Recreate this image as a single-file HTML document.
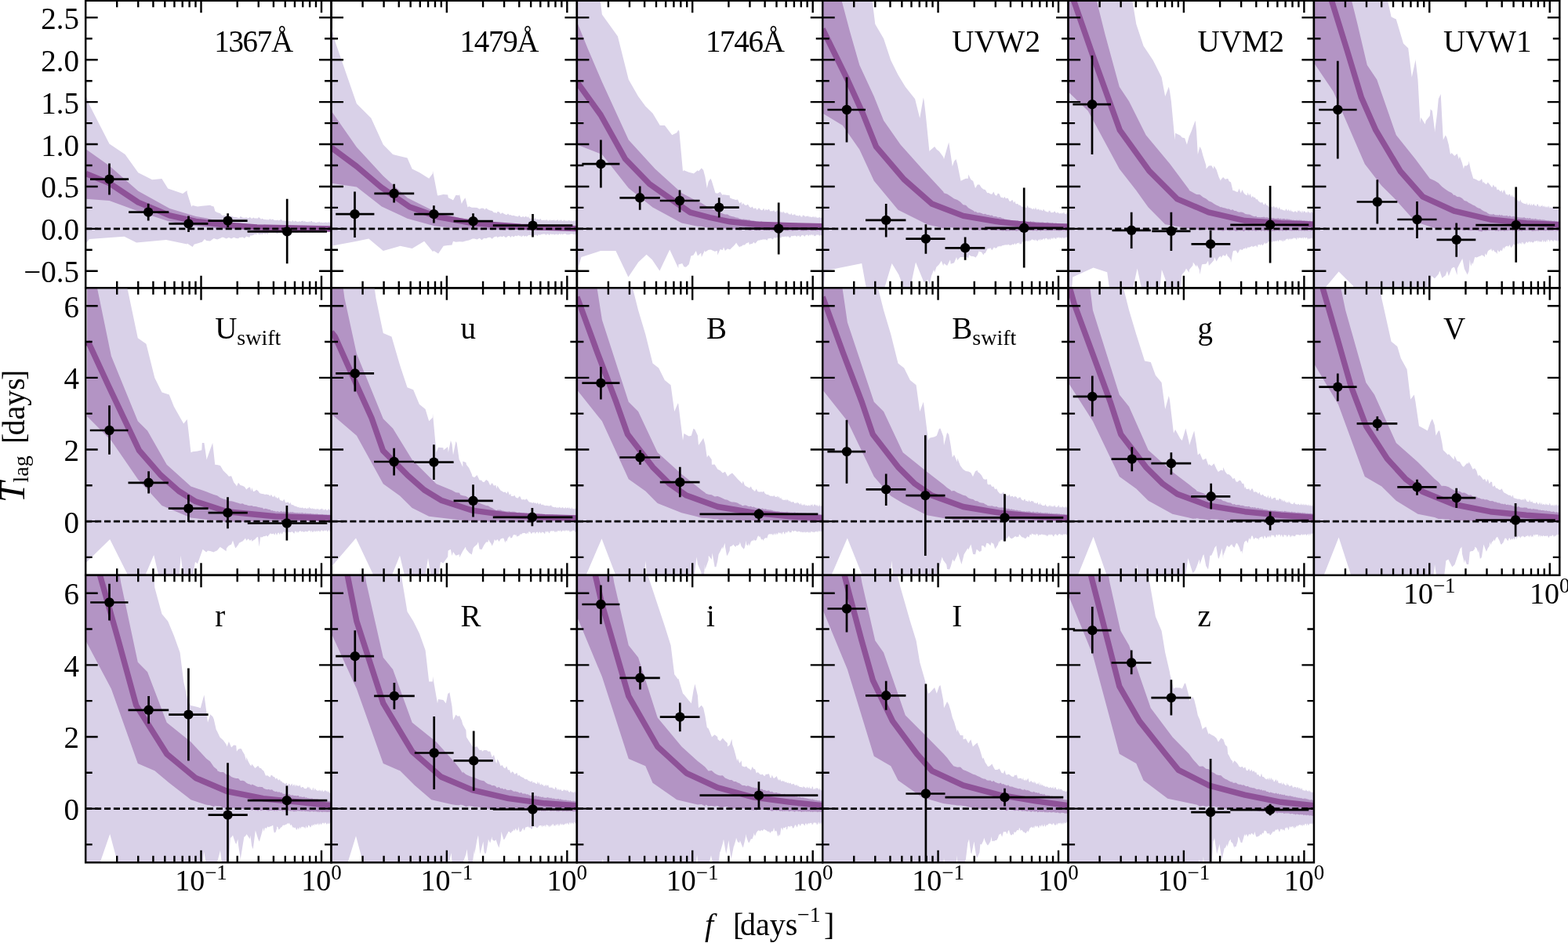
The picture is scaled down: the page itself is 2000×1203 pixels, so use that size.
<!DOCTYPE html><html><head><meta charset="utf-8"><style>html,body{margin:0;padding:0;background:#fff;width:2000px;height:1203px;overflow:hidden}svg{display:block}text{font-family:"Liberation Serif","DejaVu Serif",serif;fill:#000}</style></head><body>
<svg width="2000" height="1203" viewBox="0 0 2000 1203">
<rect width="2000" height="1203" fill="#fff"/>
<defs><clipPath id="c0"><rect x="109.20" y="0.80" width="313.35" height="366.50"/></clipPath><clipPath id="c1"><rect x="422.55" y="0.80" width="313.35" height="366.50"/></clipPath><clipPath id="c2"><rect x="735.90" y="0.80" width="313.35" height="366.50"/></clipPath><clipPath id="c3"><rect x="1049.25" y="0.80" width="313.35" height="366.50"/></clipPath><clipPath id="c4"><rect x="1362.60" y="0.80" width="313.35" height="366.50"/></clipPath><clipPath id="c5"><rect x="1675.95" y="0.80" width="313.35" height="366.50"/></clipPath><clipPath id="c6"><rect x="109.20" y="367.30" width="313.35" height="366.50"/></clipPath><clipPath id="c7"><rect x="422.55" y="367.30" width="313.35" height="366.50"/></clipPath><clipPath id="c8"><rect x="735.90" y="367.30" width="313.35" height="366.50"/></clipPath><clipPath id="c9"><rect x="1049.25" y="367.30" width="313.35" height="366.50"/></clipPath><clipPath id="c10"><rect x="1362.60" y="367.30" width="313.35" height="366.50"/></clipPath><clipPath id="c11"><rect x="1675.95" y="367.30" width="313.35" height="366.50"/></clipPath><clipPath id="c12"><rect x="109.20" y="733.80" width="313.35" height="366.50"/></clipPath><clipPath id="c13"><rect x="422.55" y="733.80" width="313.35" height="366.50"/></clipPath><clipPath id="c14"><rect x="735.90" y="733.80" width="313.35" height="366.50"/></clipPath><clipPath id="c15"><rect x="1049.25" y="733.80" width="313.35" height="366.50"/></clipPath><clipPath id="c16"><rect x="1362.60" y="733.80" width="313.35" height="366.50"/></clipPath></defs>
<g clip-path="url(#c0)">
<path d="M109.5 122.3 L113.9 133.4 L139.5 183.6 L159.6 196.9 L176.3 220.3 L194.1 229.2 L206.4 228.1 L214.2 240.4 L233.1 247.1 L238.6 242.9 L238.7 246.0 L244.3 263.8 L245.7 261.9 L252.0 263.4 L257.8 262.7 L263.2 262.2 L268.1 261.7 L269.9 262.7 L272.7 263.6 L274.4 269.4 L277.0 271.0 L281.0 272.2 L283.3 274.9 L284.9 274.8 L288.5 275.0 L291.9 276.1 L295.1 275.5 L298.2 277.0 L301.2 277.0 L304.0 278.0 L305.6 278.3 L306.7 275.8 L309.4 277.8 L311.9 278.0 L314.3 277.4 L316.6 278.4 L318.9 277.0 L321.1 279.0 L323.2 277.5 L325.3 278.7 L327.2 277.9 L327.8 279.4 L329.2 277.5 L331.1 277.5 L332.9 279.7 L334.7 278.8 L336.4 280.0 L338.1 280.1 L339.7 280.3 L341.3 280.2 L342.9 280.5 L344.4 279.0 L345.9 280.6 L347.4 279.5 L348.8 280.3 L350.2 281.0 L351.6 281.0 L353.0 281.1 L354.3 280.5 L355.6 281.4 L356.8 280.8 L358.1 280.0 L359.3 280.2 L360.5 281.7 L361.7 281.5 L362.9 281.5 L364.0 281.9 L365.1 282.0 L366.2 280.3 L367.3 282.3 L368.4 282.4 L369.4 281.6 L370.4 282.6 L371.5 282.5 L372.4 282.7 L372.5 281.5 L373.5 281.1 L374.4 282.5 L375.4 282.8 L376.3 281.4 L377.3 282.1 L378.2 282.5 L379.1 282.8 L380.0 282.8 L380.9 282.9 L381.7 282.0 L382.6 282.7 L383.5 283.1 L384.3 281.7 L385.1 282.2 L385.9 281.8 L386.7 281.6 L387.5 283.3 L388.3 281.9 L389.1 282.3 L389.9 283.1 L390.6 283.3 L391.4 282.9 L392.1 282.9 L392.9 283.5 L393.6 283.2 L394.3 281.9 L395.0 283.3 L395.7 283.4 L396.4 282.1 L397.1 281.9 L397.8 282.1 L398.5 283.8 L399.2 282.5 L399.8 283.8 L400.5 283.7 L401.1 282.5 L401.8 284.0 L402.4 284.0 L403.1 283.9 L403.7 284.0 L404.3 283.9 L404.9 283.1 L405.5 283.4 L406.1 284.1 L406.7 283.1 L407.3 282.6 L407.9 283.6 L408.5 284.2 L409.1 283.8 L409.6 283.3 L410.2 284.2 L410.8 283.7 L411.3 283.7 L411.9 284.3 L412.4 284.4 L413.0 283.3 L413.5 284.0 L414.0 284.1 L414.6 284.1 L415.1 283.4 L415.6 283.3 L416.1 284.3 L416.7 283.5 L417.2 284.6 L417.7 283.2 L418.2 284.7 L418.7 282.9 L419.2 282.9 L419.7 284.1 L420.2 283.3 L420.6 283.9 L421.1 284.8 L421.6 283.9 L422.1 283.0 L422.5 283.9 L423.0 284.8 L423.5 284.6 L423.9 283.6 L424.4 283.8 L424.8 284.9 L425.0 285.0 L425.3 283.7 L425.7 284.8 L426.2 285.0 L426.6 283.4 L427.1 284.3 L427.5 284.0 L428.0 284.9 L428.4 284.4 L428.8 283.4 L428.8 295.1 L428.4 295.0 L428.0 296.6 L427.5 295.2 L427.1 296.0 L426.6 295.9 L426.2 295.1 L425.7 295.0 L425.3 295.9 L425.0 295.0 L424.8 295.9 L424.4 295.7 L423.9 295.0 L423.5 295.6 L423.0 295.1 L422.5 295.5 L422.1 295.2 L421.6 295.1 L421.1 296.1 L420.6 295.8 L420.2 295.1 L419.7 296.1 L419.2 295.2 L418.7 295.1 L418.2 296.4 L417.7 295.2 L417.2 295.5 L416.7 295.6 L416.1 295.3 L415.6 296.2 L415.1 295.2 L414.6 295.2 L414.0 295.6 L413.5 296.0 L413.0 296.9 L412.4 296.2 L411.9 296.0 L411.3 295.3 L410.8 295.3 L410.2 295.7 L409.6 295.3 L409.1 295.5 L408.5 296.0 L407.9 297.0 L407.3 295.4 L406.7 295.5 L406.1 295.4 L405.5 296.9 L404.9 295.7 L404.3 295.7 L403.7 296.4 L403.1 295.7 L402.4 296.3 L401.8 296.6 L401.1 296.1 L400.5 295.6 L399.8 295.5 L399.2 297.0 L398.5 296.7 L397.8 295.6 L397.1 295.9 L396.4 296.3 L395.7 295.8 L395.0 297.1 L394.3 296.3 L393.6 296.2 L392.9 296.1 L392.1 295.7 L391.4 295.8 L390.6 295.8 L389.9 295.8 L389.1 297.0 L388.3 296.8 L387.5 296.1 L386.7 296.4 L385.9 296.0 L385.1 295.9 L384.3 297.3 L383.5 296.1 L382.6 296.1 L381.7 295.9 L380.9 296.0 L380.0 297.2 L379.1 296.8 L378.2 297.4 L377.3 296.6 L376.3 297.3 L375.4 296.1 L374.4 297.3 L373.5 296.2 L372.5 297.7 L372.4 296.1 L371.5 296.2 L370.4 296.2 L369.4 296.2 L368.4 298.0 L367.3 296.2 L366.2 296.3 L365.1 296.4 L364.0 296.9 L362.9 296.4 L361.7 296.4 L360.5 296.4 L359.3 297.1 L358.1 296.6 L356.8 297.4 L355.6 296.7 L354.3 298.0 L353.0 298.3 L351.6 297.1 L350.2 296.7 L348.8 297.3 L347.4 296.7 L345.9 297.2 L344.4 296.8 L342.9 296.9 L341.3 299.0 L339.7 297.7 L338.1 298.7 L336.4 297.5 L334.7 298.9 L332.9 298.3 L331.1 299.2 L329.2 298.3 L327.8 297.2 L327.2 299.5 L325.3 298.6 L323.2 299.8 L321.1 300.6 L318.9 300.6 L318.9 302.4 L316.6 302.5 L314.3 301.4 L311.9 304.1 L309.4 302.6 L306.7 302.9 L305.6 302.8 L304.0 304.2 L301.2 304.0 L298.2 302.8 L295.1 304.6 L291.9 302.9 L288.5 304.4 L284.9 302.8 L283.3 302.8 L281.0 304.0 L277.0 305.4 L272.7 304.1 L268.1 307.5 L263.2 307.1 L261.0 305.0 L257.8 308.8 L252.0 310.4 L247.6 311.7 L245.7 315.1 L238.7 310.6 L238.6 311.6 L212.0 306.1 L174.1 309.5 L158.5 301.7 L113.9 305.0 L109.5 310.6 Z" fill="#d9d1e8"/>
<path d="M109.5 190.3 L139.5 211.4 L176.3 243.7 L216.4 266.0 L249.8 276.0 L263.2 278.3 L268.1 279.6 L272.7 280.5 L277.0 281.1 L281.0 282.3 L283.3 282.7 L284.9 282.5 L288.5 283.1 L291.9 283.5 L295.1 283.6 L298.2 284.2 L301.2 284.5 L304.0 284.2 L306.7 284.6 L309.4 285.3 L311.9 285.2 L314.3 285.7 L316.6 286.0 L318.9 285.8 L321.1 286.2 L323.2 285.9 L325.3 286.9 L327.2 286.3 L327.8 287.2 L329.2 287.1 L331.1 287.2 L332.9 286.8 L334.7 287.2 L336.4 286.8 L338.1 286.6 L339.7 287.4 L341.3 287.4 L342.9 286.9 L344.4 287.3 L345.9 287.5 L347.4 287.2 L348.8 286.9 L350.2 287.6 L351.6 287.0 L353.0 287.4 L354.3 287.5 L355.6 287.5 L356.8 287.4 L358.1 287.0 L359.3 287.2 L360.5 287.4 L361.7 287.0 L362.9 287.0 L364.0 287.8 L365.1 287.8 L366.2 287.8 L367.3 287.9 L368.4 287.3 L369.4 287.7 L370.4 287.6 L371.5 288.0 L372.5 288.0 L373.5 287.5 L374.4 287.8 L375.4 287.8 L376.3 287.8 L377.3 287.9 L378.2 287.7 L379.1 287.8 L380.0 288.1 L380.9 288.1 L381.7 287.8 L382.6 288.2 L383.5 288.2 L384.3 287.9 L385.1 287.8 L385.9 288.1 L386.7 287.7 L387.5 288.3 L388.3 287.5 L389.1 288.3 L389.9 288.3 L390.6 287.8 L391.4 287.7 L392.1 288.4 L392.9 288.3 L393.6 287.8 L394.3 288.0 L395.0 288.4 L395.7 288.2 L396.4 288.3 L397.1 288.1 L397.8 288.3 L398.5 288.0 L399.2 288.2 L399.8 288.5 L400.5 288.2 L401.1 288.1 L401.8 288.4 L402.4 288.6 L403.1 288.1 L403.7 288.1 L404.3 288.6 L404.9 288.3 L405.5 288.6 L406.1 287.9 L406.7 287.9 L407.3 288.1 L407.9 288.7 L408.5 288.6 L409.1 288.6 L409.6 288.5 L410.2 288.6 L410.8 288.7 L411.3 288.2 L411.9 287.9 L412.4 288.6 L413.0 288.4 L413.5 288.6 L414.0 288.7 L414.6 288.4 L415.1 288.5 L415.6 288.8 L416.1 288.7 L416.7 288.8 L417.2 288.4 L417.7 288.5 L418.2 288.8 L418.7 288.1 L419.2 288.7 L419.7 288.7 L420.2 288.5 L420.6 288.2 L421.1 288.9 L421.6 288.7 L422.1 288.9 L422.5 288.2 L423.0 288.8 L423.5 288.9 L423.9 288.7 L424.4 288.3 L424.8 288.9 L425.0 289.0 L425.3 288.8 L425.7 289.0 L426.2 288.9 L426.6 288.6 L427.1 288.9 L427.5 288.6 L428.0 288.9 L428.4 288.4 L428.8 288.6 L428.8 295.7 L428.4 295.0 L428.0 295.3 L427.5 295.0 L427.1 295.7 L426.6 295.4 L426.2 295.6 L425.7 295.0 L425.3 295.1 L425.0 295.0 L424.8 295.6 L424.4 295.0 L423.9 295.4 L423.5 295.0 L423.0 295.7 L422.5 295.3 L422.1 295.4 L421.6 295.0 L421.1 295.0 L420.6 295.1 L420.2 295.0 L419.7 295.2 L419.2 295.0 L418.7 295.1 L418.2 295.4 L417.7 295.2 L417.2 295.4 L416.7 294.9 L416.1 294.9 L415.6 295.0 L415.1 295.6 L414.6 295.3 L414.0 294.9 L413.5 294.8 L413.0 295.6 L412.4 294.8 L411.9 295.3 L411.3 295.5 L410.8 294.9 L410.2 295.1 L409.6 294.8 L409.1 295.4 L408.5 295.5 L407.9 294.7 L407.3 294.7 L406.7 294.7 L406.1 295.2 L405.5 295.1 L404.9 294.7 L404.3 295.0 L403.7 295.2 L403.1 294.9 L402.4 295.2 L401.8 294.7 L401.1 294.6 L400.5 295.3 L399.8 295.1 L399.2 294.8 L398.5 294.9 L397.8 294.6 L397.1 294.9 L396.4 294.6 L395.7 294.6 L395.0 294.6 L394.3 294.6 L393.6 294.8 L392.9 294.5 L392.1 294.7 L391.4 295.0 L390.6 294.5 L389.9 294.4 L389.1 294.7 L388.3 294.4 L387.5 294.7 L386.7 294.8 L385.9 294.4 L385.1 294.8 L384.3 294.3 L383.5 294.5 L382.6 294.9 L381.7 294.3 L380.9 294.5 L380.0 294.4 L379.1 294.7 L378.2 295.0 L377.3 294.4 L376.3 294.9 L375.4 294.8 L374.4 294.9 L373.5 294.4 L372.5 294.1 L371.5 294.2 L370.4 294.6 L369.4 294.1 L368.4 294.1 L367.3 294.3 L366.2 294.1 L365.1 294.5 L364.0 294.1 L362.9 294.1 L361.7 294.1 L360.5 294.1 L359.3 294.0 L358.1 294.2 L356.8 294.3 L355.6 294.5 L354.3 293.9 L353.0 293.9 L351.6 294.0 L350.2 293.9 L348.8 294.1 L347.4 293.9 L345.9 293.8 L344.4 294.3 L342.9 294.4 L341.3 293.7 L339.7 293.7 L338.1 293.6 L336.4 293.9 L334.7 293.8 L332.9 293.6 L331.1 293.5 L329.2 293.5 L327.8 293.4 L327.2 293.8 L325.3 293.4 L323.2 293.4 L321.1 293.9 L318.9 293.2 L316.6 293.0 L314.3 293.6 L311.9 292.9 L309.4 293.1 L306.7 292.9 L304.0 292.5 L301.2 292.5 L298.2 292.3 L295.1 292.2 L291.9 292.4 L288.5 291.9 L284.9 292.1 L283.3 291.6 L281.0 291.7 L277.0 291.9 L272.7 290.8 L268.1 290.3 L263.2 289.8 L249.8 288.3 L216.4 282.7 L176.3 269.4 L139.5 256.0 L109.5 253.8 Z" fill="#b394c4"/>
<path d="M109.5 221.4 L139.5 233.7 L176.3 258.2 L216.4 274.9 L249.8 282.3 L283.3 286.7 L327.8 289.9 L425.0 292.1" fill="none" stroke="#8e5298" stroke-width="7.4" stroke-linejoin="round"/>
<line x1="109.20" y1="291.84" x2="422.55" y2="291.84" stroke="#000" stroke-width="2.6" stroke-dasharray="8.1 3.8"/>
<line x1="115.0" y1="228.6" x2="164.1" y2="228.6" stroke="#000" stroke-width="2.7"/>
<line x1="139.5" y1="208.5" x2="139.5" y2="248.6" stroke="#000" stroke-width="2.7"/>
<circle cx="139.5" cy="228.6" r="6.2"/>
<line x1="164.1" y1="270.7" x2="215.3" y2="270.7" stroke="#000" stroke-width="2.7"/>
<line x1="189.2" y1="259.8" x2="189.2" y2="281.6" stroke="#000" stroke-width="2.7"/>
<circle cx="189.2" cy="270.7" r="6.2"/>
<line x1="215.3" y1="285.4" x2="265.4" y2="285.4" stroke="#000" stroke-width="2.7"/>
<line x1="240.5" y1="275.4" x2="240.5" y2="296.1" stroke="#000" stroke-width="2.7"/>
<circle cx="240.5" cy="285.4" r="6.2"/>
<line x1="265.4" y1="281.6" x2="315.6" y2="281.6" stroke="#000" stroke-width="2.7"/>
<line x1="290.6" y1="272.3" x2="290.6" y2="290.1" stroke="#000" stroke-width="2.7"/>
<circle cx="290.6" cy="281.6" r="6.2"/>
<line x1="315.6" y1="295.4" x2="417.0" y2="295.4" stroke="#000" stroke-width="2.7"/>
<line x1="366.2" y1="253.8" x2="366.2" y2="336.2" stroke="#000" stroke-width="2.7"/>
<circle cx="366.2" cy="295.4" r="6.2"/>
</g>
<path d="M149.21 0.80 V9.30 M149.21 367.30 V358.80 M176.24 0.80 V9.30 M176.24 367.30 V358.80 M195.42 0.80 V9.30 M195.42 367.30 V358.80 M210.29 0.80 V9.30 M210.29 367.30 V358.80 M222.45 0.80 V9.30 M222.45 367.30 V358.80 M232.72 0.80 V9.30 M232.72 367.30 V358.80 M241.62 0.80 V9.30 M241.62 367.30 V358.80 M249.48 0.80 V9.30 M249.48 367.30 V358.80 M256.50 0.80 V16.30 M256.50 367.30 V351.80 M302.71 0.80 V9.30 M302.71 367.30 V358.80 M329.74 0.80 V9.30 M329.74 367.30 V358.80 M348.92 0.80 V9.30 M348.92 367.30 V358.80 M363.79 0.80 V9.30 M363.79 367.30 V358.80 M375.95 0.80 V9.30 M375.95 367.30 V358.80 M386.22 0.80 V9.30 M386.22 367.30 V358.80 M395.12 0.80 V9.30 M395.12 367.30 V358.80 M402.98 0.80 V9.30 M402.98 367.30 V358.80 M410.00 0.80 V16.30 M410.00 367.30 V351.80 M109.20 345.74 H124.70 M422.55 345.74 H407.05 M109.20 291.84 H124.70 M422.55 291.84 H407.05 M109.20 237.95 H124.70 M422.55 237.95 H407.05 M109.20 184.05 H124.70 M422.55 184.05 H407.05 M109.20 130.15 H124.70 M422.55 130.15 H407.05 M109.20 76.26 H124.70 M422.55 76.26 H407.05 M109.20 22.36 H124.70 M422.55 22.36 H407.05 M109.20 318.79 H117.70 M422.55 318.79 H414.05 M109.20 264.90 H117.70 M422.55 264.90 H414.05 M109.20 211.00 H117.70 M422.55 211.00 H414.05 M109.20 157.10 H117.70 M422.55 157.10 H414.05 M109.20 103.20 H117.70 M422.55 103.20 H414.05 M109.20 49.31 H117.70 M422.55 49.31 H414.05 M109.20 -4.59 H117.70 M422.55 -4.59 H414.05" stroke="#000" stroke-width="2.40" fill="none"/>
<rect x="109.20" y="0.80" width="313.35" height="366.50" fill="none" stroke="#000" stroke-width="2.50"/>
<text x="101" y="346.74" font-size="39" text-anchor="end" dominant-baseline="central">−0.5</text>
<text x="101" y="292.84" font-size="39" text-anchor="end" dominant-baseline="central">0.0</text>
<text x="101" y="238.95" font-size="39" text-anchor="end" dominant-baseline="central">0.5</text>
<text x="101" y="185.05" font-size="39" text-anchor="end" dominant-baseline="central">1.0</text>
<text x="101" y="131.15" font-size="39" text-anchor="end" dominant-baseline="central">1.5</text>
<text x="101" y="77.26" font-size="39" text-anchor="end" dominant-baseline="central">2.0</text>
<text x="101" y="23.36" font-size="39" text-anchor="end" dominant-baseline="central">2.5</text>
<text x="273.20" y="65.80" font-size="39" letter-spacing="-1.3">1367Å</text>
<g clip-path="url(#c1)">
<path d="M422.6 33.8 L427.2 52.3 L454.9 132.3 L473.4 150.8 L488.8 184.6 L501.1 196.9 L519.5 201.5 L525.7 215.4 L534.9 220.0 L547.2 227.7 L551.8 221.5 L552.0 217.8 L558.0 249.2 L559.0 249.4 L565.4 248.0 L571.2 248.6 L571.8 252.3 L576.5 254.6 L578.0 255.4 L581.4 249.0 L585.7 249.2 L586.0 247.6 L588.8 260.0 L590.3 256.7 L593.4 252.3 L594.4 255.7 L596.5 264.6 L598.2 263.3 L601.8 264.8 L605.2 264.7 L608.5 265.1 L611.6 266.8 L614.5 265.4 L617.4 265.9 L618.0 267.7 L620.1 265.5 L622.7 267.5 L625.2 268.5 L627.7 268.9 L630.0 271.2 L632.3 271.2 L633.4 272.3 L634.4 270.1 L636.6 270.3 L638.6 273.1 L640.6 271.2 L642.5 272.5 L644.4 273.5 L646.2 274.2 L648.0 272.4 L649.7 274.6 L651.4 274.1 L653.1 275.2 L654.7 274.7 L656.3 275.3 L657.8 275.7 L659.3 276.1 L660.7 276.4 L662.2 274.6 L663.6 275.9 L664.2 276.9 L665.0 277.0 L666.3 276.4 L667.6 276.0 L668.9 277.5 L670.2 275.7 L671.4 276.2 L672.7 277.5 L673.9 276.0 L675.0 278.4 L676.2 278.7 L677.3 278.6 L678.5 279.0 L679.6 277.1 L680.6 279.4 L681.7 279.3 L682.8 278.0 L683.8 279.9 L684.8 280.0 L685.8 279.5 L686.8 280.0 L687.8 280.5 L688.7 279.6 L689.7 279.1 L690.6 280.9 L691.5 281.0 L692.4 281.1 L693.3 280.8 L694.2 280.5 L694.9 281.5 L695.1 281.4 L696.0 280.0 L696.8 281.6 L697.6 279.8 L698.5 281.5 L699.3 281.6 L700.1 281.6 L700.9 281.0 L701.7 279.9 L702.5 281.7 L703.2 280.9 L704.0 281.1 L704.7 281.3 L705.5 280.4 L706.2 281.6 L707.0 280.0 L707.7 281.6 L708.4 281.5 L709.1 281.3 L709.8 281.2 L710.5 280.8 L711.2 280.4 L711.8 280.1 L712.5 281.9 L713.2 281.9 L713.8 280.7 L714.5 280.6 L715.1 281.8 L715.8 280.3 L716.4 280.4 L717.0 282.0 L717.6 282.0 L718.3 282.0 L718.9 280.4 L719.5 280.4 L720.1 281.9 L720.7 280.4 L721.3 282.0 L721.8 281.6 L722.4 281.5 L723.0 281.4 L723.5 282.1 L724.1 282.2 L724.7 280.5 L725.2 280.9 L725.8 281.7 L726.3 281.3 L726.9 280.9 L727.4 282.2 L727.9 282.1 L728.4 281.2 L729.0 281.4 L729.5 281.9 L730.0 282.2 L730.5 282.3 L731.0 282.1 L731.5 281.5 L732.0 281.9 L732.5 281.5 L733.0 280.5 L733.5 281.9 L734.0 282.2 L734.5 280.7 L734.9 280.4 L735.4 281.9 L735.9 280.7 L736.4 282.0 L736.8 282.4 L737.3 281.9 L737.7 280.7 L738.0 282.5 L738.2 281.5 L738.7 282.4 L739.1 282.4 L739.5 280.5 L740.0 281.6 L740.4 281.7 L740.9 281.4 L741.3 280.8 L741.7 281.2 L742.2 282.0 L742.2 298.1 L741.7 297.9 L741.3 297.8 L740.9 298.6 L740.4 299.1 L740.0 297.9 L739.5 299.0 L739.1 298.4 L738.7 298.0 L738.2 298.0 L738.0 297.8 L737.7 298.4 L737.3 297.9 L736.8 298.5 L736.4 298.3 L735.9 297.9 L735.4 297.9 L734.9 298.2 L734.5 298.2 L734.0 297.9 L733.5 299.8 L733.0 299.5 L732.5 299.6 L732.0 298.1 L731.5 299.1 L731.0 299.5 L730.5 298.0 L730.0 298.7 L729.5 298.0 L729.0 298.6 L728.4 298.0 L727.9 299.1 L727.4 298.0 L726.9 299.2 L726.3 298.5 L725.8 300.0 L725.2 298.9 L724.7 298.3 L724.1 299.7 L723.5 299.8 L723.0 298.3 L722.4 299.6 L721.8 298.1 L721.3 298.8 L720.7 298.1 L720.1 298.1 L719.5 298.6 L718.9 298.5 L718.3 298.6 L717.6 299.8 L717.0 298.3 L716.4 298.2 L715.8 298.2 L715.1 300.0 L714.5 298.3 L713.8 298.2 L713.2 298.2 L712.5 299.1 L711.8 299.5 L711.2 299.8 L710.5 298.3 L709.8 298.6 L709.1 299.7 L708.4 298.3 L707.7 299.3 L707.0 299.9 L706.2 298.3 L705.5 299.1 L704.7 298.6 L704.0 299.5 L703.2 298.4 L702.5 298.4 L701.7 298.6 L700.9 300.1 L700.1 299.8 L699.3 298.4 L698.5 298.5 L697.6 298.5 L696.8 300.4 L696.0 298.5 L695.1 299.5 L694.9 298.5 L694.2 298.6 L693.3 298.6 L692.4 298.7 L691.5 298.7 L690.6 299.0 L689.7 299.0 L688.7 300.3 L687.8 299.1 L686.8 299.3 L685.8 301.0 L684.8 300.8 L683.8 299.0 L682.8 300.4 L681.7 299.4 L680.6 300.7 L679.6 300.5 L678.5 299.5 L677.3 300.7 L676.2 300.0 L675.0 299.8 L673.9 300.2 L672.7 301.2 L671.4 301.7 L670.2 300.7 L668.9 302.0 L667.6 300.2 L666.3 301.2 L665.0 302.5 L664.2 300.0 L663.6 301.8 L662.2 300.4 L660.7 300.2 L659.3 301.5 L657.8 300.6 L656.3 301.6 L654.7 302.2 L653.1 300.8 L651.4 303.0 L649.7 300.9 L648.0 300.9 L646.2 302.8 L644.4 302.8 L642.5 301.1 L640.6 302.3 L638.6 301.5 L636.6 302.0 L634.4 303.0 L633.4 301.5 L632.3 301.8 L630.0 302.6 L627.7 304.8 L625.2 302.8 L622.7 303.0 L620.1 304.3 L617.4 303.8 L614.5 306.3 L611.6 303.7 L608.5 305.5 L605.2 304.4 L602.6 304.6 L601.8 304.9 L598.2 306.6 L594.4 307.3 L590.3 308.4 L586.0 308.2 L581.4 308.8 L578.0 307.7 L576.5 312.4 L571.2 313.1 L565.7 313.8 L565.4 314.3 L559.5 323.1 L559.0 323.6 L553.4 320.0 L552.0 321.0 L541.1 307.7 L525.7 316.9 L510.3 313.8 L488.8 320.0 L470.3 304.6 L454.9 307.7 L422.6 313.8 Z" fill="#d9d1e8"/>
<path d="M422.6 141.5 L454.9 187.7 L488.8 224.6 L519.5 252.3 L556.5 270.8 L576.5 275.7 L581.4 276.8 L586.0 278.0 L587.2 278.5 L590.3 278.8 L594.4 279.3 L598.2 279.4 L601.8 279.5 L605.2 280.6 L608.5 280.4 L611.6 280.9 L614.5 281.7 L617.4 282.3 L620.1 282.1 L622.7 282.3 L625.2 283.1 L627.7 283.9 L630.0 283.7 L632.3 284.5 L633.4 284.6 L634.4 284.5 L636.6 283.9 L638.6 284.1 L640.6 285.1 L642.5 285.1 L644.4 284.5 L646.2 285.3 L648.0 285.6 L649.7 285.0 L651.4 285.6 L653.1 285.8 L654.7 285.3 L656.3 285.6 L657.8 285.6 L659.3 286.3 L660.7 286.2 L662.2 286.5 L663.6 286.6 L665.0 286.6 L666.3 286.3 L667.6 286.0 L668.9 286.4 L670.2 286.5 L671.4 287.0 L672.7 286.4 L673.9 287.2 L675.0 287.0 L676.2 286.9 L677.3 286.9 L678.5 287.5 L679.6 287.3 L680.6 287.7 L681.7 287.4 L682.8 287.7 L683.8 287.6 L684.8 287.7 L685.8 288.0 L686.8 288.1 L687.8 288.2 L688.7 288.1 L689.7 288.0 L690.6 288.3 L691.5 288.3 L692.4 288.4 L693.3 287.7 L694.2 288.1 L694.9 288.6 L695.1 288.5 L696.0 288.5 L696.8 288.7 L697.6 287.9 L698.5 288.6 L699.3 288.7 L700.1 288.3 L700.9 288.0 L701.7 288.7 L702.5 288.8 L703.2 288.5 L704.0 288.6 L704.7 288.6 L705.5 288.4 L706.2 288.8 L707.0 288.8 L707.7 288.9 L708.4 288.5 L709.1 288.8 L709.8 289.0 L710.5 288.3 L711.2 289.1 L711.8 288.8 L712.5 288.6 L713.2 289.1 L713.8 288.8 L714.5 289.2 L715.1 288.7 L715.8 289.1 L716.4 288.8 L717.0 289.2 L717.6 288.9 L718.3 288.7 L718.9 289.1 L719.5 289.3 L720.1 288.7 L720.7 289.3 L721.3 289.3 L721.8 289.0 L722.4 289.2 L723.0 289.4 L723.5 289.4 L724.1 289.0 L724.7 289.5 L725.2 289.4 L725.8 288.9 L726.3 288.7 L726.9 288.9 L727.4 289.5 L727.9 289.5 L728.4 289.4 L729.0 289.2 L729.5 289.0 L730.0 289.2 L730.5 289.6 L731.0 289.0 L731.5 289.4 L732.0 289.2 L732.5 289.3 L733.0 289.6 L733.5 289.7 L734.0 289.4 L734.5 289.0 L734.9 289.6 L735.4 289.1 L735.9 289.7 L736.4 289.5 L736.8 289.4 L737.3 289.8 L737.7 289.6 L738.0 289.8 L738.2 289.5 L738.7 289.3 L739.1 289.5 L739.5 289.2 L740.0 289.8 L740.4 289.6 L740.9 289.8 L741.3 289.8 L741.7 289.2 L742.2 289.8 L742.2 294.2 L741.7 294.1 L741.3 294.1 L740.9 293.9 L740.4 294.1 L740.0 294.1 L739.5 294.6 L739.1 293.9 L738.7 293.8 L738.2 293.9 L738.0 293.8 L737.7 293.8 L737.3 294.0 L736.8 294.1 L736.4 294.0 L735.9 294.1 L735.4 294.5 L734.9 294.2 L734.5 293.8 L734.0 293.8 L733.5 294.4 L733.0 293.8 L732.5 294.4 L732.0 294.0 L731.5 293.9 L731.0 293.9 L730.5 294.4 L730.0 294.0 L729.5 293.7 L729.0 293.9 L728.4 293.9 L727.9 294.4 L727.4 293.8 L726.9 293.7 L726.3 294.2 L725.8 293.8 L725.2 293.8 L724.7 294.0 L724.1 293.8 L723.5 293.8 L723.0 294.1 L722.4 293.9 L721.8 293.7 L721.3 293.9 L720.7 294.1 L720.1 293.7 L719.5 293.6 L718.9 293.6 L718.3 294.0 L717.6 293.6 L717.0 294.2 L716.4 294.1 L715.8 293.6 L715.1 293.9 L714.5 293.7 L713.8 293.6 L713.2 293.7 L712.5 293.5 L711.8 293.8 L711.2 293.6 L710.5 293.6 L709.8 293.5 L709.1 293.7 L708.4 293.5 L707.7 293.5 L707.0 293.5 L706.2 293.4 L705.5 293.8 L704.7 293.8 L704.0 293.7 L703.2 294.1 L702.5 293.9 L701.7 293.5 L700.9 293.9 L700.1 293.9 L699.3 293.5 L698.5 294.0 L697.6 293.3 L696.8 293.8 L696.0 293.3 L695.1 293.4 L694.9 293.2 L694.2 293.6 L693.3 293.4 L692.4 293.3 L691.5 293.3 L690.6 293.3 L689.7 293.2 L688.7 293.2 L687.8 293.2 L686.8 293.6 L685.8 293.6 L684.8 293.2 L683.8 293.2 L682.8 293.4 L681.7 293.2 L680.6 293.3 L679.6 293.7 L678.5 293.5 L677.3 293.7 L676.2 293.7 L675.0 293.6 L673.9 293.7 L672.7 293.5 L671.4 293.3 L670.2 293.1 L668.9 293.1 L667.6 293.5 L666.3 293.1 L665.0 293.6 L663.6 293.4 L662.2 293.8 L660.7 293.1 L659.3 293.1 L657.8 293.0 L656.3 293.0 L654.7 293.1 L653.1 293.0 L651.4 293.6 L649.7 293.0 L648.0 293.0 L646.2 293.0 L644.4 293.7 L642.5 293.8 L640.6 293.3 L638.6 293.3 L636.6 292.9 L634.4 293.2 L633.4 292.9 L632.3 292.9 L630.0 292.8 L627.7 293.6 L625.2 292.8 L622.7 292.8 L620.1 292.8 L617.4 293.1 L614.5 293.4 L611.6 293.0 L608.5 292.7 L605.2 292.4 L601.8 292.8 L598.2 292.6 L594.4 292.4 L590.3 292.4 L587.2 291.7 L586.0 291.6 L581.4 291.1 L576.5 290.8 L554.0 288.3 L519.5 278.8 L486.9 263.4 L454.9 238.5 L422.6 233.8 Z" fill="#b394c4"/>
<path d="M422.6 188.3 L454.9 212.3 L485.7 238.5 L522.6 264.0 L559.5 276.9 L602.6 284.6 L664.2 289.2 L738.0 291.7" fill="none" stroke="#8e5298" stroke-width="7.4" stroke-linejoin="round"/>
<line x1="422.55" y1="291.84" x2="735.90" y2="291.84" stroke="#000" stroke-width="2.6" stroke-dasharray="8.1 3.8"/>
<line x1="428.2" y1="273.2" x2="477.4" y2="273.2" stroke="#000" stroke-width="2.7"/>
<line x1="452.5" y1="244.6" x2="452.5" y2="303.1" stroke="#000" stroke-width="2.7"/>
<circle cx="452.5" cy="273.2" r="6.2"/>
<line x1="477.4" y1="246.8" x2="528.2" y2="246.8" stroke="#000" stroke-width="2.7"/>
<line x1="502.6" y1="234.8" x2="502.6" y2="258.5" stroke="#000" stroke-width="2.7"/>
<circle cx="502.6" cy="246.8" r="6.2"/>
<line x1="528.2" y1="273.2" x2="578.6" y2="273.2" stroke="#000" stroke-width="2.7"/>
<line x1="553.4" y1="262.2" x2="553.4" y2="284.6" stroke="#000" stroke-width="2.7"/>
<circle cx="553.4" cy="273.2" r="6.2"/>
<line x1="578.6" y1="282.2" x2="628.8" y2="282.2" stroke="#000" stroke-width="2.7"/>
<line x1="603.5" y1="272.3" x2="603.5" y2="291.7" stroke="#000" stroke-width="2.7"/>
<circle cx="603.5" cy="282.2" r="6.2"/>
<line x1="628.8" y1="287.7" x2="730.3" y2="287.7" stroke="#000" stroke-width="2.7"/>
<line x1="679.5" y1="272.9" x2="679.5" y2="302.5" stroke="#000" stroke-width="2.7"/>
<circle cx="679.5" cy="287.7" r="6.2"/>
</g>
<path d="M462.56 0.80 V9.30 M462.56 367.30 V358.80 M489.59 0.80 V9.30 M489.59 367.30 V358.80 M508.77 0.80 V9.30 M508.77 367.30 V358.80 M523.64 0.80 V9.30 M523.64 367.30 V358.80 M535.80 0.80 V9.30 M535.80 367.30 V358.80 M546.07 0.80 V9.30 M546.07 367.30 V358.80 M554.97 0.80 V9.30 M554.97 367.30 V358.80 M562.83 0.80 V9.30 M562.83 367.30 V358.80 M569.85 0.80 V16.30 M569.85 367.30 V351.80 M616.06 0.80 V9.30 M616.06 367.30 V358.80 M643.09 0.80 V9.30 M643.09 367.30 V358.80 M662.27 0.80 V9.30 M662.27 367.30 V358.80 M677.14 0.80 V9.30 M677.14 367.30 V358.80 M689.30 0.80 V9.30 M689.30 367.30 V358.80 M699.57 0.80 V9.30 M699.57 367.30 V358.80 M708.47 0.80 V9.30 M708.47 367.30 V358.80 M716.33 0.80 V9.30 M716.33 367.30 V358.80 M723.35 0.80 V16.30 M723.35 367.30 V351.80 M422.55 345.74 H438.05 M735.90 345.74 H720.40 M422.55 291.84 H438.05 M735.90 291.84 H720.40 M422.55 237.95 H438.05 M735.90 237.95 H720.40 M422.55 184.05 H438.05 M735.90 184.05 H720.40 M422.55 130.15 H438.05 M735.90 130.15 H720.40 M422.55 76.26 H438.05 M735.90 76.26 H720.40 M422.55 22.36 H438.05 M735.90 22.36 H720.40 M422.55 318.79 H431.05 M735.90 318.79 H727.40 M422.55 264.90 H431.05 M735.90 264.90 H727.40 M422.55 211.00 H431.05 M735.90 211.00 H727.40 M422.55 157.10 H431.05 M735.90 157.10 H727.40 M422.55 103.20 H431.05 M735.90 103.20 H727.40 M422.55 49.31 H431.05 M735.90 49.31 H727.40 M422.55 -4.59 H431.05 M735.90 -4.59 H727.40" stroke="#000" stroke-width="2.40" fill="none"/>
<rect x="422.55" y="0.80" width="313.35" height="366.50" fill="none" stroke="#000" stroke-width="2.50"/>
<text x="586.55" y="65.80" font-size="39" letter-spacing="-1.3">1479Å</text>
<g clip-path="url(#c2)">
<path d="M735.9 -6.2 L764.8 -6.2 L767.9 18.5 L787.9 46.2 L801.8 101.5 L814.1 123.1 L823.3 135.4 L832.5 144.6 L841.8 160.0 L847.9 160.0 L857.2 172.3 L863.3 169.2 L865.3 165.8 L866.4 167.7 L871.0 218.5 L872.4 217.3 L878.7 219.8 L884.5 221.3 L884.8 221.5 L889.9 217.3 L891.0 218.5 L894.8 214.6 L897.2 216.9 L899.4 225.6 L901.8 240.0 L903.7 231.7 L906.4 227.7 L907.7 230.5 L911.6 243.2 L912.5 246.2 L915.2 246.7 L918.6 244.8 L921.8 249.2 L921.8 248.3 L924.9 248.6 L927.9 248.9 L930.7 249.3 L931.0 252.3 L933.4 253.6 L936.1 254.3 L938.6 255.0 L941.0 254.5 L943.3 259.4 L945.6 257.5 L946.4 261.5 L947.8 259.0 L949.9 261.6 L952.0 262.1 L953.9 260.6 L955.9 264.0 L957.8 265.0 L959.6 263.6 L961.4 266.5 L963.1 265.2 L964.8 266.2 L964.8 267.7 L966.4 267.3 L968.0 265.0 L969.6 266.9 L971.1 268.3 L972.6 268.0 L974.1 265.6 L975.5 268.9 L976.9 266.8 L978.3 268.2 L979.7 267.2 L981.0 266.7 L982.3 269.6 L983.5 269.2 L984.8 269.2 L986.0 269.3 L987.2 267.9 L988.4 270.3 L989.6 270.3 L990.7 268.8 L991.8 268.6 L992.5 270.8 L992.9 268.1 L994.0 271.0 L995.1 269.2 L996.1 271.5 L997.1 269.8 L998.2 271.7 L999.2 269.6 L1000.2 271.1 L1001.1 271.8 L1002.1 272.6 L1003.0 270.6 L1004.0 272.6 L1004.9 270.7 L1005.8 273.4 L1006.7 273.1 L1007.6 273.8 L1008.4 273.7 L1009.3 271.6 L1010.2 274.0 L1011.0 274.5 L1011.8 274.2 L1012.6 273.4 L1013.4 273.5 L1014.2 273.3 L1015.0 275.2 L1015.8 274.7 L1016.6 275.1 L1017.3 275.3 L1018.1 274.9 L1018.8 276.0 L1019.6 274.2 L1020.3 274.5 L1021.0 275.6 L1021.7 276.4 L1022.4 276.7 L1023.1 276.0 L1023.3 276.9 L1023.8 274.6 L1024.5 274.6 L1025.2 275.2 L1025.9 274.7 L1026.5 275.8 L1027.2 276.9 L1027.8 275.7 L1028.5 275.8 L1029.1 276.1 L1029.8 275.7 L1030.4 275.5 L1031.0 275.2 L1031.6 277.0 L1032.2 275.4 L1032.8 277.4 L1033.4 276.2 L1034.0 276.5 L1034.6 277.3 L1035.2 276.9 L1035.8 277.3 L1036.3 276.2 L1036.9 276.7 L1037.5 276.6 L1038.0 276.1 L1038.6 277.6 L1039.1 277.8 L1039.7 275.9 L1040.2 276.1 L1040.7 277.8 L1041.3 277.9 L1041.8 276.3 L1042.3 277.9 L1042.8 277.6 L1043.4 277.9 L1043.9 278.0 L1044.4 277.2 L1044.9 276.7 L1045.4 277.7 L1045.9 277.1 L1046.4 278.0 L1046.9 278.1 L1047.3 277.6 L1047.8 278.3 L1048.3 276.1 L1048.8 278.2 L1049.2 276.6 L1049.7 278.0 L1050.2 277.6 L1050.6 278.3 L1051.0 278.5 L1051.1 278.3 L1051.5 278.0 L1052.0 277.9 L1052.4 278.5 L1052.9 277.3 L1053.3 278.2 L1053.8 277.4 L1054.2 277.0 L1054.7 276.3 L1055.1 277.9 L1055.5 278.2 L1055.5 299.8 L1055.1 301.1 L1054.7 301.6 L1054.2 300.7 L1053.8 301.3 L1053.3 299.3 L1052.9 301.2 L1052.4 299.2 L1052.0 299.9 L1051.5 301.6 L1051.1 299.4 L1051.0 299.2 L1050.6 300.6 L1050.2 299.5 L1049.7 299.4 L1049.2 301.6 L1048.8 299.3 L1048.3 300.9 L1047.8 300.6 L1047.3 300.1 L1046.9 300.0 L1046.4 300.2 L1045.9 300.2 L1045.4 301.3 L1044.9 299.3 L1044.4 301.0 L1043.9 299.5 L1043.4 299.2 L1042.8 300.5 L1042.3 299.2 L1041.8 299.6 L1041.3 299.5 L1040.7 300.5 L1040.2 301.6 L1039.7 300.5 L1039.1 301.1 L1038.6 301.5 L1038.0 300.4 L1037.5 299.2 L1036.9 299.5 L1036.3 300.7 L1035.8 299.3 L1035.2 299.2 L1035.0 299.2 L1034.6 299.4 L1034.0 300.9 L1033.4 299.3 L1032.8 299.6 L1032.2 300.1 L1031.6 300.8 L1031.0 301.4 L1030.4 299.8 L1029.8 299.5 L1029.1 299.6 L1028.5 300.0 L1027.8 299.8 L1027.2 300.8 L1026.5 302.2 L1025.9 300.6 L1025.2 301.4 L1024.5 299.8 L1023.8 299.9 L1023.1 300.0 L1022.4 300.2 L1021.7 301.2 L1021.0 302.0 L1020.3 302.5 L1019.6 301.1 L1019.0 300.0 L1018.8 301.8 L1018.1 300.6 L1017.3 300.4 L1016.6 301.9 L1015.8 301.6 L1015.0 301.1 L1014.2 300.6 L1013.4 300.8 L1012.6 300.8 L1011.8 301.0 L1011.0 301.4 L1010.2 300.8 L1009.3 301.1 L1008.4 302.7 L1007.6 302.9 L1006.7 303.0 L1005.8 302.1 L1004.9 300.7 L1004.0 302.2 L1003.0 302.4 L1003.0 300.8 L1002.1 301.8 L1001.1 302.2 L1000.2 301.2 L999.2 302.5 L998.2 301.8 L997.1 302.0 L996.1 303.8 L995.1 302.8 L994.0 302.2 L992.9 302.5 L991.8 302.7 L990.7 303.0 L989.6 303.8 L988.4 303.2 L987.2 303.2 L987.0 303.2 L986.0 305.5 L984.8 304.9 L983.5 303.7 L982.3 304.0 L981.0 304.2 L979.7 304.3 L978.3 306.7 L976.9 305.5 L975.5 305.4 L974.1 305.4 L972.6 305.4 L971.1 306.2 L971.0 305.6 L969.6 306.4 L968.0 306.4 L966.4 306.9 L964.8 309.0 L963.1 310.8 L961.4 308.8 L959.6 311.0 L957.8 311.0 L955.9 312.3 L955.0 308.8 L953.9 309.8 L952.0 310.3 L949.9 312.5 L947.8 312.4 L945.6 314.2 L943.8 314.4 L943.3 315.4 L941.0 312.8 L939.0 309.6 L938.6 310.6 L936.1 313.6 L933.4 315.9 L931.0 318.4 L930.7 318.3 L927.9 317.2 L924.9 319.9 L923.0 315.2 L921.8 319.0 L918.6 317.9 L915.2 325.4 L915.0 320.0 L911.6 320.8 L907.7 319.0 L907.0 318.4 L903.7 318.7 L899.4 321.5 L899.0 319.2 L894.8 327.9 L894.2 322.4 L889.9 326.4 L887.8 320.0 L884.5 325.6 L881.4 326.4 L878.7 337.2 L875.0 340.8 L872.4 340.3 L870.2 336.0 L865.4 337.6 L865.3 342.3 L854.2 318.4 L841.4 345.6 L831.8 331.2 L824.6 324.8 L814.2 334.4 L801.4 353.6 L785.4 320.0 L766.2 320.0 L741.4 328.0 L735.8 347.2 L734.2 347.2 Z" fill="#d9d1e8"/>
<path d="M735.9 27.7 L749.5 61.5 L767.9 104.6 L801.8 178.5 L835.6 215.4 L869.5 246.2 L889.9 257.0 L894.8 259.0 L899.4 261.9 L903.7 264.4 L907.7 266.3 L911.6 268.1 L915.2 269.8 L915.6 270.8 L918.6 270.9 L921.8 272.6 L924.9 273.6 L927.9 273.6 L930.7 275.2 L933.4 276.1 L936.1 276.6 L938.6 277.4 L941.0 277.7 L943.3 279.1 L945.6 279.5 L946.4 280.0 L947.8 279.5 L949.9 279.8 L952.0 280.0 L953.9 280.6 L955.9 280.3 L957.8 281.4 L959.6 281.5 L961.4 281.6 L963.1 282.0 L964.8 282.2 L966.4 282.0 L968.0 282.6 L969.6 282.8 L971.1 282.3 L972.6 283.1 L974.1 283.3 L975.5 283.3 L976.9 283.1 L978.3 283.2 L979.7 283.9 L981.0 284.1 L982.3 283.7 L983.5 283.7 L984.8 283.9 L986.0 284.8 L987.2 284.6 L988.4 284.4 L989.6 285.2 L990.7 285.3 L991.8 285.4 L992.5 285.5 L992.9 284.9 L994.0 285.4 L995.1 285.5 L996.1 285.7 L997.1 285.7 L998.2 285.4 L999.2 285.2 L1000.2 285.7 L1001.1 285.4 L1002.1 285.8 L1003.0 285.6 L1004.0 286.0 L1004.9 285.7 L1005.8 285.9 L1006.7 285.4 L1007.6 285.6 L1008.4 286.1 L1009.3 285.5 L1010.2 286.1 L1011.0 286.1 L1011.8 285.8 L1012.6 286.1 L1013.4 286.1 L1014.2 286.3 L1015.0 286.0 L1015.8 286.1 L1016.6 286.2 L1017.3 286.3 L1018.1 286.5 L1018.8 286.4 L1019.6 286.5 L1020.3 286.5 L1021.0 286.6 L1021.7 286.6 L1022.4 286.4 L1023.1 286.4 L1023.8 286.6 L1024.5 286.5 L1025.2 286.2 L1025.9 286.7 L1026.5 286.8 L1027.2 286.6 L1027.8 286.7 L1028.5 286.1 L1029.1 286.9 L1029.8 286.6 L1030.4 286.9 L1031.0 286.8 L1031.6 286.4 L1032.2 286.6 L1032.8 286.4 L1033.4 286.3 L1034.0 286.6 L1034.6 287.0 L1035.2 287.0 L1035.8 287.1 L1036.3 287.0 L1036.9 286.4 L1037.5 286.5 L1038.0 287.2 L1038.6 287.1 L1039.1 287.1 L1039.7 287.1 L1040.2 286.9 L1040.7 286.9 L1041.3 287.2 L1041.8 287.3 L1042.3 287.2 L1042.8 287.1 L1043.4 287.3 L1043.9 287.3 L1044.4 286.6 L1044.9 287.3 L1045.4 287.4 L1045.9 287.4 L1046.4 286.8 L1046.9 287.4 L1047.3 287.2 L1047.8 287.5 L1048.3 287.6 L1048.8 287.4 L1049.2 287.3 L1049.7 287.6 L1050.2 287.3 L1050.6 287.5 L1051.0 287.7 L1051.1 287.0 L1051.5 287.5 L1052.0 287.7 L1052.4 287.0 L1052.9 286.9 L1053.3 287.0 L1053.8 287.7 L1054.2 287.7 L1054.7 287.2 L1055.1 287.0 L1055.5 287.4 L1055.5 294.5 L1055.1 293.9 L1054.7 294.5 L1054.2 294.5 L1053.8 293.9 L1053.3 293.9 L1052.9 294.3 L1052.4 294.6 L1052.0 293.9 L1051.5 294.4 L1051.1 293.9 L1051.0 293.8 L1050.6 293.9 L1050.2 293.9 L1049.7 294.5 L1049.2 294.3 L1048.8 294.1 L1048.3 293.8 L1047.8 293.9 L1047.3 294.6 L1046.9 294.0 L1046.4 294.5 L1045.9 293.9 L1045.4 293.9 L1044.9 294.0 L1044.4 294.0 L1043.9 294.2 L1043.4 293.9 L1042.8 294.4 L1042.3 294.5 L1041.8 294.5 L1041.3 293.9 L1040.7 293.9 L1040.2 294.5 L1039.7 294.1 L1039.1 294.2 L1038.6 293.8 L1038.0 294.0 L1037.5 294.3 L1036.9 294.2 L1036.3 294.0 L1035.8 294.7 L1035.2 293.9 L1034.6 293.9 L1034.0 294.1 L1033.4 294.1 L1032.8 293.9 L1032.2 294.1 L1031.6 293.9 L1031.0 294.7 L1030.4 294.4 L1029.8 293.9 L1029.1 294.1 L1028.5 294.5 L1027.8 294.4 L1027.2 294.1 L1026.5 293.9 L1025.9 294.5 L1025.2 294.4 L1024.5 294.3 L1023.8 294.7 L1023.1 293.9 L1022.4 294.5 L1021.7 294.2 L1021.0 294.4 L1020.3 294.0 L1019.6 293.8 L1018.8 293.9 L1018.1 293.9 L1017.3 293.9 L1016.6 293.9 L1015.8 294.0 L1015.0 293.9 L1014.2 294.3 L1013.4 293.9 L1012.6 293.9 L1011.8 294.5 L1011.0 294.6 L1010.2 294.6 L1009.3 294.0 L1008.4 294.3 L1007.6 293.9 L1006.7 294.7 L1005.8 293.9 L1004.9 294.4 L1004.0 294.6 L1003.0 294.1 L1002.1 294.7 L1001.1 293.8 L1000.2 294.0 L999.2 294.5 L998.2 293.9 L997.1 294.2 L996.1 294.4 L995.1 293.9 L994.0 293.8 L992.9 294.2 L992.5 293.8 L991.8 294.4 L990.7 293.9 L989.6 294.6 L988.4 294.5 L987.2 293.9 L986.0 294.4 L984.8 294.6 L983.5 294.2 L982.3 294.1 L981.0 293.9 L979.7 293.6 L978.3 293.7 L976.9 293.8 L975.5 293.6 L974.1 294.1 L972.6 293.5 L971.1 293.6 L969.6 293.9 L968.0 294.1 L966.4 293.4 L964.8 294.2 L963.1 293.4 L961.4 293.2 L959.6 293.6 L957.8 294.0 L955.9 293.9 L953.9 293.1 L952.0 293.0 L949.9 293.0 L947.8 293.0 L946.4 292.9 L945.6 293.2 L943.3 293.4 L941.0 292.8 L938.6 292.4 L936.1 292.3 L933.4 292.1 L930.7 293.1 L927.9 291.6 L924.9 291.7 L921.8 291.3 L918.6 291.0 L915.6 290.8 L915.2 291.5 L911.6 291.1 L907.7 289.7 L903.7 290.2 L899.4 289.9 L894.8 288.8 L889.9 288.8 L869.5 284.6 L832.5 264.6 L801.8 240.0 L767.9 196.9 L735.9 184.6 Z" fill="#b394c4"/>
<path d="M735.9 104.6 L739.3 109.2 L766.1 146.5 L797.5 202.8 L828.5 234.8 L859.6 256.6 L879.9 270.8 L905.5 277.5 L931.0 282.8 L964.8 286.2 L1007.9 287.7 L1051.0 288.6" fill="none" stroke="#8e5298" stroke-width="7.4" stroke-linejoin="round"/>
<line x1="735.90" y1="291.84" x2="1049.25" y2="291.84" stroke="#000" stroke-width="2.6" stroke-dasharray="8.1 3.8"/>
<line x1="742.4" y1="209.2" x2="790.4" y2="209.2" stroke="#000" stroke-width="2.7"/>
<line x1="766.4" y1="178.5" x2="766.4" y2="239.4" stroke="#000" stroke-width="2.7"/>
<circle cx="766.4" cy="209.2" r="6.2"/>
<line x1="790.4" y1="252.3" x2="841.8" y2="252.3" stroke="#000" stroke-width="2.7"/>
<line x1="816.2" y1="237.5" x2="816.2" y2="267.7" stroke="#000" stroke-width="2.7"/>
<circle cx="816.2" cy="252.3" r="6.2"/>
<line x1="841.8" y1="256.0" x2="892.5" y2="256.0" stroke="#000" stroke-width="2.7"/>
<line x1="867.0" y1="242.5" x2="867.0" y2="270.8" stroke="#000" stroke-width="2.7"/>
<circle cx="867.0" cy="256.0" r="6.2"/>
<line x1="892.5" y1="264.6" x2="942.7" y2="264.6" stroke="#000" stroke-width="2.7"/>
<line x1="917.2" y1="252.3" x2="917.2" y2="277.5" stroke="#000" stroke-width="2.7"/>
<circle cx="917.2" cy="264.6" r="6.2"/>
<line x1="942.7" y1="291.7" x2="1043.3" y2="291.7" stroke="#000" stroke-width="2.7"/>
<line x1="993.2" y1="258.5" x2="993.2" y2="324.6" stroke="#000" stroke-width="2.7"/>
<circle cx="993.2" cy="291.7" r="6.2"/>
</g>
<path d="M775.91 0.80 V9.30 M775.91 367.30 V358.80 M802.94 0.80 V9.30 M802.94 367.30 V358.80 M822.12 0.80 V9.30 M822.12 367.30 V358.80 M836.99 0.80 V9.30 M836.99 367.30 V358.80 M849.15 0.80 V9.30 M849.15 367.30 V358.80 M859.42 0.80 V9.30 M859.42 367.30 V358.80 M868.32 0.80 V9.30 M868.32 367.30 V358.80 M876.18 0.80 V9.30 M876.18 367.30 V358.80 M883.20 0.80 V16.30 M883.20 367.30 V351.80 M929.41 0.80 V9.30 M929.41 367.30 V358.80 M956.44 0.80 V9.30 M956.44 367.30 V358.80 M975.62 0.80 V9.30 M975.62 367.30 V358.80 M990.49 0.80 V9.30 M990.49 367.30 V358.80 M1002.65 0.80 V9.30 M1002.65 367.30 V358.80 M1012.92 0.80 V9.30 M1012.92 367.30 V358.80 M1021.82 0.80 V9.30 M1021.82 367.30 V358.80 M1029.68 0.80 V9.30 M1029.68 367.30 V358.80 M1036.70 0.80 V16.30 M1036.70 367.30 V351.80 M735.90 345.74 H751.40 M1049.25 345.74 H1033.75 M735.90 291.84 H751.40 M1049.25 291.84 H1033.75 M735.90 237.95 H751.40 M1049.25 237.95 H1033.75 M735.90 184.05 H751.40 M1049.25 184.05 H1033.75 M735.90 130.15 H751.40 M1049.25 130.15 H1033.75 M735.90 76.26 H751.40 M1049.25 76.26 H1033.75 M735.90 22.36 H751.40 M1049.25 22.36 H1033.75 M735.90 318.79 H744.40 M1049.25 318.79 H1040.75 M735.90 264.90 H744.40 M1049.25 264.90 H1040.75 M735.90 211.00 H744.40 M1049.25 211.00 H1040.75 M735.90 157.10 H744.40 M1049.25 157.10 H1040.75 M735.90 103.20 H744.40 M1049.25 103.20 H1040.75 M735.90 49.31 H744.40 M1049.25 49.31 H1040.75 M735.90 -4.59 H744.40 M1049.25 -4.59 H1040.75" stroke="#000" stroke-width="2.40" fill="none"/>
<rect x="735.90" y="0.80" width="313.35" height="366.50" fill="none" stroke="#000" stroke-width="2.50"/>
<text x="899.90" y="65.80" font-size="39" letter-spacing="-1.3">1746Å</text>
<g clip-path="url(#c3)">
<path d="M1049.2 -6.2 L1111.7 -6.2 L1116.3 30.8 L1127.1 49.2 L1136.3 76.9 L1145.5 95.4 L1154.8 110.8 L1167.1 126.2 L1173.2 150.8 L1177.8 124.6 L1178.7 128.7 L1180.9 147.7 L1185.5 193.8 L1185.7 192.6 L1192.1 187.0 L1194.8 190.8 L1197.9 193.1 L1203.2 200.2 L1204.0 203.1 L1208.1 188.6 L1210.2 181.5 L1212.7 197.8 L1214.8 212.3 L1217.0 205.8 L1219.4 203.1 L1221.1 209.1 L1224.9 227.8 L1225.5 230.8 L1228.5 229.2 L1231.9 227.8 L1234.8 227.7 L1235.2 222.5 L1238.3 228.9 L1241.2 231.0 L1244.0 240.0 L1244.1 239.9 L1246.8 235.5 L1247.1 235.4 L1249.4 235.6 L1251.9 239.6 L1254.4 241.4 L1256.7 242.0 L1259.0 245.8 L1259.4 246.2 L1261.1 245.9 L1263.3 247.4 L1265.3 247.8 L1267.3 244.6 L1269.2 248.7 L1271.1 249.7 L1272.9 246.5 L1274.7 247.6 L1276.4 251.5 L1277.8 252.3 L1278.1 251.6 L1279.8 253.0 L1281.4 251.1 L1283.0 253.6 L1284.5 252.5 L1286.0 253.3 L1287.4 256.5 L1288.9 257.1 L1290.3 255.4 L1291.7 255.2 L1293.0 258.9 L1294.3 256.5 L1295.6 260.0 L1296.9 260.3 L1298.1 259.7 L1299.4 261.8 L1300.6 261.4 L1301.7 262.2 L1302.9 263.4 L1304.0 263.9 L1305.2 263.7 L1305.5 264.6 L1306.3 263.8 L1307.3 264.0 L1308.4 265.2 L1309.5 264.7 L1310.5 262.1 L1311.5 264.0 L1312.5 265.6 L1313.5 264.5 L1314.5 265.8 L1315.4 265.4 L1316.4 266.7 L1317.3 267.0 L1318.2 265.4 L1319.1 266.6 L1320.0 267.5 L1320.9 264.2 L1321.8 266.5 L1322.7 267.8 L1323.5 267.3 L1324.3 266.2 L1325.2 267.8 L1326.0 267.0 L1326.8 268.9 L1327.6 266.9 L1328.4 268.1 L1329.2 268.9 L1329.9 268.9 L1330.7 267.1 L1331.4 266.9 L1332.2 269.6 L1332.9 267.9 L1333.7 269.9 L1334.4 269.5 L1335.1 270.5 L1335.8 270.2 L1336.3 270.8 L1336.5 270.0 L1337.2 270.9 L1337.9 268.3 L1338.5 269.2 L1339.2 268.5 L1339.9 270.4 L1340.5 271.1 L1341.2 270.9 L1341.8 271.4 L1342.5 270.7 L1343.1 270.8 L1343.7 271.4 L1344.3 269.8 L1345.0 270.3 L1345.6 268.9 L1346.2 271.4 L1346.8 270.8 L1347.4 271.9 L1348.0 271.6 L1348.5 270.6 L1349.1 271.9 L1349.7 270.4 L1350.2 271.5 L1350.8 272.3 L1351.4 272.4 L1351.9 272.5 L1352.5 271.5 L1353.0 272.4 L1353.6 272.4 L1354.1 270.4 L1354.6 272.8 L1355.1 272.2 L1355.7 271.6 L1356.2 272.8 L1356.7 270.3 L1357.2 270.8 L1357.7 271.9 L1358.2 273.1 L1358.7 273.0 L1359.2 273.1 L1359.7 273.2 L1360.2 273.4 L1360.7 271.3 L1361.2 271.8 L1361.6 273.6 L1362.1 271.0 L1362.6 272.9 L1363.1 271.4 L1363.5 273.5 L1364.0 271.9 L1364.0 273.8 L1364.4 273.8 L1364.9 273.8 L1365.4 273.0 L1365.8 272.4 L1366.2 273.4 L1366.7 271.9 L1367.1 273.5 L1367.6 271.3 L1368.0 273.3 L1368.4 271.8 L1368.9 272.3 L1368.9 302.4 L1368.4 302.6 L1368.0 302.5 L1367.6 304.9 L1367.1 302.9 L1366.7 303.9 L1366.2 303.0 L1365.8 303.6 L1365.4 303.8 L1364.9 304.9 L1364.4 304.0 L1364.0 302.4 L1364.0 302.7 L1363.5 302.8 L1363.1 302.4 L1362.6 304.7 L1362.1 302.4 L1361.6 302.8 L1361.2 302.8 L1360.7 302.7 L1360.2 302.6 L1359.7 302.5 L1359.2 303.2 L1358.7 302.7 L1358.2 305.0 L1357.7 303.5 L1357.2 303.0 L1356.7 304.6 L1356.2 303.6 L1355.7 302.7 L1355.1 302.7 L1354.6 303.9 L1354.1 304.5 L1353.6 302.5 L1353.0 303.7 L1352.5 302.7 L1351.9 304.7 L1351.4 303.2 L1350.8 302.4 L1350.2 302.4 L1349.7 304.2 L1349.1 303.1 L1348.5 303.2 L1348.0 302.4 L1348.0 302.4 L1347.4 304.8 L1346.8 304.6 L1346.2 305.1 L1345.6 302.9 L1345.0 304.9 L1344.3 302.8 L1343.7 303.1 L1343.1 305.6 L1342.5 303.4 L1341.8 305.5 L1341.2 303.3 L1340.5 303.8 L1339.9 305.4 L1339.2 306.0 L1338.5 304.3 L1337.9 304.4 L1337.2 306.0 L1336.5 305.5 L1335.8 305.1 L1335.1 303.7 L1334.4 303.8 L1333.7 304.0 L1332.9 304.8 L1332.2 307.0 L1332.0 304.0 L1331.4 304.5 L1330.7 304.7 L1329.9 305.1 L1329.2 306.2 L1328.4 306.1 L1327.6 304.4 L1326.8 307.7 L1326.0 304.7 L1325.2 306.1 L1324.3 306.2 L1323.5 308.1 L1322.7 306.4 L1321.8 306.9 L1320.9 305.1 L1320.0 307.5 L1319.1 305.8 L1318.2 306.6 L1317.3 305.6 L1316.4 305.6 L1316.0 305.6 L1315.4 306.0 L1314.5 307.5 L1313.5 306.1 L1312.5 308.6 L1311.5 306.5 L1310.5 308.2 L1309.5 306.9 L1308.4 307.7 L1307.3 307.8 L1306.3 310.4 L1305.2 308.6 L1304.0 308.0 L1302.9 311.4 L1301.7 311.0 L1300.6 311.8 L1300.0 308.8 L1299.4 310.5 L1298.1 309.9 L1296.9 310.4 L1295.6 312.2 L1294.3 309.9 L1293.0 312.6 L1291.7 311.3 L1290.3 312.6 L1288.9 312.8 L1287.4 312.7 L1286.0 311.6 L1284.5 313.0 L1284.0 312.0 L1283.0 312.6 L1281.4 312.6 L1279.8 313.0 L1278.1 313.2 L1276.4 314.7 L1276.0 313.6 L1274.7 314.4 L1272.9 314.2 L1271.1 316.6 L1269.2 316.5 L1268.0 315.2 L1267.3 316.3 L1265.3 319.3 L1263.3 316.2 L1261.1 317.5 L1260.0 316.8 L1259.0 318.6 L1256.7 323.1 L1255.2 323.2 L1254.4 325.4 L1251.9 321.6 L1249.4 321.1 L1248.8 320.0 L1246.8 325.5 L1244.1 328.9 L1244.0 328.0 L1241.2 327.1 L1238.3 326.7 L1236.0 324.8 L1235.2 329.4 L1231.9 327.0 L1228.5 328.0 L1228.0 328.0 L1224.9 328.1 L1221.1 332.1 L1220.0 328.0 L1217.0 335.3 L1212.7 336.7 L1212.0 331.2 L1208.1 339.1 L1204.0 336.0 L1203.2 339.2 L1200.8 332.8 L1197.9 337.2 L1194.4 340.8 L1192.1 347.5 L1191.2 344.0 L1188.0 352.0 L1185.7 362.7 L1183.2 356.8 L1178.7 359.9 L1178.4 360.0 L1168.0 334.4 L1159.2 376.0 L1156.0 376.0 L1146.4 350.4 L1137.6 336.0 L1125.6 376.0 L1106.4 376.0 L1099.2 336.0 L1052.0 345.6 L1050.4 376.0 L1047.2 376.0 Z" fill="#d9d1e8"/>
<path d="M1049.2 -6.2 L1071.7 -6.2 L1084.0 40.0 L1096.3 83.1 L1114.8 123.1 L1127.1 153.8 L1148.6 184.6 L1176.3 215.4 L1203.2 244.5 L1204.0 246.2 L1208.1 247.5 L1212.7 250.6 L1217.0 253.5 L1221.1 255.1 L1224.9 257.4 L1228.5 261.2 L1231.9 261.8 L1235.2 265.3 L1238.3 267.1 L1241.2 268.6 L1244.0 270.8 L1244.1 269.6 L1246.8 271.4 L1249.4 271.2 L1251.9 271.9 L1254.4 273.2 L1256.7 272.7 L1259.0 274.1 L1261.1 274.1 L1263.3 275.0 L1265.3 274.6 L1267.3 276.2 L1269.2 276.0 L1271.1 276.2 L1272.9 277.5 L1274.7 277.1 L1276.4 277.3 L1278.1 278.4 L1279.8 278.5 L1281.4 279.5 L1283.0 279.8 L1284.5 279.9 L1286.0 280.6 L1287.4 280.5 L1288.9 280.9 L1290.2 281.5 L1290.3 281.4 L1291.7 281.3 L1293.0 281.7 L1294.3 281.3 L1295.6 281.4 L1296.9 281.5 L1298.1 281.2 L1299.4 281.9 L1300.6 282.2 L1301.7 282.2 L1302.9 282.2 L1304.0 281.6 L1305.2 282.5 L1306.3 281.9 L1307.3 282.6 L1308.4 282.3 L1309.5 282.5 L1310.5 282.8 L1311.5 282.4 L1312.5 282.8 L1313.5 282.8 L1314.5 282.1 L1315.4 282.6 L1316.4 283.2 L1317.3 282.3 L1318.2 282.8 L1319.1 282.7 L1320.0 283.1 L1320.9 283.1 L1321.8 283.5 L1322.7 282.8 L1323.5 283.4 L1324.3 283.2 L1325.2 283.3 L1326.0 283.4 L1326.8 283.7 L1327.6 283.4 L1328.4 283.5 L1329.2 283.7 L1329.9 283.3 L1330.7 283.6 L1331.4 284.1 L1332.2 283.9 L1332.9 284.1 L1333.7 284.2 L1334.4 284.2 L1335.1 283.7 L1335.8 283.5 L1336.5 283.8 L1337.2 283.8 L1337.9 284.4 L1338.5 284.6 L1339.2 284.4 L1339.9 284.6 L1340.5 284.5 L1341.2 284.5 L1341.8 284.7 L1342.5 284.0 L1343.1 284.3 L1343.7 284.9 L1344.3 284.9 L1345.0 284.9 L1345.6 284.8 L1346.2 284.3 L1346.8 284.9 L1347.4 284.4 L1348.0 285.0 L1348.5 284.7 L1349.1 285.2 L1349.7 285.1 L1350.2 285.2 L1350.8 284.8 L1351.4 285.4 L1351.9 285.2 L1352.5 285.4 L1353.0 285.4 L1353.6 285.5 L1354.1 285.3 L1354.6 285.6 L1355.1 285.2 L1355.7 285.0 L1356.2 285.6 L1356.7 285.0 L1357.2 285.6 L1357.7 285.5 L1358.2 285.7 L1358.7 285.1 L1359.2 285.8 L1359.7 285.1 L1360.2 285.6 L1360.7 285.6 L1361.2 285.1 L1361.6 285.8 L1362.1 286.0 L1362.6 286.0 L1363.1 286.0 L1363.5 286.1 L1364.0 285.3 L1364.0 286.2 L1364.4 285.9 L1364.9 285.3 L1365.4 285.5 L1365.8 286.1 L1366.2 285.7 L1366.7 286.1 L1367.1 285.8 L1367.6 285.9 L1368.0 285.3 L1368.4 286.1 L1368.9 285.8 L1368.9 294.5 L1368.4 294.3 L1368.0 294.6 L1367.6 293.9 L1367.1 293.9 L1366.7 293.9 L1366.2 293.9 L1365.8 294.4 L1365.4 293.9 L1364.9 294.1 L1364.4 294.4 L1364.0 293.8 L1364.0 294.3 L1363.5 294.7 L1363.1 293.8 L1362.6 293.9 L1362.1 294.4 L1361.6 293.9 L1361.2 293.9 L1360.7 294.2 L1360.2 294.1 L1359.7 293.9 L1359.2 294.6 L1358.7 294.2 L1358.2 294.1 L1357.7 293.8 L1357.2 294.7 L1356.7 294.7 L1356.2 294.0 L1355.7 294.2 L1355.1 293.9 L1354.6 293.9 L1354.1 293.9 L1353.6 294.2 L1353.0 294.0 L1352.5 294.4 L1351.9 294.2 L1351.4 294.5 L1350.8 294.5 L1350.2 294.5 L1349.7 294.2 L1349.1 294.2 L1348.5 294.2 L1348.0 293.9 L1347.4 294.5 L1346.8 293.9 L1346.2 293.8 L1345.6 294.4 L1345.0 293.9 L1344.3 293.9 L1343.7 294.1 L1343.1 293.8 L1342.5 294.2 L1341.8 294.3 L1341.2 294.6 L1340.5 294.0 L1339.9 294.3 L1339.2 294.2 L1338.5 294.1 L1337.9 293.9 L1337.2 294.7 L1336.5 293.8 L1335.8 293.9 L1335.1 294.7 L1334.4 294.0 L1333.7 294.3 L1332.9 294.3 L1332.2 294.0 L1331.4 294.1 L1330.7 293.9 L1329.9 293.9 L1329.2 293.9 L1328.4 293.9 L1327.6 294.7 L1326.8 294.4 L1326.0 293.9 L1325.2 293.9 L1324.3 293.8 L1323.5 294.3 L1322.7 294.5 L1321.8 294.6 L1320.9 294.1 L1320.0 294.0 L1319.1 294.2 L1318.2 294.2 L1317.3 294.4 L1316.4 293.9 L1315.4 293.9 L1314.5 294.0 L1313.5 294.1 L1312.5 293.9 L1311.5 294.7 L1310.5 294.6 L1309.5 294.0 L1308.4 294.2 L1307.3 294.3 L1306.3 293.9 L1305.2 294.6 L1304.0 294.2 L1302.9 294.0 L1301.7 293.9 L1300.6 294.7 L1299.4 293.8 L1298.1 294.3 L1296.9 294.7 L1295.6 294.6 L1294.3 294.1 L1293.0 294.3 L1291.7 294.2 L1290.3 294.3 L1290.2 293.8 L1288.9 294.2 L1287.4 294.4 L1286.0 294.2 L1284.5 294.6 L1283.0 294.8 L1281.4 293.7 L1279.8 294.6 L1278.1 294.2 L1276.4 294.0 L1274.7 293.7 L1272.9 293.8 L1271.1 294.1 L1269.2 293.4 L1267.3 293.3 L1265.3 293.4 L1263.3 293.3 L1261.1 293.2 L1259.0 293.5 L1256.7 293.9 L1254.4 293.0 L1251.9 293.0 L1249.4 294.0 L1246.8 292.9 L1244.1 293.7 L1241.2 293.5 L1238.3 292.6 L1235.2 292.6 L1231.9 293.0 L1228.6 292.3 L1228.5 293.2 L1224.9 292.6 L1221.1 291.3 L1217.0 290.8 L1212.7 290.3 L1208.1 289.7 L1203.2 291.2 L1182.5 286.2 L1145.5 267.7 L1114.8 230.8 L1096.3 190.8 L1074.8 160.0 L1049.2 144.6 Z" fill="#b394c4"/>
<path d="M1049.2 36.9 L1080.9 101.5 L1100.9 145.5 L1117.5 187.1 L1152.9 228.6 L1188.6 260.0 L1228.6 275.4 L1274.8 283.1 L1320.9 287.7 L1364.0 289.2" fill="none" stroke="#8e5298" stroke-width="7.4" stroke-linejoin="round"/>
<line x1="1049.25" y1="291.84" x2="1362.60" y2="291.84" stroke="#000" stroke-width="2.6" stroke-dasharray="8.1 3.8"/>
<line x1="1055.4" y1="140.0" x2="1104.0" y2="140.0" stroke="#000" stroke-width="2.7"/>
<line x1="1080.0" y1="98.5" x2="1080.0" y2="181.5" stroke="#000" stroke-width="2.7"/>
<circle cx="1080.0" cy="140.0" r="6.2"/>
<line x1="1104.0" y1="280.9" x2="1155.4" y2="280.9" stroke="#000" stroke-width="2.7"/>
<line x1="1130.2" y1="260.0" x2="1130.2" y2="302.5" stroke="#000" stroke-width="2.7"/>
<circle cx="1130.2" cy="280.9" r="6.2"/>
<line x1="1155.4" y1="304.6" x2="1205.5" y2="304.6" stroke="#000" stroke-width="2.7"/>
<line x1="1180.9" y1="286.2" x2="1180.9" y2="323.7" stroke="#000" stroke-width="2.7"/>
<circle cx="1180.9" cy="304.6" r="6.2"/>
<line x1="1205.5" y1="316.3" x2="1256.3" y2="316.3" stroke="#000" stroke-width="2.7"/>
<line x1="1231.1" y1="302.5" x2="1231.1" y2="331.7" stroke="#000" stroke-width="2.7"/>
<circle cx="1231.1" cy="316.3" r="6.2"/>
<line x1="1256.3" y1="290.8" x2="1356.3" y2="290.8" stroke="#000" stroke-width="2.7"/>
<line x1="1306.2" y1="239.4" x2="1306.2" y2="341.5" stroke="#000" stroke-width="2.7"/>
<circle cx="1306.2" cy="290.8" r="6.2"/>
</g>
<path d="M1089.26 0.80 V9.30 M1089.26 367.30 V358.80 M1116.29 0.80 V9.30 M1116.29 367.30 V358.80 M1135.47 0.80 V9.30 M1135.47 367.30 V358.80 M1150.34 0.80 V9.30 M1150.34 367.30 V358.80 M1162.50 0.80 V9.30 M1162.50 367.30 V358.80 M1172.77 0.80 V9.30 M1172.77 367.30 V358.80 M1181.67 0.80 V9.30 M1181.67 367.30 V358.80 M1189.53 0.80 V9.30 M1189.53 367.30 V358.80 M1196.55 0.80 V16.30 M1196.55 367.30 V351.80 M1242.76 0.80 V9.30 M1242.76 367.30 V358.80 M1269.79 0.80 V9.30 M1269.79 367.30 V358.80 M1288.97 0.80 V9.30 M1288.97 367.30 V358.80 M1303.84 0.80 V9.30 M1303.84 367.30 V358.80 M1316.00 0.80 V9.30 M1316.00 367.30 V358.80 M1326.27 0.80 V9.30 M1326.27 367.30 V358.80 M1335.17 0.80 V9.30 M1335.17 367.30 V358.80 M1343.03 0.80 V9.30 M1343.03 367.30 V358.80 M1350.05 0.80 V16.30 M1350.05 367.30 V351.80 M1049.25 345.74 H1064.75 M1362.60 345.74 H1347.10 M1049.25 291.84 H1064.75 M1362.60 291.84 H1347.10 M1049.25 237.95 H1064.75 M1362.60 237.95 H1347.10 M1049.25 184.05 H1064.75 M1362.60 184.05 H1347.10 M1049.25 130.15 H1064.75 M1362.60 130.15 H1347.10 M1049.25 76.26 H1064.75 M1362.60 76.26 H1347.10 M1049.25 22.36 H1064.75 M1362.60 22.36 H1347.10 M1049.25 318.79 H1057.75 M1362.60 318.79 H1354.10 M1049.25 264.90 H1057.75 M1362.60 264.90 H1354.10 M1049.25 211.00 H1057.75 M1362.60 211.00 H1354.10 M1049.25 157.10 H1057.75 M1362.60 157.10 H1354.10 M1049.25 103.20 H1057.75 M1362.60 103.20 H1354.10 M1049.25 49.31 H1057.75 M1362.60 49.31 H1354.10 M1049.25 -4.59 H1057.75 M1362.60 -4.59 H1354.10" stroke="#000" stroke-width="2.40" fill="none"/>
<rect x="1049.25" y="0.80" width="313.35" height="366.50" fill="none" stroke="#000" stroke-width="2.50"/>
<text x="1214.25" y="65.80" font-size="39">UVW2</text>
<g clip-path="url(#c4)">
<path d="M1362.5 -6.2 L1443.2 -6.2 L1449.3 30.8 L1458.5 58.5 L1470.8 76.9 L1481.6 98.5 L1486.2 123.1 L1490.8 110.8 L1492.0 116.3 L1493.9 129.2 L1498.5 178.5 L1499.1 169.7 L1505.4 172.8 L1507.8 175.4 L1511.2 176.2 L1513.9 184.6 L1516.6 174.4 L1520.1 166.2 L1521.5 162.1 L1524.7 153.8 L1526.1 167.3 L1527.8 196.9 L1530.4 187.0 L1532.4 190.8 L1534.4 198.6 L1538.3 210.7 L1538.5 215.4 L1541.9 211.4 L1545.3 211.2 L1547.8 215.4 L1548.5 211.5 L1551.6 216.4 L1554.6 225.8 L1557.0 230.8 L1557.4 228.9 L1560.1 226.1 L1562.8 228.7 L1565.3 228.0 L1566.2 227.7 L1567.7 231.2 L1570.0 232.5 L1572.3 242.2 L1572.4 243.1 L1574.5 243.3 L1576.6 244.4 L1578.7 245.1 L1580.6 240.6 L1582.6 246.5 L1584.5 241.9 L1586.3 246.1 L1588.1 248.0 L1589.8 248.9 L1590.8 249.2 L1591.5 245.6 L1593.1 249.7 L1594.7 246.9 L1596.3 252.2 L1597.8 250.1 L1599.3 251.9 L1600.8 251.7 L1602.2 254.5 L1603.6 254.0 L1605.0 256.2 L1606.4 257.6 L1607.7 258.5 L1609.0 258.4 L1610.2 257.7 L1611.5 260.7 L1612.7 261.3 L1613.9 258.7 L1615.1 261.6 L1616.3 262.1 L1617.4 262.6 L1618.5 264.5 L1618.5 264.6 L1619.6 264.1 L1620.7 264.5 L1621.8 263.3 L1622.8 264.6 L1623.8 264.1 L1624.9 262.8 L1625.9 265.2 L1626.9 264.0 L1627.8 265.3 L1628.8 263.4 L1629.7 266.0 L1630.7 266.8 L1631.6 264.0 L1632.5 265.5 L1633.4 267.5 L1634.3 267.3 L1635.1 267.1 L1636.0 268.1 L1636.9 268.1 L1637.7 268.4 L1638.5 268.6 L1639.3 268.8 L1640.1 266.5 L1640.9 266.8 L1641.7 268.4 L1642.5 269.0 L1643.3 267.0 L1644.0 267.8 L1644.8 269.2 L1645.5 269.6 L1646.3 266.9 L1647.0 270.3 L1647.7 269.0 L1648.4 269.5 L1649.1 270.5 L1649.3 270.8 L1649.8 269.9 L1650.5 270.7 L1651.2 269.4 L1651.9 269.5 L1652.6 269.5 L1653.2 269.8 L1653.9 271.0 L1654.5 271.1 L1655.2 269.3 L1655.8 268.0 L1656.5 269.8 L1657.1 268.3 L1657.7 268.8 L1658.3 270.7 L1658.9 270.3 L1659.5 268.6 L1660.1 271.4 L1660.7 271.3 L1661.3 269.4 L1661.9 268.6 L1662.5 271.5 L1663.0 270.6 L1663.6 268.8 L1664.2 270.0 L1664.7 269.4 L1665.3 271.5 L1665.8 271.2 L1666.4 270.0 L1666.9 271.6 L1667.4 271.4 L1668.0 269.3 L1668.5 269.3 L1669.0 271.0 L1669.5 270.7 L1670.1 269.5 L1670.6 271.9 L1671.1 271.9 L1671.6 271.7 L1672.1 269.9 L1672.6 269.6 L1673.1 271.2 L1673.6 270.1 L1674.0 272.1 L1674.5 271.3 L1675.0 271.6 L1675.5 270.8 L1675.9 272.2 L1676.4 272.1 L1676.9 272.1 L1677.0 272.3 L1677.3 271.1 L1677.8 272.1 L1678.2 271.8 L1678.7 271.3 L1679.1 271.1 L1679.6 269.3 L1680.0 272.0 L1680.5 272.3 L1680.9 269.7 L1681.4 271.1 L1681.8 270.1 L1682.2 271.7 L1682.2 306.7 L1681.8 304.5 L1681.4 304.4 L1680.9 304.0 L1680.5 305.1 L1680.0 306.0 L1679.6 304.7 L1679.1 304.4 L1678.7 304.0 L1678.2 305.1 L1677.8 304.7 L1677.3 305.6 L1677.0 304.0 L1676.9 306.7 L1676.4 304.5 L1675.9 303.9 L1675.5 305.4 L1675.0 305.5 L1674.5 306.3 L1674.0 304.0 L1673.6 303.7 L1673.1 303.7 L1672.6 303.7 L1672.1 303.7 L1671.6 303.8 L1671.1 304.8 L1670.6 304.9 L1670.1 303.7 L1669.5 305.0 L1669.0 303.8 L1668.5 304.7 L1668.0 305.9 L1667.4 303.8 L1666.9 303.0 L1666.4 303.1 L1665.8 303.0 L1665.3 305.0 L1664.7 302.9 L1664.2 303.4 L1663.6 303.0 L1663.0 302.6 L1662.5 305.6 L1661.9 302.5 L1661.3 303.9 L1661.0 302.4 L1660.7 304.5 L1660.1 303.2 L1659.5 304.0 L1658.9 303.1 L1658.3 303.7 L1657.7 303.5 L1657.1 303.1 L1656.5 303.4 L1655.8 305.3 L1655.2 303.1 L1654.5 303.1 L1653.9 305.7 L1653.2 305.4 L1652.6 303.3 L1651.9 304.4 L1651.2 303.5 L1650.5 303.5 L1649.8 303.5 L1649.1 305.0 L1648.4 303.9 L1647.7 305.7 L1647.0 304.3 L1646.3 304.4 L1645.5 306.1 L1645.0 304.0 L1644.8 304.7 L1644.0 304.5 L1643.3 306.8 L1642.5 304.5 L1641.7 304.5 L1640.9 305.5 L1640.1 304.9 L1639.3 306.8 L1638.5 307.7 L1637.7 305.6 L1636.9 307.9 L1636.0 307.9 L1635.1 305.5 L1634.3 307.7 L1633.4 306.4 L1632.5 305.9 L1631.6 306.5 L1630.7 308.5 L1629.7 306.4 L1629.0 306.4 L1628.8 308.0 L1627.8 307.2 L1626.9 307.4 L1625.9 308.1 L1624.9 307.8 L1623.8 307.5 L1622.8 309.2 L1621.8 308.3 L1621.0 307.2 L1620.7 310.6 L1619.6 308.3 L1618.5 308.1 L1617.4 308.2 L1616.3 310.6 L1615.1 310.0 L1613.9 311.6 L1613.0 308.8 L1612.7 310.0 L1611.5 312.0 L1610.2 313.3 L1609.0 311.3 L1607.7 313.1 L1606.4 311.7 L1605.0 312.4 L1605.0 311.2 L1603.6 315.7 L1602.2 313.2 L1600.8 313.8 L1599.3 314.6 L1597.8 315.0 L1597.0 313.6 L1596.3 314.3 L1594.7 315.0 L1593.1 315.8 L1591.5 315.2 L1589.8 317.9 L1589.0 315.2 L1588.1 317.2 L1586.3 316.9 L1584.5 319.0 L1582.6 318.2 L1581.0 318.4 L1580.6 319.9 L1578.7 323.3 L1576.6 319.4 L1574.5 319.7 L1573.0 320.0 L1572.3 322.5 L1570.0 335.3 L1569.8 331.2 L1567.7 328.5 L1565.3 326.0 L1565.0 323.2 L1562.8 326.8 L1560.1 325.2 L1557.4 328.9 L1557.0 326.4 L1554.6 328.2 L1551.6 333.4 L1549.0 328.0 L1548.5 331.8 L1545.3 335.4 L1541.9 338.9 L1541.0 332.8 L1538.3 336.7 L1534.4 337.0 L1533.0 337.6 L1530.4 350.2 L1529.8 344.0 L1526.6 337.6 L1526.1 340.5 L1521.8 334.4 L1521.5 338.4 L1517.0 344.0 L1516.6 347.8 L1513.0 342.4 L1511.2 346.2 L1507.4 350.4 L1505.8 376.0 L1505.4 376.4 L1499.1 381.6 L1492.0 378.5 L1489.8 376.0 L1486.6 356.8 L1481.8 344.0 L1478.6 376.0 L1457.8 376.0 L1450.6 342.4 L1443.4 376.0 L1416.2 376.0 L1412.2 347.2 L1394.6 341.6 L1368.2 353.6 L1366.6 376.0 L1360.2 376.0 Z" fill="#d9d1e8"/>
<path d="M1362.5 -6.2 L1397.0 -6.2 L1409.3 43.1 L1427.8 110.8 L1440.1 129.2 L1461.6 172.3 L1492.4 209.2 L1516.6 241.8 L1517.0 243.1 L1521.5 245.4 L1526.1 248.0 L1530.4 248.3 L1534.4 251.5 L1538.3 253.4 L1541.9 256.4 L1545.3 257.7 L1548.5 260.0 L1551.6 261.7 L1554.6 263.0 L1557.0 264.6 L1557.4 263.9 L1560.1 264.9 L1562.8 265.4 L1565.3 266.6 L1567.7 266.4 L1570.0 268.1 L1572.3 267.3 L1574.5 269.1 L1576.6 269.0 L1578.7 270.3 L1580.6 270.7 L1582.6 270.6 L1584.5 270.8 L1586.3 271.4 L1588.1 272.8 L1589.8 273.3 L1591.5 273.6 L1593.1 273.6 L1594.7 274.1 L1596.3 274.8 L1597.8 275.5 L1599.3 275.9 L1600.8 276.2 L1602.2 275.6 L1603.2 276.9 L1603.6 277.0 L1605.0 277.1 L1606.4 277.0 L1607.7 277.3 L1609.0 276.9 L1610.2 276.9 L1611.5 276.7 L1612.7 276.8 L1613.9 277.6 L1615.1 277.4 L1616.3 277.0 L1617.4 278.1 L1618.5 278.2 L1619.6 277.7 L1620.7 278.1 L1621.8 277.7 L1622.8 278.6 L1623.8 278.3 L1624.9 278.0 L1625.9 278.7 L1626.9 278.9 L1627.8 278.6 L1628.8 279.1 L1629.7 278.3 L1630.7 278.3 L1631.6 279.2 L1632.5 279.3 L1633.4 278.5 L1634.3 279.4 L1635.1 279.4 L1636.0 279.3 L1636.9 279.0 L1637.7 279.0 L1638.5 278.9 L1639.3 279.8 L1640.1 279.8 L1640.9 279.4 L1641.7 279.1 L1642.5 279.7 L1643.3 279.6 L1644.0 280.0 L1644.8 279.6 L1645.5 280.3 L1646.3 280.3 L1647.0 280.3 L1647.7 280.4 L1648.4 280.7 L1649.1 280.8 L1649.8 280.5 L1650.5 280.8 L1651.2 280.9 L1651.9 280.9 L1652.6 281.0 L1653.2 280.5 L1653.9 281.1 L1654.5 280.4 L1655.2 281.3 L1655.8 280.8 L1656.5 281.0 L1657.1 280.6 L1657.7 280.5 L1658.3 281.4 L1658.9 280.7 L1659.5 280.5 L1660.1 280.9 L1660.7 281.5 L1661.3 281.6 L1661.9 281.1 L1662.5 281.8 L1663.0 281.0 L1663.6 281.1 L1664.2 281.9 L1664.7 281.2 L1665.3 281.8 L1665.8 281.2 L1666.4 282.1 L1666.9 281.3 L1667.4 281.5 L1668.0 282.2 L1668.5 281.9 L1669.0 282.4 L1669.5 281.8 L1670.1 282.1 L1670.6 281.5 L1671.1 282.1 L1671.6 282.3 L1672.1 282.7 L1672.6 282.6 L1673.1 282.4 L1673.6 282.7 L1674.0 282.7 L1674.5 281.8 L1675.0 282.8 L1675.5 282.1 L1675.9 283.0 L1676.4 282.8 L1676.9 282.9 L1677.0 283.1 L1677.3 282.2 L1677.8 282.2 L1678.2 282.6 L1678.7 283.1 L1679.1 283.0 L1679.6 282.9 L1680.0 283.0 L1680.5 282.6 L1680.9 283.0 L1681.4 282.3 L1681.8 282.8 L1682.2 282.7 L1682.2 294.8 L1681.8 293.9 L1681.4 293.9 L1680.9 294.6 L1680.5 294.9 L1680.0 293.9 L1679.6 294.3 L1679.1 293.8 L1678.7 293.8 L1678.2 294.8 L1677.8 294.9 L1677.3 294.0 L1677.0 293.8 L1676.9 293.9 L1676.4 293.9 L1675.9 294.0 L1675.5 294.1 L1675.0 293.9 L1674.5 294.0 L1674.0 294.0 L1673.6 294.0 L1673.1 293.9 L1672.6 294.6 L1672.1 294.8 L1671.6 294.5 L1671.1 293.9 L1670.6 293.9 L1670.1 294.7 L1669.5 293.9 L1669.0 294.3 L1668.5 293.9 L1668.0 294.9 L1667.4 294.2 L1666.9 294.1 L1666.4 294.4 L1665.8 293.9 L1665.3 294.4 L1664.7 294.5 L1664.2 294.3 L1663.6 294.9 L1663.0 293.9 L1662.5 294.1 L1661.9 294.4 L1661.3 293.9 L1660.7 293.9 L1660.1 294.8 L1659.5 294.5 L1658.9 293.9 L1658.3 294.1 L1657.7 293.8 L1657.1 294.4 L1656.5 294.6 L1655.8 293.9 L1655.2 293.8 L1654.5 293.9 L1653.9 294.7 L1653.2 294.0 L1652.6 293.8 L1651.9 294.6 L1651.2 294.3 L1650.5 294.2 L1649.8 293.9 L1649.1 294.6 L1648.4 294.0 L1647.7 294.9 L1647.0 293.9 L1646.3 293.9 L1645.5 294.7 L1644.8 293.8 L1644.0 293.9 L1643.3 294.1 L1642.5 293.8 L1641.7 293.9 L1640.9 294.7 L1640.1 294.6 L1639.3 294.2 L1638.5 294.1 L1637.7 294.1 L1636.9 294.0 L1636.0 294.9 L1635.1 294.0 L1634.3 294.0 L1633.4 294.2 L1632.5 294.0 L1631.6 294.9 L1630.7 293.9 L1629.7 294.0 L1628.8 294.2 L1627.8 294.2 L1626.9 294.0 L1625.9 295.0 L1624.9 294.2 L1623.8 294.3 L1622.8 295.0 L1621.8 294.5 L1620.7 294.5 L1619.6 294.7 L1618.5 294.4 L1617.4 295.0 L1616.3 294.5 L1615.1 294.0 L1613.9 294.4 L1612.7 294.7 L1611.5 293.9 L1610.2 293.9 L1609.0 294.9 L1607.7 293.9 L1606.4 293.9 L1605.0 294.2 L1603.6 293.9 L1602.2 295.0 L1600.8 294.5 L1599.3 293.8 L1597.8 294.4 L1596.3 293.9 L1594.7 294.0 L1593.1 294.6 L1591.5 294.2 L1589.8 293.8 L1588.1 293.9 L1586.3 295.3 L1584.5 293.9 L1582.6 294.3 L1580.6 294.0 L1578.7 294.3 L1576.6 295.0 L1574.5 293.9 L1572.4 293.8 L1572.3 293.9 L1570.0 294.3 L1567.7 294.4 L1565.3 293.6 L1562.8 293.5 L1560.1 294.7 L1557.4 294.0 L1554.6 294.1 L1551.6 293.3 L1548.5 294.1 L1545.3 293.8 L1541.9 292.8 L1538.3 293.1 L1534.4 292.9 L1530.4 293.9 L1526.2 292.3 L1526.1 292.9 L1521.5 291.9 L1516.6 291.4 L1486.2 286.2 L1464.7 264.6 L1449.3 243.1 L1427.8 215.4 L1387.8 141.5 L1362.5 116.9 Z" fill="#b394c4"/>
<path d="M1362.5 -12.3 L1369.3 0.0 L1393.9 70.8 L1428.4 166.2 L1465.9 218.2 L1501.6 253.8 L1541.6 270.8 L1587.8 281.5 L1633.9 284.6 L1677.0 286.2" fill="none" stroke="#8e5298" stroke-width="7.4" stroke-linejoin="round"/>
<line x1="1362.60" y1="291.84" x2="1675.95" y2="291.84" stroke="#000" stroke-width="2.6" stroke-dasharray="8.1 3.8"/>
<line x1="1368.4" y1="133.2" x2="1417.0" y2="133.2" stroke="#000" stroke-width="2.7"/>
<line x1="1393.0" y1="70.8" x2="1393.0" y2="196.9" stroke="#000" stroke-width="2.7"/>
<circle cx="1393.0" cy="133.2" r="6.2"/>
<line x1="1418.5" y1="293.8" x2="1467.8" y2="293.8" stroke="#000" stroke-width="2.7"/>
<line x1="1443.2" y1="270.8" x2="1443.2" y2="316.9" stroke="#000" stroke-width="2.7"/>
<circle cx="1443.2" cy="293.8" r="6.2"/>
<line x1="1469.3" y1="294.8" x2="1518.5" y2="294.8" stroke="#000" stroke-width="2.7"/>
<line x1="1493.9" y1="270.8" x2="1493.9" y2="320.0" stroke="#000" stroke-width="2.7"/>
<circle cx="1493.9" cy="294.8" r="6.2"/>
<line x1="1519.5" y1="311.4" x2="1569.3" y2="311.4" stroke="#000" stroke-width="2.7"/>
<line x1="1544.1" y1="293.8" x2="1544.1" y2="328.6" stroke="#000" stroke-width="2.7"/>
<circle cx="1544.1" cy="311.4" r="6.2"/>
<line x1="1569.3" y1="286.8" x2="1669.3" y2="286.8" stroke="#000" stroke-width="2.7"/>
<line x1="1620.1" y1="236.9" x2="1620.1" y2="335.4" stroke="#000" stroke-width="2.7"/>
<circle cx="1620.1" cy="286.8" r="6.2"/>
</g>
<path d="M1402.61 0.80 V9.30 M1402.61 367.30 V358.80 M1429.64 0.80 V9.30 M1429.64 367.30 V358.80 M1448.82 0.80 V9.30 M1448.82 367.30 V358.80 M1463.69 0.80 V9.30 M1463.69 367.30 V358.80 M1475.85 0.80 V9.30 M1475.85 367.30 V358.80 M1486.12 0.80 V9.30 M1486.12 367.30 V358.80 M1495.02 0.80 V9.30 M1495.02 367.30 V358.80 M1502.88 0.80 V9.30 M1502.88 367.30 V358.80 M1509.90 0.80 V16.30 M1509.90 367.30 V351.80 M1556.11 0.80 V9.30 M1556.11 367.30 V358.80 M1583.14 0.80 V9.30 M1583.14 367.30 V358.80 M1602.32 0.80 V9.30 M1602.32 367.30 V358.80 M1617.19 0.80 V9.30 M1617.19 367.30 V358.80 M1629.35 0.80 V9.30 M1629.35 367.30 V358.80 M1639.62 0.80 V9.30 M1639.62 367.30 V358.80 M1648.52 0.80 V9.30 M1648.52 367.30 V358.80 M1656.38 0.80 V9.30 M1656.38 367.30 V358.80 M1663.40 0.80 V16.30 M1663.40 367.30 V351.80 M1362.60 345.74 H1378.10 M1675.95 345.74 H1660.45 M1362.60 291.84 H1378.10 M1675.95 291.84 H1660.45 M1362.60 237.95 H1378.10 M1675.95 237.95 H1660.45 M1362.60 184.05 H1378.10 M1675.95 184.05 H1660.45 M1362.60 130.15 H1378.10 M1675.95 130.15 H1660.45 M1362.60 76.26 H1378.10 M1675.95 76.26 H1660.45 M1362.60 22.36 H1378.10 M1675.95 22.36 H1660.45 M1362.60 318.79 H1371.10 M1675.95 318.79 H1667.45 M1362.60 264.90 H1371.10 M1675.95 264.90 H1667.45 M1362.60 211.00 H1371.10 M1675.95 211.00 H1667.45 M1362.60 157.10 H1371.10 M1675.95 157.10 H1667.45 M1362.60 103.20 H1371.10 M1675.95 103.20 H1667.45 M1362.60 49.31 H1371.10 M1675.95 49.31 H1667.45 M1362.60 -4.59 H1371.10 M1675.95 -4.59 H1667.45" stroke="#000" stroke-width="2.40" fill="none"/>
<rect x="1362.60" y="0.80" width="313.35" height="366.50" fill="none" stroke="#000" stroke-width="2.50"/>
<text x="1527.60" y="65.80" font-size="39">UVM2</text>
<g clip-path="url(#c5)">
<path d="M1675.8 -6.2 L1768.5 -6.2 L1774.6 21.5 L1780.8 24.6 L1790.0 55.4 L1796.2 61.5 L1800.8 98.5 L1805.4 76.9 L1805.4 74.9 L1808.5 101.5 L1811.5 156.9 L1812.4 149.8 L1817.7 158.5 L1818.8 154.0 L1823.8 147.7 L1824.6 139.3 L1826.9 141.5 L1829.9 165.4 L1830.0 169.2 L1833.1 144.6 L1834.8 126.3 L1837.7 120.0 L1839.4 152.2 L1840.8 178.5 L1843.7 172.5 L1845.4 175.4 L1847.8 184.5 L1850.0 196.9 L1851.6 194.9 L1855.2 199.0 L1858.6 196.0 L1860.8 203.1 L1861.9 199.4 L1865.0 207.9 L1866.9 215.4 L1867.9 211.4 L1870.8 211.5 L1873.1 209.2 L1873.5 205.2 L1876.1 217.4 L1878.6 225.8 L1879.2 227.7 L1881.1 228.2 L1883.4 229.2 L1885.7 230.8 L1887.8 230.5 L1890.0 227.9 L1891.5 233.8 L1892.0 231.7 L1894.0 234.1 L1895.9 235.2 L1897.8 232.6 L1899.6 234.8 L1901.4 237.0 L1903.1 239.2 L1904.8 235.5 L1906.5 238.8 L1908.1 238.0 L1909.7 242.5 L1911.2 241.6 L1912.7 243.3 L1914.1 244.5 L1915.6 242.3 L1916.2 246.2 L1917.0 244.7 L1918.4 242.0 L1919.7 244.4 L1921.0 248.6 L1922.3 247.4 L1923.6 249.5 L1924.8 247.4 L1926.1 247.9 L1927.3 251.5 L1928.4 248.2 L1929.6 251.5 L1930.7 250.2 L1931.9 252.2 L1933.0 254.5 L1934.0 253.8 L1935.1 254.7 L1936.2 256.2 L1937.2 256.6 L1938.2 257.2 L1939.2 254.2 L1940.2 257.2 L1941.2 258.5 L1942.1 258.7 L1943.1 259.4 L1944.0 259.7 L1944.9 260.0 L1945.8 260.1 L1946.7 260.5 L1946.9 261.5 L1947.6 258.0 L1948.5 261.8 L1949.4 261.1 L1950.2 261.8 L1951.0 258.7 L1951.9 261.7 L1952.7 262.2 L1953.5 259.5 L1954.3 262.4 L1955.1 261.3 L1955.9 261.0 L1956.6 259.5 L1957.4 262.5 L1958.1 261.6 L1958.9 262.7 L1959.6 263.3 L1960.4 260.7 L1961.1 260.5 L1961.8 260.5 L1962.5 263.7 L1963.2 261.6 L1963.9 264.0 L1964.6 264.1 L1965.2 262.2 L1965.9 262.7 L1966.6 263.0 L1967.2 260.9 L1967.9 264.0 L1968.5 263.2 L1969.2 262.2 L1969.8 264.0 L1970.4 264.2 L1971.0 262.2 L1971.7 264.7 L1972.3 263.4 L1972.9 265.1 L1973.5 263.5 L1974.1 263.0 L1974.7 265.2 L1975.2 263.7 L1975.8 262.2 L1976.4 264.7 L1976.9 265.8 L1977.5 264.9 L1978.1 263.2 L1978.6 264.8 L1979.2 266.1 L1979.7 264.7 L1980.3 265.9 L1980.8 263.3 L1981.3 266.4 L1981.8 264.2 L1982.4 266.4 L1982.9 265.2 L1983.4 265.1 L1983.9 266.8 L1984.4 266.7 L1984.9 265.3 L1985.4 265.7 L1985.9 266.5 L1986.4 266.6 L1986.9 266.2 L1987.4 264.8 L1987.9 267.4 L1988.3 266.0 L1988.8 267.0 L1989.3 266.1 L1989.8 267.7 L1990.0 267.7 L1990.2 266.7 L1990.7 267.2 L1991.1 267.7 L1991.6 267.7 L1992.1 267.3 L1992.5 266.9 L1992.9 267.0 L1993.4 266.3 L1993.8 266.3 L1994.3 266.1 L1994.7 264.9 L1995.1 265.0 L1995.6 267.7 L1995.6 308.7 L1995.1 309.1 L1994.7 306.4 L1994.3 306.7 L1993.8 307.6 L1993.4 306.5 L1992.9 307.2 L1992.5 307.4 L1992.1 306.8 L1991.6 309.7 L1991.1 308.0 L1990.7 308.5 L1990.2 308.6 L1990.0 306.4 L1989.8 306.6 L1989.3 306.4 L1988.8 309.8 L1988.3 308.6 L1987.9 306.6 L1987.4 307.4 L1986.9 308.0 L1986.4 308.8 L1985.9 307.0 L1985.4 307.5 L1984.9 306.3 L1984.4 307.2 L1983.9 307.2 L1983.4 306.4 L1982.9 306.2 L1982.4 306.1 L1981.8 307.3 L1981.3 308.8 L1980.8 306.6 L1980.3 308.0 L1979.7 306.9 L1979.2 306.3 L1978.6 305.8 L1978.1 306.5 L1977.5 306.6 L1976.9 309.2 L1976.4 307.3 L1975.8 305.7 L1975.2 306.9 L1974.7 305.7 L1974.1 305.6 L1974.0 305.6 L1973.5 308.6 L1972.9 307.9 L1972.3 305.8 L1971.7 308.9 L1971.0 308.7 L1970.4 307.9 L1969.8 306.2 L1969.2 308.4 L1968.5 309.0 L1967.9 306.4 L1967.2 306.3 L1966.6 308.6 L1965.9 308.4 L1965.2 308.5 L1964.6 307.8 L1963.9 309.2 L1963.2 307.5 L1962.5 307.0 L1961.8 309.6 L1961.1 307.1 L1960.4 307.1 L1959.6 307.5 L1958.9 308.0 L1958.1 307.5 L1958.0 307.2 L1957.4 307.4 L1956.6 308.5 L1955.9 309.7 L1955.1 309.1 L1954.3 309.4 L1953.5 308.5 L1952.7 307.9 L1951.9 310.1 L1951.0 307.9 L1950.2 308.0 L1949.4 309.1 L1948.5 309.9 L1947.6 308.4 L1946.7 308.5 L1945.8 310.0 L1944.9 311.2 L1944.0 311.8 L1943.1 308.7 L1942.1 311.9 L1942.0 308.8 L1941.2 309.0 L1940.2 312.1 L1939.2 310.3 L1938.2 309.6 L1937.2 312.5 L1936.2 310.0 L1935.1 311.7 L1934.0 310.9 L1934.0 310.4 L1933.0 312.6 L1931.9 312.5 L1930.7 311.2 L1929.6 313.2 L1928.4 314.9 L1927.3 315.9 L1926.1 313.4 L1926.0 312.0 L1924.8 313.5 L1923.6 314.7 L1922.3 313.5 L1921.0 314.2 L1919.7 315.1 L1918.4 318.0 L1918.0 315.2 L1917.0 316.8 L1915.6 320.4 L1914.1 318.8 L1912.7 321.4 L1911.2 320.5 L1910.0 318.4 L1909.7 324.0 L1908.1 321.8 L1906.5 321.3 L1904.8 318.5 L1903.1 320.8 L1902.0 316.8 L1901.4 318.6 L1899.6 318.7 L1897.8 320.6 L1895.9 325.7 L1894.0 323.2 L1894.0 327.9 L1892.0 326.2 L1890.0 325.2 L1887.8 327.0 L1887.6 326.4 L1885.7 327.6 L1883.4 328.6 L1881.2 328.0 L1881.1 328.3 L1878.6 337.5 L1878.0 334.4 L1876.1 339.7 L1874.8 331.2 L1873.5 346.0 L1871.6 350.4 L1870.8 348.8 L1868.4 344.0 L1867.9 343.3 L1865.2 329.6 L1865.0 330.6 L1862.0 336.0 L1861.9 336.2 L1858.8 342.4 L1858.6 351.0 L1855.2 341.3 L1854.0 340.8 L1851.6 342.4 L1847.8 352.2 L1846.0 345.6 L1843.7 351.5 L1842.8 352.0 L1839.4 354.8 L1836.4 345.6 L1834.8 349.7 L1830.0 355.2 L1829.9 355.2 L1826.0 352.0 L1824.6 370.1 L1823.6 376.0 L1818.8 376.4 L1812.4 376.1 L1805.4 377.8 L1729.2 376.0 L1726.0 364.8 L1707.6 346.4 L1682.8 376.0 L1673.2 376.0 Z" fill="#d9d1e8"/>
<path d="M1675.8 -6.2 L1722.3 -6.2 L1731.5 30.8 L1743.8 83.1 L1756.2 101.5 L1780.8 172.3 L1805.4 203.1 L1823.8 227.7 L1829.9 230.4 L1834.8 233.6 L1839.4 238.3 L1843.7 241.5 L1847.8 244.3 L1851.6 245.9 L1854.6 249.2 L1855.2 248.4 L1858.6 251.1 L1861.9 251.2 L1865.0 253.1 L1867.9 255.9 L1870.8 256.7 L1873.5 258.8 L1876.1 260.1 L1878.6 261.5 L1881.1 262.4 L1883.4 264.2 L1885.7 265.4 L1887.8 265.9 L1890.0 267.8 L1892.0 269.0 L1894.0 270.1 L1895.9 270.4 L1897.8 272.2 L1899.6 273.1 L1900.8 273.8 L1901.4 273.3 L1903.1 273.8 L1904.8 273.0 L1906.5 274.1 L1908.1 274.6 L1909.7 274.2 L1911.2 274.8 L1912.7 273.8 L1914.1 275.1 L1915.6 274.1 L1917.0 275.2 L1918.4 275.2 L1919.7 275.2 L1921.0 275.3 L1922.3 274.8 L1923.6 276.2 L1924.8 275.6 L1926.1 275.2 L1927.3 276.3 L1928.4 276.5 L1929.6 276.1 L1930.7 275.7 L1931.9 276.4 L1933.0 277.2 L1934.0 276.4 L1935.1 276.4 L1936.2 277.5 L1937.2 277.1 L1938.2 277.7 L1939.2 277.3 L1940.2 277.9 L1941.2 277.2 L1942.1 277.9 L1943.1 277.6 L1944.0 277.1 L1944.9 277.8 L1945.8 278.2 L1946.7 278.4 L1947.6 278.5 L1948.5 277.9 L1949.4 278.8 L1950.2 278.4 L1951.0 278.3 L1951.9 278.1 L1952.7 279.2 L1953.5 279.2 L1954.3 279.3 L1955.1 278.8 L1955.9 279.5 L1956.6 279.4 L1957.4 279.5 L1958.1 278.7 L1958.9 278.9 L1959.6 279.7 L1960.4 279.4 L1961.1 280.1 L1961.8 280.0 L1962.5 280.2 L1963.2 279.4 L1963.9 280.3 L1964.6 279.6 L1965.2 280.4 L1965.9 280.1 L1966.6 280.6 L1967.2 280.7 L1967.9 279.8 L1968.5 280.6 L1969.2 280.5 L1969.8 280.5 L1970.4 280.6 L1971.0 281.0 L1971.7 281.0 L1972.3 280.9 L1972.9 281.3 L1973.5 281.4 L1974.1 281.0 L1974.7 281.5 L1975.2 281.5 L1975.8 281.2 L1976.4 281.4 L1976.9 281.7 L1977.5 281.7 L1978.1 280.9 L1978.6 281.5 L1979.2 282.0 L1979.7 282.0 L1980.3 281.8 L1980.8 282.1 L1981.3 282.1 L1981.8 282.2 L1982.4 281.6 L1982.9 281.6 L1983.4 282.2 L1983.9 282.4 L1984.4 282.3 L1984.9 282.5 L1985.4 282.3 L1985.9 282.6 L1986.4 282.7 L1986.9 282.7 L1987.4 282.2 L1987.9 282.8 L1988.3 282.2 L1988.8 282.7 L1989.3 283.0 L1989.8 282.9 L1990.0 283.1 L1990.2 282.3 L1990.7 283.1 L1991.1 283.0 L1991.6 283.0 L1992.1 283.0 L1992.5 282.8 L1992.9 282.7 L1993.4 283.0 L1993.8 283.0 L1994.3 283.0 L1994.7 282.6 L1995.1 283.0 L1995.6 282.1 L1995.6 293.9 L1995.1 293.9 L1994.7 294.0 L1994.3 293.9 L1993.8 294.0 L1993.4 293.9 L1992.9 294.3 L1992.5 293.9 L1992.1 294.2 L1991.6 293.9 L1991.1 294.4 L1990.7 294.0 L1990.2 294.3 L1990.0 293.8 L1989.8 294.5 L1989.3 293.9 L1988.8 294.3 L1988.3 294.7 L1987.9 293.8 L1987.4 294.5 L1986.9 294.9 L1986.4 294.4 L1985.9 294.3 L1985.4 293.9 L1984.9 294.8 L1984.4 293.9 L1983.9 294.2 L1983.4 294.5 L1982.9 293.9 L1982.4 294.1 L1981.8 293.9 L1981.3 294.6 L1980.8 293.9 L1980.3 294.2 L1979.7 294.3 L1979.2 294.2 L1978.6 293.8 L1978.1 294.6 L1977.5 294.1 L1976.9 294.6 L1976.4 293.9 L1975.8 294.1 L1975.2 294.9 L1974.7 294.1 L1974.1 294.0 L1973.5 293.8 L1972.9 294.1 L1972.3 293.9 L1971.7 294.7 L1971.0 294.3 L1970.4 293.9 L1969.8 293.9 L1969.2 294.4 L1968.5 294.0 L1967.9 294.0 L1967.2 293.9 L1966.6 294.0 L1965.9 293.9 L1965.2 294.3 L1964.6 293.9 L1963.9 293.8 L1963.2 294.1 L1962.5 294.8 L1961.8 294.2 L1961.1 294.3 L1960.4 294.3 L1959.6 293.9 L1958.9 295.0 L1958.1 293.9 L1957.4 294.6 L1956.6 294.5 L1955.9 294.2 L1955.1 295.0 L1954.3 294.8 L1953.5 294.2 L1952.7 293.9 L1951.9 293.9 L1951.0 293.9 L1950.2 294.3 L1949.4 293.8 L1948.5 293.8 L1947.6 293.8 L1946.7 293.9 L1945.8 294.3 L1944.9 293.9 L1944.0 294.1 L1943.1 294.0 L1942.1 293.9 L1941.2 294.9 L1940.2 294.6 L1939.2 293.8 L1938.2 294.7 L1937.2 293.9 L1936.2 295.0 L1935.1 293.9 L1934.0 293.9 L1933.0 293.9 L1931.9 294.5 L1930.7 293.8 L1929.6 294.7 L1928.4 293.8 L1927.3 293.9 L1926.1 294.1 L1924.8 293.8 L1923.6 294.3 L1922.3 294.2 L1921.0 294.3 L1919.7 294.4 L1918.4 294.7 L1917.0 294.0 L1915.6 294.3 L1914.1 294.4 L1912.7 294.0 L1911.2 295.0 L1909.7 293.9 L1908.1 294.7 L1906.5 293.9 L1904.8 293.8 L1903.1 294.2 L1901.4 293.8 L1899.6 294.3 L1897.8 293.9 L1895.9 294.6 L1894.0 294.5 L1892.0 294.0 L1890.0 295.5 L1887.8 294.9 L1885.7 294.8 L1885.4 293.8 L1883.4 294.0 L1881.1 293.6 L1878.6 293.9 L1876.1 294.3 L1873.5 294.0 L1870.8 293.0 L1867.9 294.0 L1865.0 293.6 L1861.9 292.3 L1858.6 292.8 L1855.2 292.0 L1851.6 293.2 L1847.8 291.4 L1843.7 292.0 L1839.4 292.1 L1839.2 290.8 L1834.8 291.3 L1829.9 291.1 L1805.4 283.1 L1780.8 255.4 L1762.3 236.9 L1740.8 209.2 L1700.8 116.9 L1675.8 80.0 Z" fill="#b394c4"/>
<path d="M1696.2 -6.2 L1699.8 4.9 L1717.7 62.5 L1736.5 124.6 L1754.9 166.2 L1786.0 218.2 L1814.6 250.8 L1854.6 269.2 L1900.8 280.0 L1946.9 284.6 L1990.0 286.8" fill="none" stroke="#8e5298" stroke-width="7.4" stroke-linejoin="round"/>
<line x1="1675.95" y1="291.84" x2="1989.30" y2="291.84" stroke="#000" stroke-width="2.6" stroke-dasharray="8.1 3.8"/>
<line x1="1682.3" y1="140.0" x2="1730.6" y2="140.0" stroke="#000" stroke-width="2.7"/>
<line x1="1706.3" y1="77.8" x2="1706.3" y2="202.5" stroke="#000" stroke-width="2.7"/>
<circle cx="1706.3" cy="140.0" r="6.2"/>
<line x1="1730.6" y1="257.5" x2="1782.3" y2="257.5" stroke="#000" stroke-width="2.7"/>
<line x1="1756.8" y1="229.2" x2="1756.8" y2="285.5" stroke="#000" stroke-width="2.7"/>
<circle cx="1756.8" cy="257.5" r="6.2"/>
<line x1="1782.3" y1="280.0" x2="1832.5" y2="280.0" stroke="#000" stroke-width="2.7"/>
<line x1="1807.5" y1="256.9" x2="1807.5" y2="304.0" stroke="#000" stroke-width="2.7"/>
<circle cx="1807.5" cy="280.0" r="6.2"/>
<line x1="1832.5" y1="305.8" x2="1882.3" y2="305.8" stroke="#000" stroke-width="2.7"/>
<line x1="1857.7" y1="284.6" x2="1857.7" y2="327.7" stroke="#000" stroke-width="2.7"/>
<circle cx="1857.7" cy="305.8" r="6.2"/>
<line x1="1882.3" y1="287.1" x2="1983.2" y2="287.1" stroke="#000" stroke-width="2.7"/>
<line x1="1933.7" y1="238.5" x2="1933.7" y2="334.8" stroke="#000" stroke-width="2.7"/>
<circle cx="1933.7" cy="287.1" r="6.2"/>
</g>
<path d="M1715.96 0.80 V9.30 M1715.96 367.30 V358.80 M1742.99 0.80 V9.30 M1742.99 367.30 V358.80 M1762.17 0.80 V9.30 M1762.17 367.30 V358.80 M1777.04 0.80 V9.30 M1777.04 367.30 V358.80 M1789.20 0.80 V9.30 M1789.20 367.30 V358.80 M1799.47 0.80 V9.30 M1799.47 367.30 V358.80 M1808.37 0.80 V9.30 M1808.37 367.30 V358.80 M1816.23 0.80 V9.30 M1816.23 367.30 V358.80 M1823.25 0.80 V16.30 M1823.25 367.30 V351.80 M1869.46 0.80 V9.30 M1869.46 367.30 V358.80 M1896.49 0.80 V9.30 M1896.49 367.30 V358.80 M1915.67 0.80 V9.30 M1915.67 367.30 V358.80 M1930.54 0.80 V9.30 M1930.54 367.30 V358.80 M1942.70 0.80 V9.30 M1942.70 367.30 V358.80 M1952.97 0.80 V9.30 M1952.97 367.30 V358.80 M1961.87 0.80 V9.30 M1961.87 367.30 V358.80 M1969.73 0.80 V9.30 M1969.73 367.30 V358.80 M1976.75 0.80 V16.30 M1976.75 367.30 V351.80 M1675.95 345.74 H1691.45 M1989.30 345.74 H1973.80 M1675.95 291.84 H1691.45 M1989.30 291.84 H1973.80 M1675.95 237.95 H1691.45 M1989.30 237.95 H1973.80 M1675.95 184.05 H1691.45 M1989.30 184.05 H1973.80 M1675.95 130.15 H1691.45 M1989.30 130.15 H1973.80 M1675.95 76.26 H1691.45 M1989.30 76.26 H1973.80 M1675.95 22.36 H1691.45 M1989.30 22.36 H1973.80 M1675.95 318.79 H1684.45 M1989.30 318.79 H1980.80 M1675.95 264.90 H1684.45 M1989.30 264.90 H1980.80 M1675.95 211.00 H1684.45 M1989.30 211.00 H1980.80 M1675.95 157.10 H1684.45 M1989.30 157.10 H1980.80 M1675.95 103.20 H1684.45 M1989.30 103.20 H1980.80 M1675.95 49.31 H1684.45 M1989.30 49.31 H1980.80 M1675.95 -4.59 H1684.45 M1989.30 -4.59 H1980.80" stroke="#000" stroke-width="2.40" fill="none"/>
<rect x="1675.95" y="0.80" width="313.35" height="366.50" fill="none" stroke="#000" stroke-width="2.50"/>
<text x="1840.95" y="65.80" font-size="39">UVW1</text>
<g clip-path="url(#c6)">
<path d="M111.2 349.6 L161.9 349.6 L161.9 365.0 L175.8 431.2 L186.5 438.8 L197.3 481.9 L206.5 500.4 L215.8 503.5 L221.9 518.8 L234.2 540.4 L238.6 534.9 L238.8 535.8 L243.5 577.3 L245.7 576.3 L252.0 575.4 L257.3 574.2 L257.8 564.9 L260.4 565.0 L263.2 583.5 L263.5 586.5 L268.1 573.6 L271.2 565.0 L272.7 578.5 L274.2 592.7 L277.0 592.9 L281.0 594.0 L284.9 600.5 L288.5 603.9 L289.6 605.0 L291.9 607.8 L295.1 607.3 L298.2 615.2 L301.2 619.0 L301.9 620.4 L304.0 615.7 L306.7 619.1 L309.4 619.8 L311.9 621.0 L314.3 624.5 L316.6 622.3 L318.9 621.3 L320.4 626.5 L321.1 622.0 L323.2 627.3 L325.3 626.2 L327.2 624.8 L329.2 626.2 L331.1 629.0 L332.9 629.7 L334.7 630.1 L336.4 630.2 L338.1 631.1 L339.7 630.6 L341.3 631.1 L342.9 631.2 L344.4 632.9 L345.9 630.7 L347.4 633.5 L348.8 634.0 L350.2 631.7 L351.2 635.8 L351.6 633.3 L353.0 635.2 L354.3 636.0 L355.6 633.9 L356.8 637.5 L358.1 638.4 L359.3 638.6 L360.5 639.5 L361.7 637.5 L362.9 637.2 L364.0 640.9 L365.1 641.3 L366.2 641.0 L367.3 640.3 L368.4 641.6 L369.4 643.0 L370.4 640.8 L371.5 643.4 L372.5 644.3 L373.5 644.0 L374.4 644.5 L375.4 645.4 L376.3 645.4 L377.3 646.0 L378.2 646.3 L379.1 646.4 L380.0 647.2 L380.9 647.2 L381.7 646.3 L381.9 648.1 L382.6 648.0 L383.5 647.3 L384.3 648.3 L385.1 647.7 L385.9 647.2 L386.7 648.2 L387.5 648.6 L388.3 648.5 L389.1 648.0 L389.9 647.7 L390.6 648.9 L391.4 648.8 L392.1 649.1 L392.9 647.6 L393.6 649.2 L394.3 646.8 L395.0 647.3 L395.7 649.2 L396.4 647.8 L397.1 649.6 L397.8 648.9 L398.5 648.1 L399.2 649.0 L399.8 649.8 L400.5 648.5 L401.1 648.9 L401.8 649.9 L402.4 650.1 L403.1 648.2 L403.7 650.2 L404.3 648.8 L404.9 650.3 L405.5 648.7 L406.1 648.9 L406.7 650.4 L407.3 650.3 L407.9 650.6 L408.5 649.6 L409.1 649.0 L409.6 650.3 L410.2 648.4 L410.8 649.1 L411.3 649.1 L411.9 651.0 L412.4 648.8 L412.7 651.2 L413.0 650.6 L413.5 651.1 L414.0 649.5 L414.6 650.5 L415.1 649.7 L415.6 649.1 L416.1 650.5 L416.7 651.1 L417.2 650.9 L417.7 651.1 L418.2 648.8 L418.7 651.1 L419.2 649.4 L419.7 649.3 L420.2 650.1 L420.6 650.7 L421.1 651.1 L421.6 650.8 L422.1 651.0 L422.5 651.1 L423.0 650.1 L423.5 651.1 L423.9 650.6 L424.4 651.1 L424.8 650.6 L425.0 651.2 L425.3 648.8 L425.7 650.4 L426.2 650.4 L426.6 649.1 L427.1 651.1 L427.5 650.7 L428.0 649.9 L428.4 650.4 L428.8 650.6 L428.8 677.5 L428.4 677.2 L428.0 676.8 L427.5 677.3 L427.1 677.1 L426.6 676.3 L426.2 677.8 L425.7 676.0 L425.3 678.2 L425.0 676.0 L424.8 676.6 L424.4 677.2 L423.9 678.2 L423.5 676.4 L423.0 676.7 L422.5 676.3 L422.1 677.8 L421.6 677.8 L421.1 678.1 L420.6 678.6 L420.2 676.3 L419.7 676.1 L419.2 676.4 L418.7 678.3 L418.2 676.2 L417.7 678.4 L417.2 678.1 L416.7 676.3 L416.1 676.4 L415.6 677.5 L415.1 676.3 L414.6 676.4 L414.0 677.7 L413.5 676.4 L413.0 676.4 L412.4 678.1 L411.9 678.0 L411.3 676.8 L410.8 676.4 L410.2 676.4 L409.6 676.6 L409.1 677.2 L408.5 678.2 L407.9 679.0 L407.3 677.1 L406.7 677.5 L406.1 677.0 L405.5 678.1 L404.9 676.6 L404.3 678.7 L403.7 677.8 L403.1 677.0 L402.4 678.2 L401.8 678.9 L401.1 676.7 L400.5 676.9 L399.8 679.1 L399.2 678.2 L398.5 678.9 L397.8 677.5 L397.1 676.8 L396.4 679.4 L395.7 676.8 L395.0 677.5 L394.3 676.8 L393.6 677.5 L393.0 676.8 L392.9 678.7 L392.1 677.9 L391.4 678.2 L390.6 678.2 L389.9 677.4 L389.1 678.1 L388.3 678.6 L387.5 678.9 L386.7 677.9 L385.9 678.0 L385.1 677.8 L384.3 678.7 L383.5 677.3 L382.6 677.3 L381.7 678.0 L380.9 678.5 L380.0 680.1 L379.1 677.5 L378.2 679.8 L377.3 677.6 L377.0 677.6 L376.3 677.7 L375.4 680.7 L374.4 680.0 L373.5 679.1 L372.5 677.9 L371.5 678.7 L370.4 679.0 L369.4 678.7 L368.4 679.1 L367.3 678.5 L366.2 678.2 L365.1 678.3 L364.0 680.2 L362.9 678.5 L361.7 678.5 L361.0 678.4 L360.5 680.2 L359.3 681.5 L358.1 678.7 L356.8 682.3 L355.6 679.6 L354.3 679.9 L353.0 682.9 L351.6 679.5 L350.2 682.8 L348.8 680.5 L347.4 681.3 L345.9 681.3 L345.0 680.0 L344.4 681.0 L342.9 682.6 L341.3 684.7 L339.7 683.1 L338.1 684.2 L336.4 683.9 L334.7 685.2 L332.9 685.5 L332.2 684.8 L331.1 694.0 L330.6 697.6 L329.2 686.3 L329.0 684.8 L327.2 685.7 L325.3 688.0 L323.2 689.3 L321.1 690.7 L321.0 688.0 L318.9 689.7 L316.6 687.3 L314.3 689.8 L313.0 686.4 L311.9 688.1 L309.4 690.4 L306.7 691.8 L305.0 692.8 L304.0 694.8 L301.2 698.5 L300.2 699.2 L298.2 693.5 L297.0 689.6 L295.1 694.6 L291.9 696.0 L289.0 699.2 L288.5 703.3 L284.9 700.6 L281.0 697.9 L281.0 697.6 L277.0 702.3 L273.0 704.0 L272.7 704.5 L268.1 703.1 L265.0 702.4 L263.2 704.5 L258.6 700.8 L257.8 703.0 L252.0 719.2 L249.0 716.8 L245.7 734.6 L244.2 742.4 L238.6 745.2 L234.6 742.4 L230.6 708.8 L228.2 742.4 L204.2 742.4 L196.2 708.0 L181.8 742.4 L167.4 742.4 L140.2 688.0 L109.0 718.4 L108.2 718.4 Z" fill="#d9d1e8"/>
<path d="M111.2 355.8 L123.5 365.0 L141.9 454.2 L175.8 537.3 L188.1 549.6 L212.7 592.7 L243.5 620.4 L263.2 627.3 L268.1 629.3 L272.7 630.9 L277.0 632.2 L281.0 634.9 L284.9 636.5 L288.5 637.4 L289.6 638.8 L291.9 639.3 L295.1 639.3 L298.2 640.0 L301.2 641.1 L304.0 641.8 L306.7 642.7 L309.4 642.2 L311.9 643.7 L314.3 643.9 L316.6 644.9 L318.9 645.2 L321.1 644.9 L323.2 645.9 L325.3 646.1 L327.2 646.2 L329.2 646.9 L331.1 647.3 L332.9 647.8 L334.7 647.8 L336.4 649.4 L338.1 648.7 L339.7 649.0 L341.3 649.6 L342.9 649.9 L344.4 650.1 L345.9 651.4 L347.4 651.0 L348.8 652.0 L350.2 651.8 L351.2 652.7 L351.6 652.2 L353.0 652.8 L354.3 652.0 L355.6 652.9 L356.8 652.9 L358.1 652.3 L359.3 652.2 L360.5 653.2 L361.7 652.5 L362.9 652.8 L364.0 652.8 L365.1 653.6 L366.2 653.5 L367.3 652.9 L368.4 653.8 L369.4 653.8 L370.4 653.0 L371.5 653.8 L372.5 653.1 L373.5 653.4 L374.4 653.6 L375.4 654.1 L376.3 653.9 L377.3 654.3 L378.2 654.3 L379.1 654.0 L380.0 654.2 L380.9 654.5 L381.7 654.3 L382.6 654.2 L383.5 654.5 L384.3 654.4 L385.1 653.8 L385.9 654.2 L386.7 654.6 L387.5 654.8 L388.3 655.0 L389.1 654.2 L389.9 654.8 L390.6 654.5 L391.4 655.2 L392.1 655.0 L392.9 654.5 L393.6 655.3 L394.3 655.3 L395.0 655.0 L395.7 654.7 L396.4 655.1 L397.1 655.3 L397.8 655.4 L398.5 655.4 L399.2 655.3 L399.8 655.5 L400.5 655.8 L401.1 655.7 L401.8 655.8 L402.4 655.6 L403.1 655.7 L403.7 655.8 L404.3 655.3 L404.9 655.4 L405.5 655.9 L406.1 656.1 L406.7 656.2 L407.3 655.9 L407.9 656.2 L408.5 656.0 L409.1 655.9 L409.6 656.3 L410.2 655.7 L410.8 656.1 L411.3 655.9 L411.9 655.9 L412.4 656.2 L413.0 656.3 L413.5 656.5 L414.0 656.2 L414.6 656.3 L415.1 656.6 L415.6 656.5 L416.1 656.3 L416.7 656.6 L417.2 656.6 L417.7 656.5 L418.2 656.9 L418.7 656.8 L419.2 656.4 L419.7 656.3 L420.2 657.0 L420.6 656.6 L421.1 656.7 L421.6 656.7 L422.1 657.1 L422.5 657.1 L423.0 656.7 L423.5 657.0 L423.9 656.5 L424.4 657.2 L424.8 657.1 L425.0 657.3 L425.3 656.7 L425.7 657.1 L426.2 657.2 L426.6 656.6 L427.1 657.2 L427.5 657.1 L428.0 657.2 L428.4 657.3 L428.8 656.5 L428.8 664.9 L428.4 664.4 L428.0 664.3 L427.5 664.4 L427.1 664.1 L426.6 664.1 L426.2 664.5 L425.7 664.1 L425.3 664.5 L425.0 664.1 L424.8 664.1 L424.4 664.4 L423.9 664.3 L423.5 664.6 L423.0 664.1 L422.5 664.3 L422.1 664.8 L421.6 664.6 L421.1 664.9 L420.6 664.7 L420.2 664.2 L419.7 664.7 L419.2 664.4 L418.7 664.2 L418.2 664.5 L417.7 665.0 L417.2 664.2 L416.7 664.4 L416.1 664.2 L415.6 664.8 L415.1 664.3 L414.6 664.2 L414.0 664.2 L413.5 665.1 L413.0 664.8 L412.4 664.2 L411.9 664.5 L411.3 664.3 L410.8 664.3 L410.2 664.4 L409.6 664.8 L409.1 665.1 L408.5 664.8 L407.9 664.4 L407.3 664.9 L406.7 664.8 L406.1 664.9 L405.5 665.0 L404.9 665.2 L404.3 664.5 L403.7 664.8 L403.1 664.4 L402.4 664.5 L401.8 665.1 L401.1 664.7 L400.5 664.5 L399.8 664.5 L399.2 664.4 L398.5 664.6 L397.8 665.0 L397.1 664.7 L396.4 664.8 L395.7 664.5 L395.0 664.9 L394.3 664.7 L393.6 664.9 L392.9 665.1 L392.1 664.6 L391.4 664.6 L390.6 664.7 L389.9 665.4 L389.1 664.8 L388.3 665.0 L387.5 664.5 L386.7 665.5 L385.9 664.7 L385.1 664.6 L384.3 664.9 L383.5 664.7 L382.6 665.4 L381.7 664.6 L380.9 665.5 L380.0 664.9 L379.1 664.9 L378.2 665.1 L377.3 664.7 L376.3 664.8 L375.4 664.9 L374.4 664.7 L373.5 664.9 L372.5 665.4 L371.5 664.9 L370.4 664.9 L369.4 665.3 L368.4 665.5 L367.3 665.7 L366.2 664.9 L365.1 665.0 L364.0 664.9 L362.9 665.0 L361.7 665.0 L360.5 665.9 L359.3 665.0 L358.1 665.8 L356.8 665.6 L355.6 665.7 L354.3 665.0 L353.0 665.3 L351.6 665.3 L351.2 665.0 L350.2 665.0 L348.8 665.6 L347.4 665.0 L345.9 665.2 L344.4 665.5 L342.9 665.1 L341.3 665.2 L339.7 665.0 L338.1 665.8 L336.4 665.0 L334.7 665.6 L332.9 665.6 L331.1 665.6 L329.2 665.0 L327.2 665.6 L325.3 665.1 L323.2 666.0 L321.1 665.0 L318.9 665.1 L316.6 665.5 L314.3 665.4 L311.9 666.3 L309.4 665.3 L306.7 666.2 L304.0 665.9 L301.2 665.3 L298.2 665.7 L295.1 665.2 L291.9 665.3 L289.6 665.0 L288.5 666.1 L284.9 665.2 L281.0 664.2 L277.0 663.8 L272.7 663.5 L268.1 664.1 L263.2 662.8 L243.5 660.4 L206.5 645.0 L175.8 611.2 L141.9 561.9 L111.2 531.2 Z" fill="#b394c4"/>
<path d="M111.2 436.4 L114.2 439.8 L138.2 491.8 L157.9 533.3 L177.6 574.8 L204.7 605.9 L228.1 626.5 L249.6 639.8 L289.6 652.7 L351.2 658.8 L425.0 661.0" fill="none" stroke="#8e5298" stroke-width="7.4" stroke-linejoin="round"/>
<line x1="109.20" y1="665.08" x2="422.55" y2="665.08" stroke="#000" stroke-width="2.6" stroke-dasharray="8.1 3.8"/>
<line x1="114.8" y1="549.0" x2="163.5" y2="549.0" stroke="#000" stroke-width="2.7"/>
<line x1="139.5" y1="517.3" x2="139.5" y2="579.8" stroke="#000" stroke-width="2.7"/>
<circle cx="139.5" cy="549.0" r="6.2"/>
<line x1="163.5" y1="615.8" x2="214.8" y2="615.8" stroke="#000" stroke-width="2.7"/>
<line x1="189.6" y1="601.3" x2="189.6" y2="629.6" stroke="#000" stroke-width="2.7"/>
<circle cx="189.6" cy="615.8" r="6.2"/>
<line x1="214.8" y1="648.7" x2="265.6" y2="648.7" stroke="#000" stroke-width="2.7"/>
<line x1="240.4" y1="631.2" x2="240.4" y2="665.9" stroke="#000" stroke-width="2.7"/>
<circle cx="240.4" cy="648.7" r="6.2"/>
<line x1="265.6" y1="654.2" x2="315.8" y2="654.2" stroke="#000" stroke-width="2.7"/>
<line x1="290.5" y1="634.2" x2="290.5" y2="674.2" stroke="#000" stroke-width="2.7"/>
<circle cx="290.5" cy="654.2" r="6.2"/>
<line x1="315.8" y1="667.5" x2="417.3" y2="667.5" stroke="#000" stroke-width="2.7"/>
<line x1="365.9" y1="645.0" x2="365.9" y2="689.6" stroke="#000" stroke-width="2.7"/>
<circle cx="365.9" cy="667.5" r="6.2"/>
</g>
<path d="M149.21 367.30 V375.80 M149.21 733.80 V725.30 M176.24 367.30 V375.80 M176.24 733.80 V725.30 M195.42 367.30 V375.80 M195.42 733.80 V725.30 M210.29 367.30 V375.80 M210.29 733.80 V725.30 M222.45 367.30 V375.80 M222.45 733.80 V725.30 M232.72 367.30 V375.80 M232.72 733.80 V725.30 M241.62 367.30 V375.80 M241.62 733.80 V725.30 M249.48 367.30 V375.80 M249.48 733.80 V725.30 M256.50 367.30 V382.80 M256.50 733.80 V718.30 M302.71 367.30 V375.80 M302.71 733.80 V725.30 M329.74 367.30 V375.80 M329.74 733.80 V725.30 M348.92 367.30 V375.80 M348.92 733.80 V725.30 M363.79 367.30 V375.80 M363.79 733.80 V725.30 M375.95 367.30 V375.80 M375.95 733.80 V725.30 M386.22 367.30 V375.80 M386.22 733.80 V725.30 M395.12 367.30 V375.80 M395.12 733.80 V725.30 M402.98 367.30 V375.80 M402.98 733.80 V725.30 M410.00 367.30 V382.80 M410.00 733.80 V718.30 M109.20 665.08 H124.70 M422.55 665.08 H407.05 M109.20 573.46 H124.70 M422.55 573.46 H407.05 M109.20 481.83 H124.70 M422.55 481.83 H407.05 M109.20 390.21 H124.70 M422.55 390.21 H407.05 M109.20 710.89 H117.70 M422.55 710.89 H414.05 M109.20 619.27 H117.70 M422.55 619.27 H414.05 M109.20 527.64 H117.70 M422.55 527.64 H414.05 M109.20 436.02 H117.70 M422.55 436.02 H414.05" stroke="#000" stroke-width="2.40" fill="none"/>
<rect x="109.20" y="367.30" width="313.35" height="366.50" fill="none" stroke="#000" stroke-width="2.50"/>
<text x="101" y="666.08" font-size="39" text-anchor="end" dominant-baseline="central">0</text>
<text x="101" y="574.46" font-size="39" text-anchor="end" dominant-baseline="central">2</text>
<text x="101" y="482.83" font-size="39" text-anchor="end" dominant-baseline="central">4</text>
<text x="101" y="391.21" font-size="39" text-anchor="end" dominant-baseline="central">6</text>
<text x="274.20" y="432.30" font-size="39">U<tspan font-size="28" dy="7.5">swift</tspan></text>
<g clip-path="url(#c7)">
<path d="M422.6 358.8 L476.5 358.8 L479.5 380.4 L488.8 425.0 L499.5 429.6 L510.3 466.5 L519.5 494.2 L527.2 497.3 L534.9 515.8 L542.6 521.9 L547.2 537.3 L551.8 532.7 L552.0 527.5 L556.5 577.3 L559.0 570.7 L565.4 571.2 L565.7 574.2 L571.2 570.1 L571.8 577.3 L574.9 561.9 L576.5 566.5 L578.0 580.4 L581.4 563.0 L582.6 565.0 L585.7 586.5 L586.0 586.8 L590.3 595.8 L590.3 588.5 L594.4 590.0 L594.9 592.7 L598.2 596.9 L601.8 605.1 L602.6 608.1 L605.2 608.9 L608.5 606.0 L611.6 612.6 L614.5 612.8 L614.9 614.2 L617.4 615.2 L620.1 612.0 L622.7 613.7 L625.2 619.3 L627.7 616.0 L630.0 619.7 L632.3 618.8 L633.4 623.5 L634.4 619.5 L636.6 623.0 L638.6 625.7 L640.6 626.8 L642.5 628.0 L644.4 627.4 L646.2 629.8 L648.0 626.5 L649.7 631.6 L651.4 629.7 L651.8 632.7 L653.1 633.0 L654.7 633.0 L656.3 631.8 L657.8 634.4 L659.3 635.2 L660.7 635.4 L662.2 633.2 L663.6 633.6 L665.0 636.9 L666.3 637.4 L667.6 637.0 L668.9 637.5 L670.2 637.5 L671.4 636.3 L672.7 637.5 L673.9 639.2 L675.0 640.4 L676.2 640.8 L677.3 640.8 L678.5 641.6 L679.5 641.9 L679.6 641.0 L680.6 640.8 L681.7 642.1 L682.8 641.3 L683.8 642.3 L684.8 642.8 L685.8 640.7 L686.8 643.1 L687.8 643.5 L688.7 641.9 L689.7 642.4 L690.6 644.1 L691.5 644.2 L692.4 643.3 L693.3 644.5 L694.2 644.4 L695.1 645.0 L696.0 645.2 L696.8 644.7 L697.6 645.0 L698.5 645.0 L699.3 645.7 L700.1 644.8 L700.9 645.9 L701.7 645.1 L702.5 644.4 L703.2 644.5 L704.0 646.8 L704.7 646.1 L705.5 646.9 L706.2 646.7 L707.0 647.2 L707.7 647.2 L708.4 646.9 L709.1 646.5 L709.8 647.9 L710.3 648.1 L710.5 648.1 L711.2 646.6 L711.8 648.0 L712.5 647.9 L713.2 646.8 L713.8 646.8 L714.5 647.7 L715.1 647.6 L715.8 648.4 L716.4 648.0 L717.0 647.1 L717.6 646.9 L718.3 648.4 L718.9 647.2 L719.5 648.5 L720.1 648.6 L720.7 648.0 L721.3 646.4 L721.8 647.8 L722.4 648.7 L723.0 647.7 L723.5 647.9 L724.1 648.1 L724.7 646.7 L725.2 648.8 L725.8 648.2 L726.3 648.6 L726.9 646.6 L727.4 649.0 L727.9 648.9 L728.4 648.8 L729.0 649.0 L729.5 646.4 L730.0 648.4 L730.5 649.2 L731.0 649.1 L731.5 649.2 L732.0 649.2 L732.5 649.2 L733.0 647.9 L733.5 649.4 L734.0 649.3 L734.5 649.4 L734.9 647.0 L735.4 649.1 L735.9 649.5 L736.4 649.5 L736.8 647.8 L737.3 647.6 L737.7 648.0 L738.0 649.6 L738.2 647.3 L738.7 649.3 L739.1 649.5 L739.5 649.4 L740.0 649.6 L740.4 649.5 L740.9 649.1 L741.3 649.6 L741.7 649.0 L742.2 647.1 L742.2 678.4 L741.7 676.1 L741.3 676.5 L740.9 677.2 L740.4 676.0 L740.0 676.0 L739.5 676.2 L739.1 678.6 L738.7 676.9 L738.2 676.9 L738.0 676.0 L737.7 676.1 L737.3 676.0 L736.8 678.7 L736.4 676.9 L735.9 677.2 L735.4 676.1 L734.9 678.6 L734.5 678.3 L734.0 678.7 L733.5 678.2 L733.0 678.6 L732.5 676.7 L732.0 676.5 L731.5 676.9 L731.0 676.5 L730.5 676.9 L730.0 676.2 L729.5 678.2 L729.0 677.8 L728.4 677.8 L727.9 677.6 L727.4 678.8 L726.9 679.0 L726.3 677.5 L725.8 677.1 L725.2 676.4 L724.7 676.4 L724.1 678.2 L723.5 676.4 L723.0 676.5 L722.4 676.7 L721.8 676.5 L721.3 676.6 L720.7 678.5 L720.1 676.8 L719.5 676.5 L718.9 677.7 L718.3 676.7 L717.6 676.6 L717.0 677.7 L716.4 677.8 L715.8 679.1 L715.1 676.8 L714.5 676.6 L713.8 677.1 L713.2 678.3 L712.5 676.8 L711.8 677.3 L711.2 676.7 L710.5 678.7 L709.8 678.8 L709.1 677.0 L708.4 679.0 L707.7 678.9 L707.0 677.1 L706.2 677.9 L706.0 676.8 L705.5 677.3 L704.7 677.8 L704.0 677.3 L703.2 677.3 L702.5 677.7 L701.7 677.4 L700.9 680.2 L700.1 679.9 L699.3 678.2 L698.5 677.6 L697.6 679.5 L696.8 677.7 L696.0 677.8 L695.1 680.8 L694.2 680.8 L693.3 678.9 L692.4 679.3 L691.5 678.3 L690.6 680.4 L690.0 678.4 L689.7 680.7 L688.7 678.6 L687.8 678.6 L686.8 681.1 L685.8 678.4 L684.8 678.7 L683.8 679.0 L682.8 681.3 L681.7 678.5 L680.6 679.8 L679.6 678.8 L678.5 680.5 L677.3 680.7 L676.2 678.4 L675.0 678.4 L674.0 678.4 L673.9 681.8 L672.7 679.3 L671.4 681.3 L670.2 680.6 L668.9 679.7 L667.6 680.2 L667.6 680.0 L666.3 680.2 L665.0 681.8 L663.6 681.3 L662.2 683.4 L660.7 683.7 L659.3 684.8 L658.0 681.6 L657.8 683.0 L656.3 681.9 L654.7 682.5 L653.1 686.1 L651.4 686.6 L650.0 683.2 L649.7 684.6 L648.0 686.0 L646.2 690.9 L645.2 689.6 L644.4 692.5 L642.5 687.0 L642.0 686.4 L640.6 686.8 L638.6 687.6 L636.6 690.9 L634.4 688.0 L632.3 690.0 L630.8 688.0 L630.0 691.2 L627.7 696.4 L626.0 692.8 L625.2 692.0 L622.8 688.0 L622.7 691.5 L620.1 691.6 L618.0 694.4 L617.4 695.2 L614.5 701.1 L613.2 700.8 L611.6 700.5 L610.0 691.2 L608.5 694.5 L605.2 697.2 L603.6 699.2 L601.8 707.6 L598.8 705.6 L598.2 704.9 L594.4 700.5 L594.0 697.6 L590.3 702.9 L586.0 711.3 L586.0 707.2 L581.4 708.7 L578.0 704.0 L576.5 709.1 L574.8 700.8 L571.6 702.4 L571.2 710.2 L565.4 718.5 L562.0 716.8 L559.0 736.7 L557.2 742.4 L552.0 742.8 L550.8 742.4 L546.0 712.0 L541.2 742.4 L518.0 742.4 L510.0 708.8 L496.4 742.4 L480.4 742.4 L454.0 686.4 L422.5 723.2 L421.2 723.2 Z" fill="#d9d1e8"/>
<path d="M422.6 358.8 L436.5 358.8 L439.5 380.4 L454.9 451.2 L488.8 534.2 L501.1 546.5 L525.7 586.5 L556.5 617.3 L576.5 625.4 L581.4 628.3 L586.0 628.8 L587.2 631.2 L590.3 632.2 L594.4 633.1 L598.2 635.7 L601.8 637.1 L605.2 638.9 L608.5 640.2 L611.6 641.7 L614.5 643.0 L617.4 644.0 L620.1 645.1 L622.7 645.3 L625.2 646.9 L627.7 647.9 L630.0 649.6 L632.3 650.7 L633.4 651.2 L634.4 650.4 L636.6 650.6 L638.6 650.6 L640.6 651.6 L642.5 651.7 L644.4 652.3 L646.2 652.4 L648.0 652.4 L649.7 652.3 L651.4 652.9 L653.1 652.7 L654.7 652.7 L656.3 652.7 L657.8 653.3 L659.3 653.7 L660.7 653.9 L662.2 653.5 L663.6 654.0 L665.0 654.3 L666.3 654.4 L667.6 654.2 L668.9 654.5 L670.2 654.8 L671.4 654.4 L672.7 655.1 L673.9 654.9 L675.0 654.6 L676.2 655.3 L677.3 655.5 L678.5 655.6 L679.5 655.8 L679.6 655.6 L680.6 655.5 L681.7 655.7 L682.8 655.8 L683.8 656.0 L684.8 655.6 L685.8 656.1 L686.8 655.8 L687.8 655.5 L688.7 656.1 L689.7 655.7 L690.6 655.8 L691.5 655.8 L692.4 656.4 L693.3 656.2 L694.2 656.4 L695.1 656.5 L696.0 656.6 L696.8 656.4 L697.6 656.1 L698.5 656.3 L699.3 656.8 L700.1 656.4 L700.9 656.4 L701.7 656.7 L702.5 656.7 L703.2 656.9 L704.0 657.0 L704.7 656.2 L705.5 657.1 L706.2 657.0 L707.0 657.2 L707.7 657.2 L708.4 657.2 L709.1 656.8 L709.8 657.1 L710.5 656.8 L711.2 657.4 L711.8 657.0 L712.5 657.5 L713.2 657.1 L713.8 657.5 L714.5 657.2 L715.1 656.8 L715.8 657.6 L716.4 657.4 L717.0 657.3 L717.6 656.9 L718.3 657.8 L718.9 657.8 L719.5 657.6 L720.1 657.9 L720.7 657.9 L721.3 658.0 L721.8 657.9 L722.4 658.0 L723.0 657.6 L723.5 657.6 L724.1 658.0 L724.7 658.1 L725.2 657.4 L725.8 657.4 L726.3 657.7 L726.9 657.7 L727.4 658.0 L727.9 658.3 L728.4 658.2 L729.0 658.0 L729.5 658.3 L730.0 658.0 L730.5 658.4 L731.0 658.1 L731.5 658.4 L732.0 658.4 L732.5 658.2 L733.0 658.3 L733.5 658.0 L734.0 658.1 L734.5 658.5 L734.9 658.7 L735.4 658.7 L735.9 657.9 L736.4 658.5 L736.8 658.8 L737.3 658.8 L737.7 658.8 L738.0 658.8 L738.2 658.7 L738.7 658.2 L739.1 658.5 L739.5 658.8 L740.0 658.3 L740.4 658.8 L740.9 658.7 L741.3 658.1 L741.7 658.3 L742.2 658.2 L742.2 665.0 L741.7 665.0 L741.3 665.6 L740.9 665.1 L740.4 665.8 L740.0 665.4 L739.5 665.2 L739.1 665.6 L738.7 665.1 L738.2 665.3 L738.0 665.0 L737.7 665.2 L737.3 665.6 L736.8 665.3 L736.4 665.3 L735.9 665.3 L735.4 665.2 L734.9 665.1 L734.5 665.2 L734.0 665.0 L733.5 665.1 L733.0 665.2 L732.5 665.1 L732.0 665.7 L731.5 665.5 L731.0 665.1 L730.5 665.1 L730.0 665.4 L729.5 665.1 L729.0 665.0 L728.4 665.6 L727.9 665.2 L727.4 665.6 L726.9 665.0 L726.3 665.5 L725.8 665.0 L725.2 665.3 L724.7 665.7 L724.1 665.2 L723.5 665.3 L723.0 665.4 L722.4 665.8 L721.8 665.0 L721.3 665.2 L720.7 665.8 L720.1 665.1 L719.5 665.6 L718.9 665.6 L718.3 665.4 L717.6 665.1 L717.0 665.5 L716.4 665.4 L715.8 665.2 L715.1 665.0 L714.5 665.8 L713.8 665.6 L713.2 665.5 L712.5 665.0 L711.8 665.2 L711.2 665.4 L710.5 665.0 L709.8 665.1 L709.1 665.4 L708.4 665.1 L707.7 665.6 L707.0 665.1 L706.2 665.7 L705.5 665.1 L704.7 665.0 L704.0 665.1 L703.2 665.0 L702.5 665.2 L701.7 665.3 L700.9 665.0 L700.1 665.2 L699.3 665.8 L698.5 665.0 L697.6 665.0 L696.8 665.1 L696.0 665.5 L695.1 665.5 L694.2 665.9 L693.3 665.6 L692.4 665.0 L691.5 665.7 L690.6 665.1 L689.7 665.3 L688.7 665.2 L687.8 665.2 L686.8 665.6 L685.8 665.4 L684.8 665.0 L683.8 665.0 L682.8 665.1 L681.7 665.8 L680.6 665.5 L679.6 665.3 L678.5 665.7 L677.3 665.7 L676.2 665.3 L675.0 665.0 L673.9 665.1 L672.7 665.1 L671.4 665.7 L670.2 665.1 L668.9 665.2 L667.6 665.9 L666.3 665.3 L665.0 665.1 L663.6 665.1 L662.2 665.0 L660.7 665.1 L659.3 665.9 L657.8 665.4 L656.3 665.4 L654.7 665.0 L653.1 665.1 L651.4 665.7 L649.7 666.0 L648.0 665.0 L646.2 665.3 L644.4 665.8 L642.5 665.0 L640.6 665.5 L638.6 665.8 L636.6 665.6 L634.4 665.6 L633.4 665.0 L632.3 665.0 L630.0 665.7 L627.7 664.9 L625.2 665.3 L622.7 665.6 L620.1 664.6 L617.4 664.5 L614.5 664.9 L611.6 664.6 L608.5 665.1 L605.2 665.5 L601.8 664.6 L598.2 664.4 L594.4 665.1 L590.3 663.6 L587.2 663.5 L586.0 663.6 L581.4 662.8 L576.5 662.3 L547.2 658.8 L525.7 648.1 L510.3 632.7 L488.8 617.3 L454.9 555.8 L422.6 528.1 Z" fill="#b394c4"/>
<path d="M422.6 423.5 L427.2 429.3 L455.2 491.8 L474.0 533.3 L488.5 574.8 L519.5 605.9 L541.1 625.0 L562.6 638.2 L602.6 651.2 L648.8 657.3 L694.9 659.8 L738.0 661.0" fill="none" stroke="#8e5298" stroke-width="7.4" stroke-linejoin="round"/>
<line x1="422.55" y1="665.08" x2="735.90" y2="665.08" stroke="#000" stroke-width="2.6" stroke-dasharray="8.1 3.8"/>
<line x1="428.2" y1="476.4" x2="477.1" y2="476.4" stroke="#000" stroke-width="2.7"/>
<line x1="452.8" y1="453.6" x2="452.8" y2="499.5" stroke="#000" stroke-width="2.7"/>
<circle cx="452.8" cy="476.4" r="6.2"/>
<line x1="477.1" y1="589.0" x2="528.2" y2="589.0" stroke="#000" stroke-width="2.7"/>
<line x1="502.6" y1="571.8" x2="502.6" y2="606.5" stroke="#000" stroke-width="2.7"/>
<circle cx="502.6" cy="589.0" r="6.2"/>
<line x1="528.2" y1="589.6" x2="578.6" y2="589.6" stroke="#000" stroke-width="2.7"/>
<line x1="553.4" y1="567.2" x2="553.4" y2="612.1" stroke="#000" stroke-width="2.7"/>
<circle cx="553.4" cy="589.6" r="6.2"/>
<line x1="578.6" y1="638.8" x2="628.8" y2="638.8" stroke="#000" stroke-width="2.7"/>
<line x1="603.5" y1="618.2" x2="603.5" y2="659.5" stroke="#000" stroke-width="2.7"/>
<circle cx="603.5" cy="638.8" r="6.2"/>
<line x1="628.8" y1="659.8" x2="730.3" y2="659.8" stroke="#000" stroke-width="2.7"/>
<line x1="678.9" y1="648.1" x2="678.9" y2="671.2" stroke="#000" stroke-width="2.7"/>
<circle cx="678.9" cy="659.8" r="6.2"/>
</g>
<path d="M462.56 367.30 V375.80 M462.56 733.80 V725.30 M489.59 367.30 V375.80 M489.59 733.80 V725.30 M508.77 367.30 V375.80 M508.77 733.80 V725.30 M523.64 367.30 V375.80 M523.64 733.80 V725.30 M535.80 367.30 V375.80 M535.80 733.80 V725.30 M546.07 367.30 V375.80 M546.07 733.80 V725.30 M554.97 367.30 V375.80 M554.97 733.80 V725.30 M562.83 367.30 V375.80 M562.83 733.80 V725.30 M569.85 367.30 V382.80 M569.85 733.80 V718.30 M616.06 367.30 V375.80 M616.06 733.80 V725.30 M643.09 367.30 V375.80 M643.09 733.80 V725.30 M662.27 367.30 V375.80 M662.27 733.80 V725.30 M677.14 367.30 V375.80 M677.14 733.80 V725.30 M689.30 367.30 V375.80 M689.30 733.80 V725.30 M699.57 367.30 V375.80 M699.57 733.80 V725.30 M708.47 367.30 V375.80 M708.47 733.80 V725.30 M716.33 367.30 V375.80 M716.33 733.80 V725.30 M723.35 367.30 V382.80 M723.35 733.80 V718.30 M422.55 665.08 H438.05 M735.90 665.08 H720.40 M422.55 573.46 H438.05 M735.90 573.46 H720.40 M422.55 481.83 H438.05 M735.90 481.83 H720.40 M422.55 390.21 H438.05 M735.90 390.21 H720.40 M422.55 710.89 H431.05 M735.90 710.89 H727.40 M422.55 619.27 H431.05 M735.90 619.27 H727.40 M422.55 527.64 H431.05 M735.90 527.64 H727.40 M422.55 436.02 H431.05 M735.90 436.02 H727.40" stroke="#000" stroke-width="2.40" fill="none"/>
<rect x="422.55" y="367.30" width="313.35" height="366.50" fill="none" stroke="#000" stroke-width="2.50"/>
<text x="587.55" y="432.30" font-size="39">u</text>
<g clip-path="url(#c8)">
<path d="M735.9 358.8 L804.8 358.8 L814.1 395.8 L823.3 426.5 L832.5 463.5 L840.2 469.6 L847.9 485.0 L855.6 491.2 L860.2 525.0 L864.8 514.2 L865.3 515.6 L871.0 561.9 L872.4 552.9 L878.7 556.5 L881.8 555.8 L884.5 546.7 L886.4 548.1 L889.9 555.4 L891.0 568.1 L894.8 562.4 L897.2 558.8 L899.4 566.9 L901.8 583.5 L903.7 580.5 L907.7 586.3 L907.9 592.7 L911.6 592.6 L915.2 598.4 L915.6 598.8 L918.6 600.2 L921.8 603.5 L924.9 601.7 L927.9 607.3 L927.9 608.1 L930.7 605.6 L933.4 603.8 L934.1 603.5 L936.1 605.7 L938.6 608.4 L941.0 611.2 L943.3 613.6 L945.6 615.7 L946.4 617.3 L947.8 613.6 L949.9 619.3 L952.0 620.4 L953.9 621.5 L955.9 622.7 L957.8 620.6 L959.6 624.3 L961.4 625.3 L961.8 626.5 L963.1 626.4 L964.8 623.6 L966.4 627.1 L968.0 627.5 L969.6 627.4 L971.1 627.3 L972.6 627.8 L974.1 626.4 L975.5 629.2 L976.9 630.3 L978.3 630.9 L979.7 630.7 L981.0 632.1 L982.3 632.6 L983.5 633.1 L984.8 632.4 L986.0 633.4 L987.2 631.8 L988.4 633.6 L989.6 634.0 L990.7 634.1 L991.8 632.4 L992.5 635.8 L992.9 632.9 L994.0 634.2 L995.1 636.5 L996.1 634.6 L997.1 636.9 L998.2 637.4 L999.2 637.7 L1000.2 638.0 L1001.1 637.7 L1002.1 637.2 L1003.0 638.7 L1004.0 636.4 L1004.9 638.5 L1005.8 638.1 L1006.7 639.9 L1007.6 638.3 L1008.4 640.2 L1009.3 640.2 L1010.2 641.1 L1011.0 640.0 L1011.8 640.0 L1012.6 640.8 L1013.4 642.0 L1014.2 641.8 L1015.0 642.4 L1015.8 640.4 L1016.6 642.6 L1017.3 640.3 L1018.1 641.7 L1018.8 641.9 L1019.6 642.8 L1020.3 643.9 L1021.0 642.7 L1021.7 641.4 L1022.4 644.4 L1023.1 643.2 L1023.3 645.0 L1023.8 644.8 L1024.5 643.0 L1025.2 644.9 L1025.9 643.5 L1026.5 643.1 L1027.2 644.7 L1027.8 645.3 L1028.5 644.1 L1029.1 645.2 L1029.8 644.8 L1030.4 645.3 L1031.0 645.3 L1031.6 643.9 L1032.2 644.8 L1032.8 645.5 L1033.4 645.6 L1034.0 643.0 L1034.6 644.8 L1035.2 644.2 L1035.8 643.7 L1036.3 642.9 L1036.9 645.7 L1037.5 645.8 L1038.0 644.2 L1038.6 643.8 L1039.1 643.1 L1039.7 643.9 L1040.2 644.0 L1040.7 644.9 L1041.3 645.6 L1041.8 643.5 L1042.3 644.6 L1042.8 645.8 L1043.4 646.1 L1043.9 643.4 L1044.4 646.1 L1044.9 646.0 L1045.4 643.3 L1045.9 645.1 L1046.4 645.2 L1046.9 645.7 L1047.3 646.0 L1047.8 644.5 L1048.3 646.4 L1048.8 645.9 L1049.2 643.5 L1049.7 646.4 L1050.2 646.0 L1050.6 645.7 L1051.0 646.5 L1051.1 646.3 L1051.5 646.5 L1052.0 646.5 L1052.4 646.5 L1052.9 644.2 L1053.3 646.3 L1053.8 645.8 L1054.2 644.7 L1054.7 646.4 L1055.1 646.3 L1055.5 646.3 L1055.5 679.0 L1055.1 677.4 L1054.7 677.5 L1054.2 677.1 L1053.8 676.8 L1053.3 679.2 L1052.9 678.5 L1052.4 677.7 L1052.0 678.9 L1051.5 676.9 L1051.1 677.4 L1051.0 676.8 L1050.6 677.2 L1050.2 678.0 L1049.7 677.8 L1049.2 679.2 L1048.8 679.8 L1048.3 677.1 L1047.8 677.4 L1047.3 678.2 L1046.9 677.3 L1046.4 680.1 L1045.9 677.3 L1045.4 678.0 L1044.9 677.2 L1044.4 677.3 L1043.9 679.5 L1043.4 677.5 L1042.8 677.4 L1042.3 679.2 L1041.8 678.5 L1041.3 677.6 L1040.7 677.9 L1040.2 678.4 L1039.7 677.9 L1039.1 679.0 L1038.6 678.9 L1038.0 679.4 L1037.5 678.2 L1036.9 678.9 L1036.3 678.2 L1035.8 678.7 L1035.2 677.9 L1034.6 678.1 L1034.0 678.4 L1033.4 680.3 L1032.8 678.1 L1032.2 679.7 L1031.6 679.3 L1031.0 679.6 L1030.4 678.3 L1029.8 678.5 L1029.1 679.0 L1028.5 678.5 L1027.8 680.0 L1027.2 678.6 L1027.0 678.4 L1026.5 678.7 L1025.9 678.3 L1025.2 679.8 L1024.5 678.6 L1023.8 679.0 L1023.1 679.4 L1022.4 678.0 L1021.7 679.5 L1021.0 677.9 L1020.3 678.5 L1019.6 678.0 L1018.8 677.7 L1018.1 677.9 L1017.3 678.5 L1016.6 678.4 L1015.8 677.7 L1015.0 677.4 L1014.2 677.1 L1013.4 677.3 L1012.6 677.8 L1011.8 678.3 L1011.0 676.8 L1011.0 676.8 L1010.2 676.9 L1009.3 679.6 L1008.4 679.1 L1007.6 679.8 L1006.7 677.9 L1005.8 677.6 L1004.9 677.7 L1004.0 679.8 L1003.0 679.2 L1002.1 678.2 L1001.1 681.7 L1000.2 680.5 L999.8 678.4 L999.2 678.5 L998.2 679.4 L997.1 682.3 L996.1 678.9 L995.1 680.7 L994.0 679.4 L992.9 679.3 L991.8 682.3 L990.7 679.8 L989.6 682.7 L988.4 680.0 L987.2 682.9 L987.0 680.0 L986.0 683.1 L984.8 681.3 L983.5 681.5 L982.3 681.2 L981.0 681.6 L980.6 681.6 L979.7 682.5 L978.3 686.7 L976.9 685.9 L975.5 686.7 L974.2 688.0 L974.1 690.2 L972.6 687.7 L971.1 688.6 L969.6 684.6 L968.0 684.8 L967.8 683.2 L966.4 684.5 L964.8 688.9 L963.1 689.8 L961.4 688.0 L961.4 689.8 L959.6 689.4 L957.8 691.1 L955.9 696.8 L955.0 692.8 L953.9 696.3 L952.0 694.6 L951.8 689.6 L949.9 698.6 L948.6 700.8 L947.8 699.4 L945.6 697.1 L943.8 691.2 L943.3 693.9 L941.0 695.9 L939.0 696.0 L938.6 697.9 L936.1 695.7 L935.8 694.4 L933.4 696.5 L931.0 697.6 L930.7 702.5 L927.9 708.6 L927.0 708.8 L924.9 696.9 L924.6 692.8 L921.8 700.7 L921.4 697.6 L918.6 703.6 L916.6 707.2 L915.2 716.1 L913.4 723.2 L911.6 723.3 L908.6 705.6 L907.7 713.8 L903.8 708.8 L903.7 714.5 L899.4 726.6 L899.0 720.0 L897.4 742.4 L894.8 733.3 L894.2 729.6 L889.9 719.7 L888.6 710.4 L884.6 742.4 L884.5 742.4 L878.7 743.7 L872.4 745.1 L865.3 749.5 L825.4 742.4 L823.5 715.2 L821.4 742.4 L788.6 742.4 L767.5 687.2 L743.8 742.4 L734.2 742.4 Z" fill="#d9d1e8"/>
<path d="M735.9 358.8 L760.2 358.8 L767.9 408.1 L801.8 512.7 L814.1 525.0 L838.7 577.3 L869.5 605.0 L889.9 621.2 L894.8 625.3 L899.4 628.6 L900.2 629.6 L903.7 630.8 L907.7 631.2 L911.6 633.4 L915.2 633.1 L918.6 634.3 L921.8 635.7 L924.9 637.3 L927.9 637.8 L930.7 639.4 L933.4 640.4 L936.1 640.4 L938.6 641.1 L941.0 641.8 L943.3 643.3 L945.6 644.1 L946.4 645.0 L947.8 645.2 L949.9 644.6 L952.0 644.7 L953.9 645.7 L955.9 646.3 L957.8 645.8 L959.6 646.9 L961.4 646.5 L963.1 647.6 L964.8 648.0 L966.4 648.3 L968.0 648.0 L969.6 648.7 L971.1 649.0 L972.6 648.6 L974.1 649.6 L975.5 649.6 L976.9 649.2 L978.3 650.2 L979.7 650.0 L981.0 650.6 L982.3 650.2 L983.5 650.7 L984.8 650.8 L986.0 651.6 L987.2 651.7 L988.4 651.7 L989.6 652.2 L990.7 652.3 L991.8 652.0 L992.5 652.7 L992.9 652.1 L994.0 652.6 L995.1 652.9 L996.1 652.9 L997.1 652.7 L998.2 652.9 L999.2 653.1 L1000.2 653.0 L1001.1 653.3 L1002.1 652.9 L1003.0 653.0 L1004.0 652.8 L1004.9 652.9 L1005.8 653.6 L1006.7 653.6 L1007.6 653.6 L1008.4 653.8 L1009.3 653.8 L1010.2 653.4 L1011.0 654.0 L1011.8 654.0 L1012.6 653.6 L1013.4 653.4 L1014.2 653.4 L1015.0 654.1 L1015.8 654.3 L1016.6 653.9 L1017.3 653.8 L1018.1 654.3 L1018.8 654.3 L1019.6 654.5 L1020.3 654.3 L1021.0 654.5 L1021.7 654.3 L1022.4 654.6 L1023.1 654.3 L1023.8 654.7 L1024.5 654.8 L1025.2 654.2 L1025.9 654.6 L1026.5 655.0 L1027.2 654.3 L1027.8 654.7 L1028.5 654.8 L1029.1 655.1 L1029.8 655.1 L1030.4 655.2 L1031.0 654.5 L1031.6 655.4 L1032.2 654.9 L1032.8 655.1 L1033.4 655.1 L1034.0 655.5 L1034.6 655.4 L1035.2 655.6 L1035.8 655.6 L1036.3 655.7 L1036.9 655.5 L1037.5 655.5 L1038.0 655.5 L1038.6 655.8 L1039.1 655.8 L1039.7 655.5 L1040.2 655.8 L1040.7 655.0 L1041.3 655.7 L1041.8 656.1 L1042.3 656.1 L1042.8 655.2 L1043.4 655.5 L1043.9 655.3 L1044.4 656.1 L1044.9 656.3 L1045.4 655.9 L1045.9 656.1 L1046.4 656.3 L1046.9 656.1 L1047.3 656.2 L1047.8 656.2 L1048.3 656.2 L1048.8 656.4 L1049.2 656.5 L1049.7 656.5 L1050.2 656.3 L1050.6 656.7 L1051.0 656.7 L1051.1 656.7 L1051.5 656.7 L1052.0 656.5 L1052.4 656.5 L1052.9 656.6 L1053.3 655.9 L1053.8 656.2 L1054.2 656.7 L1054.7 656.5 L1055.1 656.6 L1055.5 656.4 L1055.5 665.0 L1055.1 665.0 L1054.7 665.0 L1054.2 665.2 L1053.8 665.0 L1053.3 665.6 L1052.9 665.9 L1052.4 665.6 L1052.0 665.6 L1051.5 665.0 L1051.1 665.0 L1051.0 665.0 L1050.6 665.0 L1050.2 665.1 L1049.7 665.3 L1049.2 665.2 L1048.8 665.1 L1048.3 665.5 L1047.8 665.0 L1047.3 665.1 L1046.9 664.9 L1046.4 665.5 L1045.9 665.2 L1045.4 664.9 L1044.9 665.3 L1044.4 664.9 L1043.9 664.9 L1043.4 665.6 L1042.8 664.9 L1042.3 664.9 L1041.8 664.9 L1041.3 664.9 L1040.7 665.1 L1040.2 664.9 L1039.7 665.0 L1039.1 664.8 L1038.6 665.3 L1038.0 665.4 L1037.5 664.8 L1036.9 665.2 L1036.3 665.1 L1035.8 665.4 L1035.2 665.3 L1034.6 664.9 L1034.0 664.9 L1033.4 665.6 L1032.8 664.7 L1032.2 665.6 L1031.6 665.5 L1031.0 665.6 L1030.4 665.3 L1029.8 664.7 L1029.1 665.4 L1028.5 664.7 L1027.8 665.0 L1027.2 664.7 L1026.5 665.1 L1025.9 664.6 L1025.2 664.7 L1024.5 664.7 L1023.8 664.8 L1023.1 664.9 L1022.4 664.8 L1021.7 664.6 L1021.0 665.3 L1020.3 664.6 L1019.6 665.1 L1018.8 665.1 L1018.1 664.5 L1017.3 664.5 L1016.6 665.3 L1015.8 665.0 L1015.0 664.5 L1014.2 664.6 L1013.4 664.6 L1012.6 665.3 L1011.8 664.6 L1011.0 664.9 L1010.2 664.8 L1009.3 664.4 L1008.4 664.4 L1007.6 664.7 L1006.7 664.4 L1005.8 664.6 L1004.9 664.3 L1004.0 664.6 L1003.0 665.0 L1002.1 664.3 L1001.1 665.1 L1000.2 664.5 L999.2 664.4 L998.2 664.4 L997.1 664.2 L996.1 664.2 L995.1 664.3 L994.0 664.6 L992.9 664.3 L991.8 664.2 L990.7 664.7 L989.6 664.3 L988.4 664.2 L987.2 664.3 L986.0 664.1 L984.8 664.3 L983.5 664.1 L982.3 664.4 L981.0 664.0 L979.7 664.2 L978.3 664.3 L976.9 664.6 L975.5 664.0 L974.1 664.1 L972.6 664.6 L971.1 664.9 L969.6 664.1 L968.0 664.8 L966.4 664.4 L964.8 663.8 L963.1 664.9 L961.4 664.6 L959.6 664.0 L957.8 663.6 L955.9 664.2 L953.9 663.6 L952.0 663.6 L949.9 664.3 L947.8 664.5 L946.4 663.5 L945.6 663.6 L943.3 664.3 L941.0 663.4 L938.6 663.1 L936.1 664.1 L933.4 662.9 L930.7 663.2 L927.9 663.9 L924.9 662.6 L921.8 662.7 L918.6 663.5 L915.2 662.0 L911.6 662.3 L907.7 661.8 L903.7 661.2 L900.2 661.0 L899.4 661.0 L894.8 660.8 L889.9 659.3 L869.5 654.2 L838.7 641.9 L823.3 626.5 L801.8 611.2 L767.9 537.3 L735.9 497.3 Z" fill="#b394c4"/>
<path d="M735.9 378.8 L739.3 387.8 L762.1 450.2 L785.8 512.4 L800.5 553.9 L832.5 595.8 L854.1 617.3 L875.6 632.1 L915.6 646.5 L961.8 654.2 L1007.9 658.8 L1051.0 661.0" fill="none" stroke="#8e5298" stroke-width="7.4" stroke-linejoin="round"/>
<line x1="735.90" y1="665.08" x2="1049.25" y2="665.08" stroke="#000" stroke-width="2.6" stroke-dasharray="8.1 3.8"/>
<line x1="742.4" y1="488.7" x2="790.4" y2="488.7" stroke="#000" stroke-width="2.7"/>
<line x1="766.4" y1="468.1" x2="766.4" y2="509.6" stroke="#000" stroke-width="2.7"/>
<circle cx="766.4" cy="488.7" r="6.2"/>
<line x1="790.4" y1="583.5" x2="841.8" y2="583.5" stroke="#000" stroke-width="2.7"/>
<line x1="816.5" y1="574.2" x2="816.5" y2="592.7" stroke="#000" stroke-width="2.7"/>
<circle cx="816.5" cy="583.5" r="6.2"/>
<line x1="841.8" y1="615.2" x2="892.5" y2="615.2" stroke="#000" stroke-width="2.7"/>
<line x1="867.3" y1="595.8" x2="867.3" y2="634.2" stroke="#000" stroke-width="2.7"/>
<circle cx="867.3" cy="615.2" r="6.2"/>
<line x1="892.5" y1="655.8" x2="1043.3" y2="655.8" stroke="#000" stroke-width="2.7"/>
<line x1="967.9" y1="649.6" x2="967.9" y2="664.1" stroke="#000" stroke-width="2.7"/>
<circle cx="967.9" cy="655.8" r="6.2"/>
</g>
<path d="M775.91 367.30 V375.80 M775.91 733.80 V725.30 M802.94 367.30 V375.80 M802.94 733.80 V725.30 M822.12 367.30 V375.80 M822.12 733.80 V725.30 M836.99 367.30 V375.80 M836.99 733.80 V725.30 M849.15 367.30 V375.80 M849.15 733.80 V725.30 M859.42 367.30 V375.80 M859.42 733.80 V725.30 M868.32 367.30 V375.80 M868.32 733.80 V725.30 M876.18 367.30 V375.80 M876.18 733.80 V725.30 M883.20 367.30 V382.80 M883.20 733.80 V718.30 M929.41 367.30 V375.80 M929.41 733.80 V725.30 M956.44 367.30 V375.80 M956.44 733.80 V725.30 M975.62 367.30 V375.80 M975.62 733.80 V725.30 M990.49 367.30 V375.80 M990.49 733.80 V725.30 M1002.65 367.30 V375.80 M1002.65 733.80 V725.30 M1012.92 367.30 V375.80 M1012.92 733.80 V725.30 M1021.82 367.30 V375.80 M1021.82 733.80 V725.30 M1029.68 367.30 V375.80 M1029.68 733.80 V725.30 M1036.70 367.30 V382.80 M1036.70 733.80 V718.30 M735.90 665.08 H751.40 M1049.25 665.08 H1033.75 M735.90 573.46 H751.40 M1049.25 573.46 H1033.75 M735.90 481.83 H751.40 M1049.25 481.83 H1033.75 M735.90 390.21 H751.40 M1049.25 390.21 H1033.75 M735.90 710.89 H744.40 M1049.25 710.89 H1040.75 M735.90 619.27 H744.40 M1049.25 619.27 H1040.75 M735.90 527.64 H744.40 M1049.25 527.64 H1040.75 M735.90 436.02 H744.40 M1049.25 436.02 H1040.75" stroke="#000" stroke-width="2.40" fill="none"/>
<rect x="735.90" y="367.30" width="313.35" height="366.50" fill="none" stroke="#000" stroke-width="2.50"/>
<text x="900.90" y="432.30" font-size="39">B</text>
<g clip-path="url(#c9)">
<path d="M1049.2 358.8 L1117.8 358.8 L1127.1 395.8 L1136.3 426.5 L1145.5 463.5 L1153.2 469.6 L1160.9 485.0 L1168.6 491.2 L1173.2 525.0 L1177.8 512.7 L1178.7 519.2 L1184.0 561.9 L1185.7 558.8 L1192.1 557.3 L1194.8 555.8 L1197.9 547.1 L1199.4 546.5 L1203.2 556.8 L1204.0 568.1 L1208.1 551.8 L1210.2 554.2 L1212.7 568.4 L1214.8 583.5 L1217.0 579.9 L1220.9 589.6 L1221.1 584.6 L1224.9 594.0 L1228.5 598.7 L1228.6 598.8 L1231.9 601.0 L1235.2 601.4 L1238.3 603.1 L1240.9 608.1 L1241.2 607.6 L1244.1 601.0 L1246.8 599.9 L1247.1 601.9 L1249.4 603.4 L1251.9 606.3 L1254.4 610.9 L1256.7 611.8 L1259.0 611.3 L1259.4 617.3 L1261.1 618.6 L1263.3 617.8 L1265.3 620.9 L1267.3 620.4 L1269.2 624.2 L1271.1 623.3 L1272.9 627.1 L1274.7 629.1 L1274.8 629.6 L1276.4 629.8 L1278.1 629.8 L1279.8 627.4 L1281.4 631.1 L1283.0 631.2 L1284.5 632.2 L1286.0 632.8 L1287.4 630.4 L1288.9 633.8 L1290.3 633.0 L1291.7 632.7 L1293.0 634.7 L1294.3 633.0 L1295.6 633.6 L1296.9 634.3 L1298.1 636.6 L1299.4 634.8 L1300.6 634.6 L1301.7 634.6 L1302.9 637.3 L1304.0 638.0 L1305.2 638.6 L1305.5 638.8 L1306.3 636.9 L1307.3 636.4 L1308.4 639.5 L1309.5 638.8 L1310.5 639.6 L1311.5 640.3 L1312.5 637.5 L1313.5 639.8 L1314.5 640.4 L1315.4 639.0 L1316.4 639.0 L1317.3 639.8 L1318.2 639.3 L1319.1 642.2 L1320.0 640.7 L1320.9 642.1 L1321.8 642.5 L1322.7 641.8 L1323.5 640.3 L1324.3 643.4 L1325.2 643.6 L1326.0 643.6 L1326.8 641.1 L1327.6 644.3 L1328.4 643.6 L1329.2 644.7 L1329.9 644.9 L1330.7 645.1 L1331.4 645.3 L1332.2 644.8 L1332.9 644.7 L1333.7 642.8 L1334.4 645.4 L1335.1 645.4 L1335.8 646.1 L1336.3 646.5 L1336.5 646.5 L1337.2 646.2 L1337.9 645.0 L1338.5 644.3 L1339.2 646.7 L1339.9 643.9 L1340.5 645.3 L1341.2 646.7 L1341.8 645.5 L1342.5 646.0 L1343.1 646.9 L1343.7 644.7 L1344.3 646.6 L1345.0 644.5 L1345.6 644.8 L1346.2 646.3 L1346.8 647.1 L1347.4 647.0 L1348.0 647.2 L1348.5 645.4 L1349.1 647.2 L1349.7 645.3 L1350.2 644.5 L1350.8 644.7 L1351.4 647.3 L1351.9 647.2 L1352.5 647.3 L1353.0 646.1 L1353.6 647.5 L1354.1 647.5 L1354.6 647.1 L1355.1 645.6 L1355.7 646.5 L1356.2 647.6 L1356.7 647.0 L1357.2 646.7 L1357.7 647.7 L1358.2 647.3 L1358.7 647.4 L1359.2 646.5 L1359.7 645.8 L1360.2 647.8 L1360.7 647.6 L1361.2 646.4 L1361.6 645.7 L1362.1 647.1 L1362.6 647.7 L1363.1 648.0 L1363.5 648.0 L1364.0 647.8 L1364.0 648.1 L1364.4 647.3 L1364.9 648.1 L1365.4 647.5 L1365.8 647.8 L1366.2 647.7 L1366.7 646.4 L1367.1 645.7 L1367.6 647.2 L1368.0 646.7 L1368.4 648.1 L1368.9 647.4 L1368.9 681.5 L1368.4 681.6 L1368.0 680.9 L1367.6 680.8 L1367.1 681.1 L1366.7 683.4 L1366.2 681.2 L1365.8 680.9 L1365.4 681.5 L1364.9 681.2 L1364.4 680.8 L1364.0 680.8 L1364.0 681.6 L1363.5 680.9 L1363.1 681.1 L1362.6 682.3 L1362.1 681.4 L1361.6 681.3 L1361.2 681.2 L1360.7 682.5 L1360.2 682.3 L1359.7 681.8 L1359.2 680.9 L1358.7 681.2 L1358.2 681.8 L1357.7 682.4 L1357.2 681.0 L1356.7 681.2 L1356.2 681.8 L1355.7 681.9 L1355.1 683.5 L1354.6 681.4 L1354.1 682.7 L1353.6 681.6 L1353.0 683.5 L1352.5 681.2 L1351.9 681.4 L1351.4 681.1 L1350.8 681.1 L1350.2 681.9 L1349.7 681.9 L1349.1 683.7 L1348.5 683.0 L1348.0 682.9 L1347.4 682.0 L1346.8 681.3 L1346.2 681.5 L1345.6 682.2 L1345.0 681.5 L1344.3 684.5 L1343.7 683.8 L1343.1 684.4 L1342.5 682.0 L1341.8 682.5 L1341.2 682.3 L1340.5 681.4 L1339.9 681.8 L1339.2 683.4 L1338.5 681.4 L1337.9 681.7 L1337.2 682.5 L1336.5 683.9 L1335.8 682.4 L1335.1 684.8 L1334.4 682.6 L1333.7 683.0 L1332.9 681.8 L1332.2 682.7 L1332.0 681.6 L1331.4 683.1 L1330.7 681.6 L1329.9 682.4 L1329.2 681.6 L1328.4 681.4 L1327.6 682.2 L1326.8 682.5 L1326.0 682.2 L1325.2 682.2 L1324.3 684.2 L1323.5 680.9 L1322.7 681.7 L1321.8 680.6 L1320.9 683.1 L1320.0 682.1 L1319.1 681.4 L1318.2 681.9 L1317.3 680.9 L1316.4 681.2 L1316.0 680.0 L1315.4 683.2 L1314.5 681.7 L1313.5 682.3 L1312.5 685.5 L1311.5 685.0 L1310.5 684.1 L1309.5 685.5 L1308.4 687.1 L1307.3 686.8 L1306.4 686.4 L1306.3 686.3 L1305.2 685.5 L1304.0 685.6 L1302.9 684.8 L1301.7 683.2 L1300.6 682.0 L1300.0 681.6 L1299.4 684.9 L1298.1 684.6 L1296.9 685.6 L1295.6 684.0 L1294.3 684.8 L1293.6 684.8 L1293.0 686.1 L1291.7 686.6 L1290.3 687.2 L1288.9 686.4 L1287.4 684.9 L1287.2 683.2 L1286.0 684.8 L1284.5 687.1 L1284.0 686.4 L1283.0 687.6 L1281.4 691.5 L1279.8 689.9 L1278.1 688.4 L1276.4 688.9 L1274.7 692.3 L1274.4 689.6 L1272.9 694.9 L1271.2 697.6 L1271.1 697.7 L1269.2 700.3 L1267.3 693.8 L1265.3 692.7 L1264.8 691.2 L1263.3 696.3 L1261.1 693.5 L1259.0 692.7 L1258.4 692.8 L1256.7 698.7 L1254.4 696.3 L1252.0 696.0 L1251.9 702.4 L1249.4 703.9 L1246.8 701.6 L1245.6 700.8 L1244.1 707.3 L1241.2 707.1 L1240.8 705.6 L1238.4 694.4 L1238.3 694.6 L1235.2 701.5 L1234.4 699.2 L1231.9 703.5 L1229.6 707.2 L1228.5 711.9 L1226.4 720.0 L1224.9 715.2 L1221.6 704.0 L1221.1 707.9 L1217.0 716.6 L1215.2 713.6 L1212.7 722.5 L1211.2 726.4 L1208.1 726.1 L1207.2 720.0 L1203.2 714.7 L1201.6 710.4 L1197.9 725.3 L1197.6 716.8 L1192.8 742.4 L1192.1 746.3 L1185.7 749.6 L1178.7 743.1 L1173.6 742.4 L1172.0 721.6 L1170.4 742.4 L1140.0 742.4 L1137.3 715.2 L1135.2 742.4 L1103.2 742.4 L1080.8 686.4 L1056.8 742.4 L1047.2 742.4 Z" fill="#d9d1e8"/>
<path d="M1049.2 358.8 L1073.2 358.8 L1080.9 411.2 L1114.8 512.7 L1127.1 525.0 L1151.7 577.3 L1182.5 601.9 L1203.2 618.0 L1208.1 622.2 L1212.7 625.3 L1213.2 626.5 L1217.0 626.1 L1221.1 628.6 L1224.9 629.9 L1228.5 631.8 L1231.9 632.6 L1235.2 635.2 L1238.3 636.4 L1241.2 637.0 L1244.1 638.9 L1246.8 639.3 L1249.4 640.9 L1251.9 641.4 L1254.4 641.8 L1256.7 643.2 L1259.0 644.3 L1259.4 645.0 L1261.1 645.3 L1263.3 645.6 L1265.3 645.3 L1267.3 646.1 L1269.2 646.4 L1271.1 646.1 L1272.9 647.2 L1274.7 647.4 L1276.4 647.6 L1278.1 647.6 L1279.8 647.4 L1281.4 648.7 L1283.0 648.3 L1284.5 649.2 L1286.0 648.8 L1287.4 649.3 L1288.9 649.9 L1290.3 649.2 L1291.7 650.3 L1293.0 650.1 L1294.3 650.5 L1295.6 651.0 L1296.9 650.4 L1298.1 651.1 L1299.4 651.5 L1300.6 651.3 L1301.7 651.6 L1302.9 651.9 L1304.0 652.4 L1305.2 652.1 L1305.5 652.7 L1306.3 652.0 L1307.3 652.7 L1308.4 652.8 L1309.5 652.3 L1310.5 652.7 L1311.5 652.3 L1312.5 652.6 L1313.5 652.3 L1314.5 653.0 L1315.4 653.4 L1316.4 653.4 L1317.3 652.7 L1318.2 652.6 L1319.1 653.6 L1320.0 653.6 L1320.9 653.5 L1321.8 653.2 L1322.7 653.3 L1323.5 653.0 L1324.3 653.6 L1325.2 654.0 L1326.0 654.1 L1326.8 653.6 L1327.6 653.5 L1328.4 654.3 L1329.2 654.2 L1329.9 654.2 L1330.7 654.2 L1331.4 654.5 L1332.2 654.5 L1332.9 654.1 L1333.7 653.9 L1334.4 654.7 L1335.1 653.9 L1335.8 654.1 L1336.5 654.5 L1337.2 654.7 L1337.9 654.7 L1338.5 654.3 L1339.2 654.7 L1339.9 655.0 L1340.5 655.1 L1341.2 654.3 L1341.8 655.1 L1342.5 655.0 L1343.1 655.2 L1343.7 655.2 L1344.3 654.8 L1345.0 655.2 L1345.6 655.4 L1346.2 655.2 L1346.8 654.7 L1347.4 655.6 L1348.0 654.7 L1348.5 654.7 L1349.1 655.7 L1349.7 655.6 L1350.2 655.0 L1350.8 655.6 L1351.4 655.1 L1351.9 655.9 L1352.5 655.9 L1353.0 655.9 L1353.6 655.2 L1354.1 656.0 L1354.6 655.9 L1355.1 656.0 L1355.7 656.0 L1356.2 655.9 L1356.7 655.6 L1357.2 655.5 L1357.7 656.3 L1358.2 656.1 L1358.7 656.1 L1359.2 656.2 L1359.7 656.4 L1360.2 656.4 L1360.7 656.2 L1361.2 655.9 L1361.6 655.7 L1362.1 656.3 L1362.6 656.6 L1363.1 656.6 L1363.5 656.5 L1364.0 656.7 L1364.0 656.7 L1364.4 656.1 L1364.9 656.0 L1365.4 656.7 L1365.8 656.6 L1366.2 656.4 L1366.7 656.5 L1367.1 655.8 L1367.6 656.4 L1368.0 656.7 L1368.4 655.8 L1368.9 656.7 L1368.9 665.1 L1368.4 665.4 L1368.0 665.6 L1367.6 665.6 L1367.1 665.1 L1366.7 665.5 L1366.2 665.0 L1365.8 665.6 L1365.4 665.5 L1364.9 665.0 L1364.4 665.0 L1364.0 665.0 L1364.0 665.2 L1363.5 665.2 L1363.1 665.2 L1362.6 665.1 L1362.1 665.3 L1361.6 665.7 L1361.2 665.0 L1360.7 665.4 L1360.2 665.0 L1359.7 665.4 L1359.2 665.0 L1358.7 665.3 L1358.2 665.1 L1357.7 665.5 L1357.2 665.1 L1356.7 665.1 L1356.2 665.3 L1355.7 665.3 L1355.1 664.9 L1354.6 664.9 L1354.1 665.8 L1353.6 664.9 L1353.0 664.9 L1352.5 664.8 L1351.9 664.9 L1351.4 664.9 L1350.8 665.7 L1350.2 664.8 L1349.7 665.8 L1349.1 664.8 L1348.5 665.4 L1348.0 664.9 L1347.4 665.2 L1346.8 664.8 L1346.2 665.2 L1345.6 664.8 L1345.0 665.1 L1344.3 664.9 L1343.7 665.3 L1343.1 664.7 L1342.5 665.5 L1341.8 664.7 L1341.2 665.2 L1340.5 664.8 L1339.9 665.2 L1339.2 664.6 L1338.5 664.7 L1337.9 664.8 L1337.2 664.9 L1336.5 664.6 L1335.8 665.4 L1335.1 664.6 L1334.4 664.9 L1333.7 664.6 L1332.9 664.8 L1332.2 664.8 L1331.4 665.0 L1330.7 664.7 L1329.9 664.8 L1329.2 665.4 L1328.4 665.5 L1327.6 665.2 L1326.8 664.5 L1326.0 664.5 L1325.2 664.5 L1324.3 664.5 L1323.5 665.2 L1322.7 664.5 L1321.8 664.4 L1320.9 664.8 L1320.0 664.9 L1319.1 664.4 L1318.2 664.5 L1317.3 665.0 L1316.4 664.3 L1315.4 665.3 L1314.5 665.2 L1313.5 665.0 L1312.5 665.2 L1311.5 665.1 L1310.5 664.2 L1309.5 664.8 L1308.4 664.4 L1307.3 664.2 L1306.3 664.9 L1305.2 665.0 L1304.0 664.5 L1302.9 664.2 L1301.7 664.2 L1300.6 664.3 L1299.4 664.1 L1298.1 664.0 L1296.9 664.1 L1295.6 664.4 L1294.3 664.1 L1293.0 664.2 L1291.7 664.8 L1290.3 664.6 L1288.9 663.9 L1287.4 664.1 L1286.0 664.0 L1284.5 663.8 L1283.0 664.3 L1281.4 664.0 L1279.8 664.3 L1278.1 664.9 L1276.4 663.8 L1274.7 663.8 L1272.9 663.7 L1271.1 664.0 L1269.2 664.2 L1267.3 663.6 L1265.3 663.6 L1263.3 664.4 L1261.1 663.5 L1259.4 663.5 L1259.0 664.2 L1256.7 663.6 L1254.4 663.3 L1251.9 663.6 L1249.4 663.2 L1246.8 663.1 L1244.1 663.1 L1241.2 664.0 L1238.3 662.8 L1235.2 662.9 L1231.9 664.3 L1228.5 662.6 L1224.9 662.9 L1221.1 663.5 L1217.0 663.4 L1213.2 661.9 L1212.7 662.0 L1208.1 661.2 L1203.2 660.9 L1182.5 657.3 L1151.7 641.9 L1136.3 632.7 L1114.8 608.1 L1080.9 537.3 L1049.2 497.3 Z" fill="#b394c4"/>
<path d="M1049.2 378.8 L1052.6 387.8 L1075.4 450.2 L1099.1 512.4 L1113.2 553.9 L1145.5 595.8 L1167.1 617.3 L1188.6 632.1 L1228.6 646.5 L1274.8 654.2 L1320.9 658.8 L1364.0 661.0" fill="none" stroke="#8e5298" stroke-width="7.4" stroke-linejoin="round"/>
<line x1="1049.25" y1="665.08" x2="1362.60" y2="665.08" stroke="#000" stroke-width="2.6" stroke-dasharray="8.1 3.8"/>
<line x1="1055.4" y1="576.1" x2="1104.0" y2="576.1" stroke="#000" stroke-width="2.7"/>
<line x1="1080.0" y1="535.8" x2="1080.0" y2="616.7" stroke="#000" stroke-width="2.7"/>
<circle cx="1080.0" cy="576.1" r="6.2"/>
<line x1="1104.6" y1="624.4" x2="1155.4" y2="624.4" stroke="#000" stroke-width="2.7"/>
<line x1="1130.2" y1="604.4" x2="1130.2" y2="645.0" stroke="#000" stroke-width="2.7"/>
<circle cx="1130.2" cy="624.4" r="6.2"/>
<line x1="1155.4" y1="632.1" x2="1205.5" y2="632.1" stroke="#000" stroke-width="2.7"/>
<line x1="1180.3" y1="555.2" x2="1180.3" y2="709.0" stroke="#000" stroke-width="2.7"/>
<circle cx="1180.3" cy="632.1" r="6.2"/>
<line x1="1205.5" y1="660.4" x2="1356.3" y2="660.4" stroke="#000" stroke-width="2.7"/>
<line x1="1281.5" y1="630.2" x2="1281.5" y2="690.5" stroke="#000" stroke-width="2.7"/>
<circle cx="1281.5" cy="660.4" r="6.2"/>
</g>
<path d="M1089.26 367.30 V375.80 M1089.26 733.80 V725.30 M1116.29 367.30 V375.80 M1116.29 733.80 V725.30 M1135.47 367.30 V375.80 M1135.47 733.80 V725.30 M1150.34 367.30 V375.80 M1150.34 733.80 V725.30 M1162.50 367.30 V375.80 M1162.50 733.80 V725.30 M1172.77 367.30 V375.80 M1172.77 733.80 V725.30 M1181.67 367.30 V375.80 M1181.67 733.80 V725.30 M1189.53 367.30 V375.80 M1189.53 733.80 V725.30 M1196.55 367.30 V382.80 M1196.55 733.80 V718.30 M1242.76 367.30 V375.80 M1242.76 733.80 V725.30 M1269.79 367.30 V375.80 M1269.79 733.80 V725.30 M1288.97 367.30 V375.80 M1288.97 733.80 V725.30 M1303.84 367.30 V375.80 M1303.84 733.80 V725.30 M1316.00 367.30 V375.80 M1316.00 733.80 V725.30 M1326.27 367.30 V375.80 M1326.27 733.80 V725.30 M1335.17 367.30 V375.80 M1335.17 733.80 V725.30 M1343.03 367.30 V375.80 M1343.03 733.80 V725.30 M1350.05 367.30 V382.80 M1350.05 733.80 V718.30 M1049.25 665.08 H1064.75 M1362.60 665.08 H1347.10 M1049.25 573.46 H1064.75 M1362.60 573.46 H1347.10 M1049.25 481.83 H1064.75 M1362.60 481.83 H1347.10 M1049.25 390.21 H1064.75 M1362.60 390.21 H1347.10 M1049.25 710.89 H1057.75 M1362.60 710.89 H1354.10 M1049.25 619.27 H1057.75 M1362.60 619.27 H1354.10 M1049.25 527.64 H1057.75 M1362.60 527.64 H1354.10 M1049.25 436.02 H1057.75 M1362.60 436.02 H1354.10" stroke="#000" stroke-width="2.40" fill="none"/>
<rect x="1049.25" y="367.30" width="313.35" height="366.50" fill="none" stroke="#000" stroke-width="2.50"/>
<text x="1214.25" y="432.30" font-size="39">B<tspan font-size="28" dy="7.5">swift</tspan></text>
<g clip-path="url(#c10)">
<path d="M1362.5 358.8 L1430.8 358.8 L1440.1 395.8 L1449.3 426.5 L1460.1 460.4 L1467.8 461.9 L1473.9 478.8 L1481.6 488.1 L1486.2 521.9 L1490.8 505.0 L1492.0 510.2 L1497.0 552.7 L1499.1 547.9 L1505.4 559.4 L1507.8 561.9 L1511.2 550.4 L1512.4 546.5 L1516.6 564.3 L1517.0 568.1 L1521.5 554.3 L1523.2 549.6 L1526.1 567.5 L1527.8 580.4 L1530.4 578.2 L1533.9 586.5 L1534.4 586.7 L1538.3 584.8 L1541.6 594.2 L1541.9 592.1 L1545.3 594.5 L1548.5 591.3 L1551.6 598.2 L1553.9 601.9 L1554.6 601.6 L1557.4 599.4 L1560.1 600.4 L1560.1 595.9 L1562.8 601.8 L1565.3 604.9 L1567.7 605.3 L1570.0 607.2 L1572.3 610.6 L1572.4 611.2 L1574.5 609.8 L1576.6 614.4 L1578.7 614.7 L1580.6 612.8 L1582.6 613.3 L1584.5 617.1 L1586.3 616.7 L1587.8 623.5 L1588.1 620.8 L1589.8 624.1 L1591.5 624.0 L1593.1 623.2 L1594.7 626.2 L1596.3 623.5 L1597.8 623.6 L1599.3 628.1 L1600.8 627.3 L1602.2 627.6 L1603.6 628.3 L1605.0 630.3 L1606.4 627.5 L1607.7 631.2 L1609.0 631.9 L1610.2 630.5 L1611.5 631.6 L1612.7 633.2 L1613.9 632.8 L1615.1 634.2 L1616.3 634.8 L1617.4 631.6 L1618.5 635.7 L1618.5 635.8 L1619.6 635.1 L1620.7 632.6 L1621.8 636.6 L1622.8 636.7 L1623.8 635.6 L1624.9 635.3 L1625.9 634.8 L1626.9 634.9 L1627.8 638.1 L1628.8 638.3 L1629.7 637.1 L1630.7 638.8 L1631.6 636.2 L1632.5 635.7 L1633.4 636.9 L1634.3 636.7 L1635.1 639.9 L1636.0 636.9 L1636.9 639.5 L1637.7 639.8 L1638.5 637.7 L1639.3 641.0 L1640.1 639.2 L1640.9 641.3 L1641.7 641.6 L1642.5 640.1 L1643.3 641.9 L1644.0 638.8 L1644.8 641.3 L1645.5 641.1 L1646.3 642.7 L1647.0 642.2 L1647.7 643.1 L1648.4 643.0 L1649.1 643.3 L1649.3 643.5 L1649.8 642.1 L1650.5 641.4 L1651.2 640.6 L1651.9 643.4 L1652.6 642.8 L1653.2 643.6 L1653.9 643.1 L1654.5 644.0 L1655.2 643.4 L1655.8 642.8 L1656.5 642.9 L1657.1 643.7 L1657.7 644.3 L1658.3 644.3 L1658.9 643.7 L1659.5 641.8 L1660.1 644.6 L1660.7 643.5 L1661.3 644.6 L1661.9 642.6 L1662.5 644.8 L1663.0 641.9 L1663.6 644.9 L1664.2 643.4 L1664.7 644.3 L1665.3 644.7 L1665.8 642.6 L1666.4 644.2 L1666.9 644.4 L1667.4 644.1 L1668.0 645.1 L1668.5 645.5 L1669.0 643.0 L1669.5 644.0 L1670.1 645.0 L1670.6 645.8 L1671.1 643.5 L1671.6 645.5 L1672.1 644.3 L1672.6 646.0 L1673.1 645.1 L1673.6 643.9 L1674.0 646.2 L1674.5 646.3 L1675.0 643.8 L1675.5 644.3 L1675.9 646.0 L1676.4 646.4 L1676.9 645.8 L1677.0 646.5 L1677.3 646.0 L1677.8 646.5 L1678.2 646.2 L1678.7 645.7 L1679.1 646.3 L1679.6 643.9 L1680.0 646.0 L1680.5 645.0 L1680.9 646.4 L1681.4 645.7 L1681.8 646.3 L1682.2 646.5 L1682.2 680.5 L1681.8 680.3 L1681.4 682.0 L1680.9 680.4 L1680.5 681.6 L1680.0 682.0 L1679.6 680.0 L1679.1 680.0 L1678.7 681.0 L1678.2 680.3 L1677.8 680.2 L1677.3 683.1 L1677.0 680.0 L1676.9 682.0 L1676.4 680.8 L1675.9 681.5 L1675.5 681.1 L1675.0 680.3 L1674.5 680.3 L1674.0 681.1 L1673.6 680.9 L1673.1 680.6 L1672.6 680.9 L1672.1 680.6 L1671.6 683.4 L1671.1 680.6 L1670.6 680.7 L1670.1 682.2 L1669.5 683.8 L1669.0 680.8 L1668.5 680.9 L1668.0 681.9 L1667.4 682.0 L1666.9 682.0 L1666.4 683.8 L1665.8 681.9 L1665.3 681.4 L1664.7 681.8 L1664.2 681.3 L1663.6 683.1 L1663.0 681.4 L1662.5 681.6 L1661.9 683.0 L1661.3 682.5 L1661.0 681.6 L1660.7 681.8 L1660.1 681.6 L1659.5 681.7 L1658.9 683.0 L1658.3 682.7 L1657.7 682.7 L1657.1 682.5 L1656.5 682.5 L1655.8 681.9 L1655.2 682.1 L1654.5 682.6 L1653.9 682.0 L1653.2 682.0 L1652.6 682.7 L1651.9 684.6 L1651.2 684.0 L1650.5 684.0 L1649.8 683.0 L1649.1 684.7 L1648.4 682.2 L1647.7 684.7 L1647.0 682.6 L1646.3 685.5 L1645.5 685.1 L1645.0 682.4 L1644.8 682.7 L1644.0 682.5 L1643.3 682.3 L1642.5 683.9 L1641.7 685.6 L1640.9 683.3 L1640.1 682.2 L1639.3 683.2 L1638.5 682.3 L1637.7 682.3 L1636.9 685.6 L1636.0 684.5 L1635.1 682.6 L1634.3 681.9 L1633.4 685.1 L1632.5 682.1 L1631.6 681.7 L1630.7 682.0 L1629.7 684.3 L1629.0 681.6 L1628.8 682.3 L1627.8 681.9 L1626.9 685.2 L1625.9 685.4 L1624.9 682.5 L1623.8 683.6 L1622.8 682.4 L1621.8 682.4 L1620.7 686.1 L1619.6 682.9 L1618.5 685.9 L1617.4 683.4 L1616.3 685.4 L1615.1 686.7 L1613.9 684.5 L1613.0 683.2 L1612.7 683.6 L1611.5 687.9 L1610.2 684.3 L1609.0 684.8 L1607.7 685.3 L1606.4 685.9 L1605.0 689.6 L1605.0 686.4 L1603.6 687.6 L1602.2 685.9 L1600.8 686.3 L1599.3 688.3 L1597.8 684.0 L1597.0 683.2 L1596.3 684.0 L1594.7 688.7 L1593.8 686.4 L1593.1 687.0 L1591.5 693.0 L1589.8 689.4 L1588.1 690.8 L1587.4 691.2 L1586.3 695.2 L1584.5 707.1 L1584.2 702.4 L1582.6 703.9 L1580.6 697.9 L1578.7 694.3 L1577.8 692.8 L1576.6 693.4 L1574.5 698.7 L1572.3 696.8 L1571.4 694.4 L1570.0 695.0 L1567.7 698.1 L1565.3 695.9 L1565.0 696.0 L1562.8 702.3 L1560.2 708.8 L1560.1 713.2 L1558.6 699.2 L1557.4 704.1 L1554.6 712.8 L1553.8 712.0 L1551.6 699.2 L1551.4 696.0 L1549.0 699.2 L1548.5 701.2 L1545.3 708.4 L1543.4 708.8 L1541.9 720.8 L1541.0 726.4 L1538.3 722.0 L1535.4 707.2 L1534.4 708.6 L1530.4 719.9 L1529.8 713.6 L1526.1 723.7 L1524.2 728.0 L1521.5 731.6 L1516.6 715.9 L1515.4 712.0 L1511.2 741.2 L1510.6 742.4 L1505.4 742.9 L1499.1 744.5 L1492.0 742.6 L1451.4 742.4 L1450.3 718.4 L1449.0 742.4 L1414.6 742.4 L1394.6 684.8 L1371.4 742.4 L1360.2 742.4 Z" fill="#d9d1e8"/>
<path d="M1362.5 358.8 L1389.3 358.8 L1393.9 395.8 L1427.8 503.5 L1440.1 518.8 L1464.7 574.2 L1495.5 601.9 L1516.6 617.9 L1521.5 622.1 L1526.1 625.4 L1526.2 626.5 L1530.4 627.8 L1534.4 629.0 L1538.3 630.9 L1541.9 631.9 L1545.3 633.2 L1548.5 633.9 L1551.6 635.6 L1554.6 636.7 L1557.4 636.9 L1560.1 638.9 L1562.8 639.6 L1565.3 640.8 L1567.7 641.2 L1570.0 641.6 L1572.3 643.4 L1572.4 643.5 L1574.5 643.0 L1576.6 644.2 L1578.7 644.0 L1580.6 644.1 L1582.6 645.1 L1584.5 644.8 L1586.3 645.3 L1588.1 646.0 L1589.8 646.0 L1591.5 646.2 L1593.1 645.8 L1594.7 647.1 L1596.3 647.4 L1597.8 647.1 L1599.3 647.8 L1600.8 647.0 L1602.2 648.4 L1603.6 648.2 L1605.0 647.8 L1606.4 648.9 L1607.7 648.6 L1609.0 649.2 L1610.2 648.7 L1611.5 649.9 L1612.7 649.9 L1613.9 650.1 L1615.1 650.3 L1616.3 650.3 L1617.4 650.9 L1618.5 651.1 L1618.5 651.2 L1619.6 651.2 L1620.7 650.5 L1621.8 651.4 L1622.8 651.2 L1623.8 651.6 L1624.9 651.6 L1625.9 651.3 L1626.9 651.2 L1627.8 651.8 L1628.8 651.6 L1629.7 651.8 L1630.7 651.8 L1631.6 652.0 L1632.5 652.1 L1633.4 652.1 L1634.3 652.4 L1635.1 651.5 L1636.0 652.4 L1636.9 652.6 L1637.7 652.6 L1638.5 651.8 L1639.3 652.1 L1640.1 652.1 L1640.9 652.9 L1641.7 652.0 L1642.5 653.0 L1643.3 652.8 L1644.0 652.4 L1644.8 653.1 L1645.5 653.2 L1646.3 653.3 L1647.0 653.3 L1647.7 652.6 L1648.4 652.9 L1649.1 653.5 L1649.8 653.5 L1650.5 653.0 L1651.2 653.7 L1651.9 653.0 L1652.6 653.8 L1653.2 653.7 L1653.9 653.9 L1654.5 654.0 L1655.2 653.3 L1655.8 653.4 L1656.5 654.1 L1657.1 653.4 L1657.7 654.1 L1658.3 653.9 L1658.9 654.1 L1659.5 654.1 L1660.1 654.4 L1660.7 654.5 L1661.3 653.8 L1661.9 654.1 L1662.5 654.5 L1663.0 654.5 L1663.6 654.2 L1664.2 654.7 L1664.7 654.1 L1665.3 654.8 L1665.8 654.8 L1666.4 654.8 L1666.9 655.0 L1667.4 654.4 L1668.0 655.1 L1668.5 654.6 L1669.0 655.1 L1669.5 655.1 L1670.1 654.9 L1670.6 654.8 L1671.1 655.0 L1671.6 655.0 L1672.1 654.7 L1672.6 655.1 L1673.1 655.0 L1673.6 655.4 L1674.0 655.5 L1674.5 655.3 L1675.0 655.5 L1675.5 655.3 L1675.9 655.5 L1676.4 655.2 L1676.9 655.2 L1677.0 655.8 L1677.3 655.5 L1677.8 655.6 L1678.2 655.7 L1678.7 655.8 L1679.1 655.0 L1679.6 655.8 L1680.0 655.2 L1680.5 655.6 L1680.9 655.7 L1681.4 655.6 L1681.8 655.6 L1682.2 655.2 L1682.2 665.9 L1681.8 665.6 L1681.4 665.4 L1680.9 665.0 L1680.5 665.3 L1680.0 665.9 L1679.6 665.1 L1679.1 665.0 L1678.7 665.5 L1678.2 665.7 L1677.8 665.0 L1677.3 665.7 L1677.0 665.0 L1676.9 665.6 L1676.4 665.3 L1675.9 665.1 L1675.5 665.8 L1675.0 665.3 L1674.5 665.0 L1674.0 665.2 L1673.6 665.9 L1673.1 665.3 L1672.6 665.5 L1672.1 665.1 L1671.6 665.6 L1671.1 664.9 L1670.6 665.0 L1670.1 664.9 L1669.5 665.2 L1669.0 665.2 L1668.5 665.5 L1668.0 665.2 L1667.4 665.1 L1666.9 664.9 L1666.4 665.5 L1665.8 664.8 L1665.3 664.9 L1664.7 665.4 L1664.2 665.6 L1663.6 665.2 L1663.0 665.3 L1662.5 665.4 L1661.9 665.1 L1661.3 665.7 L1660.7 664.8 L1660.1 665.5 L1659.5 665.2 L1658.9 664.7 L1658.3 664.7 L1657.7 664.8 L1657.1 664.7 L1656.5 664.7 L1655.8 664.7 L1655.2 664.7 L1654.5 665.3 L1653.9 665.5 L1653.2 664.9 L1652.6 664.7 L1651.9 664.8 L1651.2 664.8 L1650.5 665.1 L1649.8 664.9 L1649.1 665.1 L1648.4 664.6 L1647.7 664.8 L1647.0 665.4 L1646.3 665.4 L1645.5 664.6 L1644.8 665.2 L1644.0 664.5 L1643.3 665.2 L1642.5 665.5 L1641.7 665.3 L1640.9 665.4 L1640.1 665.3 L1639.3 665.3 L1638.5 665.4 L1637.7 664.5 L1636.9 664.7 L1636.0 664.4 L1635.1 664.4 L1634.3 664.4 L1633.4 665.1 L1632.5 665.3 L1631.6 664.4 L1630.7 664.6 L1629.7 664.5 L1628.8 664.7 L1627.8 664.6 L1626.9 665.0 L1625.9 664.6 L1624.9 664.3 L1623.8 664.4 L1622.8 664.9 L1621.8 664.3 L1620.7 664.8 L1619.6 665.1 L1618.5 664.9 L1617.4 664.4 L1616.3 664.8 L1615.1 664.5 L1613.9 664.2 L1612.7 665.0 L1611.5 664.2 L1610.2 664.3 L1609.0 664.1 L1607.7 664.1 L1606.4 665.1 L1605.0 664.8 L1603.6 664.3 L1602.2 663.9 L1600.8 664.0 L1599.3 664.2 L1597.8 664.0 L1596.3 663.8 L1594.7 663.9 L1593.1 663.9 L1591.5 663.7 L1589.8 663.7 L1588.1 663.7 L1586.3 663.7 L1584.5 664.5 L1582.6 663.7 L1580.6 664.8 L1578.7 664.3 L1576.6 664.2 L1574.5 664.2 L1572.4 663.5 L1572.3 664.0 L1570.0 664.0 L1567.7 663.4 L1565.3 663.3 L1562.8 664.3 L1560.1 662.9 L1557.4 663.7 L1554.6 662.8 L1551.6 662.4 L1548.5 662.4 L1545.3 662.3 L1541.9 663.5 L1538.3 662.8 L1534.4 662.3 L1530.4 662.0 L1526.2 661.0 L1526.1 661.5 L1521.5 661.8 L1516.6 660.6 L1495.5 655.8 L1464.7 638.8 L1449.3 623.5 L1427.8 608.1 L1393.9 537.3 L1362.5 488.1 Z" fill="#b394c4"/>
<path d="M1362.5 360.4 L1370.2 387.8 L1393.3 450.2 L1416.1 512.4 L1429.6 553.9 L1461.6 595.8 L1483.2 617.3 L1501.6 630.2 L1541.6 645.0 L1587.8 652.7 L1633.9 657.3 L1677.0 660.4" fill="none" stroke="#8e5298" stroke-width="7.4" stroke-linejoin="round"/>
<line x1="1362.60" y1="665.08" x2="1675.95" y2="665.08" stroke="#000" stroke-width="2.6" stroke-dasharray="8.1 3.8"/>
<line x1="1368.7" y1="505.9" x2="1417.6" y2="505.9" stroke="#000" stroke-width="2.7"/>
<line x1="1393.3" y1="479.5" x2="1393.3" y2="531.2" stroke="#000" stroke-width="2.7"/>
<circle cx="1393.3" cy="505.9" r="6.2"/>
<line x1="1417.6" y1="585.6" x2="1468.4" y2="585.6" stroke="#000" stroke-width="2.7"/>
<line x1="1443.8" y1="570.2" x2="1443.8" y2="601.3" stroke="#000" stroke-width="2.7"/>
<circle cx="1443.8" cy="585.6" r="6.2"/>
<line x1="1468.4" y1="591.2" x2="1519.2" y2="591.2" stroke="#000" stroke-width="2.7"/>
<line x1="1493.9" y1="577.3" x2="1493.9" y2="605.6" stroke="#000" stroke-width="2.7"/>
<circle cx="1493.9" cy="591.2" r="6.2"/>
<line x1="1519.2" y1="633.3" x2="1569.3" y2="633.3" stroke="#000" stroke-width="2.7"/>
<line x1="1544.7" y1="616.7" x2="1544.7" y2="649.6" stroke="#000" stroke-width="2.7"/>
<circle cx="1544.7" cy="633.3" r="6.2"/>
<line x1="1569.3" y1="664.1" x2="1669.3" y2="664.1" stroke="#000" stroke-width="2.7"/>
<line x1="1620.1" y1="652.7" x2="1620.1" y2="676.4" stroke="#000" stroke-width="2.7"/>
<circle cx="1620.1" cy="664.1" r="6.2"/>
</g>
<path d="M1402.61 367.30 V375.80 M1402.61 733.80 V725.30 M1429.64 367.30 V375.80 M1429.64 733.80 V725.30 M1448.82 367.30 V375.80 M1448.82 733.80 V725.30 M1463.69 367.30 V375.80 M1463.69 733.80 V725.30 M1475.85 367.30 V375.80 M1475.85 733.80 V725.30 M1486.12 367.30 V375.80 M1486.12 733.80 V725.30 M1495.02 367.30 V375.80 M1495.02 733.80 V725.30 M1502.88 367.30 V375.80 M1502.88 733.80 V725.30 M1509.90 367.30 V382.80 M1509.90 733.80 V718.30 M1556.11 367.30 V375.80 M1556.11 733.80 V725.30 M1583.14 367.30 V375.80 M1583.14 733.80 V725.30 M1602.32 367.30 V375.80 M1602.32 733.80 V725.30 M1617.19 367.30 V375.80 M1617.19 733.80 V725.30 M1629.35 367.30 V375.80 M1629.35 733.80 V725.30 M1639.62 367.30 V375.80 M1639.62 733.80 V725.30 M1648.52 367.30 V375.80 M1648.52 733.80 V725.30 M1656.38 367.30 V375.80 M1656.38 733.80 V725.30 M1663.40 367.30 V382.80 M1663.40 733.80 V718.30 M1362.60 665.08 H1378.10 M1675.95 665.08 H1660.45 M1362.60 573.46 H1378.10 M1675.95 573.46 H1660.45 M1362.60 481.83 H1378.10 M1675.95 481.83 H1660.45 M1362.60 390.21 H1378.10 M1675.95 390.21 H1660.45 M1362.60 710.89 H1371.10 M1675.95 710.89 H1667.45 M1362.60 619.27 H1371.10 M1675.95 619.27 H1667.45 M1362.60 527.64 H1371.10 M1675.95 527.64 H1667.45 M1362.60 436.02 H1371.10 M1675.95 436.02 H1667.45" stroke="#000" stroke-width="2.40" fill="none"/>
<rect x="1362.60" y="367.30" width="313.35" height="366.50" fill="none" stroke="#000" stroke-width="2.50"/>
<text x="1527.60" y="432.30" font-size="39">g</text>
<g clip-path="url(#c11)">
<path d="M1675.8 358.8 L1759.2 358.8 L1762.3 380.4 L1774.6 435.8 L1782.3 441.9 L1786.9 457.3 L1794.6 471.2 L1799.2 509.6 L1803.8 503.5 L1805.4 512.3 L1810.0 543.5 L1812.4 544.8 L1818.8 548.2 L1820.8 549.6 L1824.6 538.4 L1826.9 534.2 L1829.9 542.6 L1831.5 555.8 L1834.8 549.6 L1836.2 549.6 L1839.4 564.9 L1840.8 574.2 L1843.7 576.9 L1846.9 580.4 L1847.8 579.1 L1851.6 583.3 L1854.6 586.5 L1855.2 581.3 L1858.6 588.3 L1861.9 589.0 L1865.0 594.2 L1866.9 595.8 L1867.9 594.6 L1870.8 591.3 L1873.1 591.2 L1873.5 588.9 L1876.1 593.6 L1878.6 598.8 L1881.1 597.2 L1883.4 600.7 L1885.4 608.1 L1885.7 606.3 L1887.8 606.4 L1890.0 609.2 L1892.0 612.3 L1894.0 610.7 L1895.9 615.0 L1897.8 611.0 L1899.6 617.3 L1901.4 614.6 L1903.1 614.9 L1903.8 620.4 L1904.8 620.8 L1906.5 619.3 L1908.1 622.7 L1909.7 622.8 L1911.2 624.1 L1912.7 625.1 L1914.1 624.8 L1915.6 623.2 L1917.0 626.6 L1918.4 628.4 L1919.7 629.1 L1921.0 629.8 L1922.3 630.6 L1923.6 631.3 L1924.8 631.9 L1926.1 631.5 L1927.3 633.1 L1928.4 633.9 L1929.6 631.3 L1930.7 635.3 L1931.5 635.8 L1931.9 635.0 L1933.0 636.1 L1934.0 636.2 L1935.1 636.3 L1936.2 636.9 L1937.2 636.2 L1938.2 636.7 L1939.2 637.3 L1940.2 637.5 L1941.2 637.7 L1942.1 637.6 L1943.1 636.4 L1944.0 638.8 L1944.9 635.5 L1945.8 637.1 L1946.7 638.1 L1947.6 639.8 L1948.5 639.9 L1949.4 640.1 L1950.2 640.4 L1951.0 637.0 L1951.9 639.7 L1952.7 640.4 L1953.5 640.2 L1954.3 639.2 L1955.1 641.5 L1955.9 641.5 L1956.6 641.7 L1957.4 641.5 L1958.1 642.4 L1958.9 641.9 L1959.6 640.3 L1960.4 640.9 L1961.1 642.3 L1961.8 643.2 L1962.3 643.5 L1962.5 643.4 L1963.2 640.8 L1963.9 643.3 L1964.6 640.4 L1965.2 643.6 L1965.9 643.4 L1966.6 640.8 L1967.2 643.7 L1967.9 644.0 L1968.5 642.8 L1969.2 643.7 L1969.8 643.1 L1970.4 644.0 L1971.0 644.4 L1971.7 642.3 L1972.3 642.8 L1972.9 644.3 L1973.5 643.2 L1974.1 644.8 L1974.7 643.6 L1975.2 644.0 L1975.8 644.4 L1976.4 642.1 L1976.9 641.7 L1977.5 643.4 L1978.1 645.1 L1978.6 645.1 L1979.2 643.5 L1979.7 644.9 L1980.3 644.2 L1980.8 645.2 L1981.3 643.3 L1981.8 645.4 L1982.4 645.6 L1982.9 644.5 L1983.4 643.5 L1983.9 644.0 L1984.4 645.9 L1984.9 644.0 L1985.4 643.4 L1985.9 644.1 L1986.4 645.3 L1986.9 645.2 L1987.4 643.9 L1987.9 645.0 L1988.3 645.2 L1988.8 645.9 L1989.3 646.5 L1989.8 646.3 L1990.0 646.5 L1990.2 644.3 L1990.7 645.1 L1991.1 644.0 L1991.6 646.1 L1992.1 645.9 L1992.5 644.1 L1992.9 646.1 L1993.4 645.7 L1993.8 644.7 L1994.3 644.0 L1994.7 646.5 L1995.1 646.5 L1995.6 646.1 L1995.6 683.9 L1995.1 681.7 L1994.7 682.1 L1994.3 684.3 L1993.8 682.2 L1993.4 682.2 L1992.9 682.4 L1992.5 681.6 L1992.1 684.8 L1991.6 683.7 L1991.1 681.9 L1990.7 682.6 L1990.2 681.7 L1990.0 681.6 L1989.8 683.4 L1989.3 683.7 L1988.8 682.2 L1988.3 684.3 L1987.9 681.9 L1987.4 682.1 L1986.9 682.3 L1986.4 684.0 L1985.9 682.2 L1985.4 682.1 L1984.9 683.1 L1984.4 683.7 L1983.9 684.8 L1983.4 682.7 L1982.9 684.0 L1982.4 684.5 L1981.8 685.0 L1981.3 682.9 L1980.8 682.7 L1980.3 682.6 L1979.7 682.6 L1979.2 684.0 L1978.6 684.1 L1978.1 684.1 L1977.5 683.3 L1976.9 684.5 L1976.4 683.4 L1975.8 685.5 L1975.2 686.3 L1974.7 684.6 L1974.1 684.6 L1974.0 683.2 L1973.5 683.3 L1972.9 683.5 L1972.3 684.6 L1971.7 683.2 L1971.0 684.0 L1970.4 683.9 L1969.8 684.3 L1969.2 683.2 L1968.5 682.7 L1967.9 684.7 L1967.2 683.6 L1966.6 684.3 L1965.9 683.8 L1965.2 682.4 L1964.6 685.4 L1963.9 682.8 L1963.2 682.7 L1962.5 685.5 L1961.8 682.0 L1961.1 682.1 L1960.4 682.0 L1959.6 682.0 L1958.9 682.8 L1958.1 681.6 L1958.0 681.6 L1957.4 683.9 L1956.6 681.8 L1955.9 682.5 L1955.1 685.5 L1954.3 683.7 L1953.5 685.4 L1952.7 682.6 L1951.9 683.4 L1951.0 685.7 L1950.2 682.7 L1949.4 685.1 L1948.5 682.6 L1947.6 684.2 L1946.7 683.4 L1945.8 684.7 L1944.9 685.6 L1944.0 685.1 L1943.1 684.2 L1942.1 683.4 L1942.0 683.2 L1941.2 684.9 L1940.2 684.2 L1939.2 686.8 L1938.2 684.5 L1937.2 684.2 L1936.2 684.6 L1935.1 685.8 L1934.0 688.4 L1934.0 684.8 L1933.0 685.3 L1931.9 689.0 L1930.7 686.1 L1929.6 688.4 L1928.4 686.9 L1927.3 688.4 L1926.1 688.5 L1926.0 686.4 L1924.8 686.5 L1923.6 690.0 L1922.3 689.1 L1921.0 686.4 L1919.7 686.7 L1919.6 686.4 L1918.4 689.6 L1917.0 692.9 L1916.4 692.8 L1915.6 694.5 L1914.1 694.3 L1912.7 689.9 L1911.2 687.2 L1910.0 684.8 L1909.7 685.1 L1908.1 686.2 L1906.5 690.3 L1905.2 688.0 L1904.8 690.0 L1903.1 691.2 L1901.4 695.3 L1900.4 691.2 L1899.6 696.8 L1897.8 699.3 L1897.2 700.8 L1895.9 703.8 L1894.0 699.1 L1892.4 694.4 L1892.0 697.1 L1890.0 709.9 L1889.2 712.0 L1887.8 712.8 L1886.0 700.8 L1885.7 705.2 L1883.4 699.3 L1881.2 697.6 L1881.1 700.3 L1878.6 703.1 L1876.1 703.3 L1874.8 704.0 L1873.5 717.1 L1873.2 720.0 L1870.8 719.9 L1868.4 713.6 L1867.9 718.6 L1865.0 706.6 L1864.4 697.6 L1862.0 700.8 L1861.9 702.0 L1858.6 710.9 L1855.6 720.0 L1855.2 720.4 L1852.4 723.2 L1851.6 722.0 L1847.8 714.4 L1847.6 713.6 L1844.4 715.2 L1843.7 721.5 L1841.2 742.4 L1839.4 743.6 L1834.8 742.4 L1833.2 742.4 L1830.0 720.0 L1829.9 721.7 L1827.6 742.4 L1824.6 743.3 L1818.8 743.0 L1812.4 749.8 L1805.4 744.8 L1726.0 742.4 L1707.6 685.6 L1685.2 742.4 L1673.2 742.4 Z" fill="#d9d1e8"/>
<path d="M1675.8 358.8 L1708.5 358.8 L1716.2 395.8 L1742.3 488.1 L1753.1 503.5 L1780.8 565.0 L1808.5 589.6 L1829.9 610.9 L1834.8 615.1 L1839.2 620.4 L1839.4 619.8 L1843.7 620.1 L1847.8 621.2 L1851.6 623.7 L1855.2 625.7 L1858.6 626.5 L1861.9 626.7 L1865.0 628.8 L1867.9 628.4 L1870.8 630.0 L1873.5 631.7 L1876.1 631.2 L1878.6 633.4 L1881.1 634.3 L1883.4 633.5 L1885.4 635.8 L1885.7 634.9 L1887.8 635.8 L1890.0 636.7 L1892.0 636.5 L1894.0 637.5 L1895.9 637.2 L1897.8 637.8 L1899.6 638.8 L1901.4 639.2 L1903.1 639.0 L1904.8 639.4 L1906.5 640.6 L1908.1 640.3 L1909.7 641.3 L1911.2 641.4 L1912.7 641.5 L1914.1 642.4 L1915.6 642.8 L1917.0 642.8 L1918.4 643.4 L1919.7 642.6 L1921.0 644.0 L1922.3 644.1 L1923.6 643.4 L1924.8 644.4 L1926.1 644.1 L1927.3 644.6 L1928.4 644.7 L1929.6 645.4 L1930.7 645.5 L1931.5 646.5 L1931.9 645.4 L1933.0 646.6 L1934.0 646.5 L1935.1 646.9 L1936.2 646.3 L1937.2 646.1 L1938.2 647.1 L1939.2 647.5 L1940.2 647.6 L1941.2 647.7 L1942.1 647.6 L1943.1 648.1 L1944.0 647.1 L1944.9 647.7 L1945.8 647.5 L1946.7 647.5 L1947.6 647.8 L1948.5 648.8 L1949.4 648.7 L1950.2 648.9 L1951.0 648.9 L1951.9 648.4 L1952.7 649.3 L1953.5 649.4 L1954.3 649.5 L1955.1 649.5 L1955.9 648.7 L1956.6 649.5 L1957.4 649.4 L1958.1 649.4 L1958.9 649.7 L1959.6 649.8 L1960.4 649.8 L1961.1 649.7 L1961.8 650.3 L1962.5 650.4 L1963.2 650.7 L1963.9 650.4 L1964.6 650.2 L1965.2 651.0 L1965.9 651.1 L1966.6 650.9 L1967.2 650.9 L1967.9 650.7 L1968.5 651.3 L1969.2 650.7 L1969.8 651.4 L1970.4 651.6 L1971.0 651.7 L1971.7 651.4 L1972.3 651.4 L1972.9 651.0 L1973.5 652.0 L1974.1 651.9 L1974.7 651.9 L1975.2 651.5 L1975.8 652.4 L1976.4 651.9 L1976.9 651.5 L1977.5 652.6 L1978.1 652.7 L1978.6 652.7 L1979.2 652.7 L1979.7 652.9 L1980.3 652.9 L1980.8 652.5 L1981.3 652.8 L1981.8 652.3 L1982.4 652.9 L1982.9 653.2 L1983.4 653.4 L1983.9 653.4 L1984.4 653.5 L1984.9 653.4 L1985.4 653.1 L1985.9 653.6 L1986.4 653.7 L1986.9 653.6 L1987.4 653.4 L1987.9 653.9 L1988.3 653.1 L1988.8 653.7 L1989.3 653.3 L1989.8 653.5 L1990.0 654.2 L1990.2 653.9 L1990.7 654.0 L1991.1 654.2 L1991.6 653.3 L1992.1 653.9 L1992.5 653.3 L1992.9 654.1 L1993.4 653.4 L1993.8 653.5 L1994.3 653.7 L1994.7 654.2 L1995.1 653.9 L1995.6 653.6 L1995.6 665.4 L1995.1 665.0 L1994.7 665.4 L1994.3 665.4 L1993.8 665.1 L1993.4 665.5 L1992.9 665.9 L1992.5 665.6 L1992.1 665.5 L1991.6 665.6 L1991.1 666.0 L1990.7 665.0 L1990.2 665.0 L1990.0 665.0 L1989.8 665.3 L1989.3 665.4 L1988.8 665.0 L1988.3 665.1 L1987.9 665.1 L1987.4 665.2 L1986.9 665.0 L1986.4 665.3 L1985.9 665.6 L1985.4 665.0 L1984.9 665.7 L1984.4 665.8 L1983.9 665.7 L1983.4 665.6 L1982.9 665.5 L1982.4 664.9 L1981.8 664.9 L1981.3 664.9 L1980.8 665.0 L1980.3 665.1 L1979.7 665.8 L1979.2 665.1 L1978.6 665.5 L1978.1 665.3 L1977.5 665.5 L1976.9 665.2 L1976.4 665.1 L1975.8 664.9 L1975.2 665.0 L1974.7 664.9 L1974.1 664.9 L1973.5 664.9 L1972.9 665.2 L1972.3 665.8 L1971.7 664.9 L1971.0 664.9 L1970.4 665.2 L1969.8 665.6 L1969.2 665.7 L1968.5 665.9 L1967.9 665.2 L1967.2 664.9 L1966.6 665.3 L1965.9 665.6 L1965.2 665.6 L1964.6 665.7 L1963.9 665.6 L1963.2 665.3 L1962.5 665.8 L1961.8 665.6 L1961.1 664.9 L1960.4 665.2 L1959.6 665.2 L1958.9 665.4 L1958.1 665.2 L1957.4 665.6 L1956.6 665.5 L1955.9 665.8 L1955.1 664.8 L1954.3 665.0 L1953.5 664.7 L1952.7 664.8 L1951.9 665.0 L1951.0 664.7 L1950.2 665.1 L1949.4 664.9 L1948.5 664.9 L1947.6 665.0 L1946.7 664.8 L1945.8 664.9 L1944.9 664.7 L1944.0 664.6 L1943.1 664.6 L1942.1 664.6 L1941.2 664.7 L1940.2 665.6 L1939.2 665.1 L1938.2 664.6 L1937.2 664.6 L1936.2 664.7 L1935.1 665.6 L1934.0 665.0 L1933.0 664.5 L1931.9 664.8 L1930.7 664.5 L1929.6 664.9 L1928.4 664.7 L1927.3 665.4 L1926.1 664.5 L1924.8 664.6 L1923.6 665.2 L1922.3 665.1 L1921.0 664.5 L1919.7 665.5 L1918.4 665.8 L1917.0 665.6 L1915.6 664.4 L1914.1 664.4 L1912.7 664.5 L1911.2 665.0 L1909.7 664.4 L1908.1 665.6 L1906.5 664.9 L1904.8 664.7 L1903.1 664.5 L1901.4 665.3 L1899.6 665.3 L1897.8 664.5 L1895.9 664.5 L1894.0 664.2 L1892.0 664.3 L1890.0 664.2 L1887.8 664.7 L1885.7 664.9 L1885.4 664.1 L1883.4 664.1 L1881.1 664.6 L1878.6 664.9 L1876.1 664.2 L1873.5 664.3 L1870.8 663.4 L1867.9 664.2 L1865.0 663.8 L1861.9 664.3 L1858.6 664.6 L1855.2 664.1 L1851.6 664.0 L1847.8 662.4 L1843.7 662.6 L1839.4 662.0 L1839.2 661.9 L1834.8 662.0 L1829.9 660.1 L1808.5 655.8 L1780.8 638.8 L1762.3 620.4 L1740.8 608.1 L1706.9 515.8 L1675.8 463.5 Z" fill="#b394c4"/>
<path d="M1684.5 358.8 L1688.5 372.1 L1705.1 429.3 L1722.9 491.8 L1742.6 543.8 L1769.4 585.3 L1793.1 611.2 L1814.6 627.2 L1854.6 643.5 L1900.8 652.7 L1946.9 657.3 L1990.0 660.4" fill="none" stroke="#8e5298" stroke-width="7.4" stroke-linejoin="round"/>
<line x1="1675.95" y1="665.08" x2="1989.30" y2="665.08" stroke="#000" stroke-width="2.6" stroke-dasharray="8.1 3.8"/>
<line x1="1682.3" y1="493.6" x2="1730.6" y2="493.6" stroke="#000" stroke-width="2.7"/>
<line x1="1706.3" y1="476.4" x2="1706.3" y2="511.8" stroke="#000" stroke-width="2.7"/>
<circle cx="1706.3" cy="493.6" r="6.2"/>
<line x1="1730.6" y1="540.4" x2="1782.3" y2="540.4" stroke="#000" stroke-width="2.7"/>
<line x1="1756.8" y1="531.2" x2="1756.8" y2="549.6" stroke="#000" stroke-width="2.7"/>
<circle cx="1756.8" cy="540.4" r="6.2"/>
<line x1="1782.3" y1="621.3" x2="1832.5" y2="621.3" stroke="#000" stroke-width="2.7"/>
<line x1="1807.5" y1="611.8" x2="1807.5" y2="631.8" stroke="#000" stroke-width="2.7"/>
<circle cx="1807.5" cy="621.3" r="6.2"/>
<line x1="1832.5" y1="635.2" x2="1882.3" y2="635.2" stroke="#000" stroke-width="2.7"/>
<line x1="1857.7" y1="622.8" x2="1857.7" y2="648.1" stroke="#000" stroke-width="2.7"/>
<circle cx="1857.7" cy="635.2" r="6.2"/>
<line x1="1882.3" y1="663.5" x2="1983.8" y2="663.5" stroke="#000" stroke-width="2.7"/>
<line x1="1933.1" y1="641.9" x2="1933.1" y2="684.4" stroke="#000" stroke-width="2.7"/>
<circle cx="1933.1" cy="663.5" r="6.2"/>
</g>
<path d="M1715.96 367.30 V375.80 M1715.96 733.80 V725.30 M1742.99 367.30 V375.80 M1742.99 733.80 V725.30 M1762.17 367.30 V375.80 M1762.17 733.80 V725.30 M1777.04 367.30 V375.80 M1777.04 733.80 V725.30 M1789.20 367.30 V375.80 M1789.20 733.80 V725.30 M1799.47 367.30 V375.80 M1799.47 733.80 V725.30 M1808.37 367.30 V375.80 M1808.37 733.80 V725.30 M1816.23 367.30 V375.80 M1816.23 733.80 V725.30 M1823.25 367.30 V382.80 M1823.25 733.80 V718.30 M1869.46 367.30 V375.80 M1869.46 733.80 V725.30 M1896.49 367.30 V375.80 M1896.49 733.80 V725.30 M1915.67 367.30 V375.80 M1915.67 733.80 V725.30 M1930.54 367.30 V375.80 M1930.54 733.80 V725.30 M1942.70 367.30 V375.80 M1942.70 733.80 V725.30 M1952.97 367.30 V375.80 M1952.97 733.80 V725.30 M1961.87 367.30 V375.80 M1961.87 733.80 V725.30 M1969.73 367.30 V375.80 M1969.73 733.80 V725.30 M1976.75 367.30 V382.80 M1976.75 733.80 V718.30 M1675.95 665.08 H1691.45 M1989.30 665.08 H1973.80 M1675.95 573.46 H1691.45 M1989.30 573.46 H1973.80 M1675.95 481.83 H1691.45 M1989.30 481.83 H1973.80 M1675.95 390.21 H1691.45 M1989.30 390.21 H1973.80 M1675.95 710.89 H1684.45 M1989.30 710.89 H1980.80 M1675.95 619.27 H1684.45 M1989.30 619.27 H1980.80 M1675.95 527.64 H1684.45 M1989.30 527.64 H1980.80 M1675.95 436.02 H1684.45 M1989.30 436.02 H1980.80" stroke="#000" stroke-width="2.40" fill="none"/>
<rect x="1675.95" y="367.30" width="313.35" height="366.50" fill="none" stroke="#000" stroke-width="2.50"/>
<text x="1823.25" y="769.80" font-size="38" text-anchor="middle">10<tspan font-size="27" dy="-14">−1</tspan></text>
<text x="1976.75" y="769.80" font-size="38" text-anchor="middle">10<tspan font-size="27" dy="-14">0</tspan></text>
<text x="1840.95" y="432.30" font-size="39">V</text>
<g clip-path="url(#c12)">
<path d="M109.3 724.8 L195.8 724.8 L197.3 749.5 L206.5 783.3 L214.2 792.5 L221.9 811.0 L229.6 832.5 L234.2 869.5 L238.6 889.0 L238.8 891.0 L243.5 900.2 L245.7 900.6 L252.0 902.0 L255.8 903.3 L257.8 895.8 L260.4 886.4 L263.2 907.0 L265.0 921.8 L268.1 911.4 L271.2 914.1 L272.7 917.2 L275.8 931.0 L277.0 933.1 L280.4 940.2 L281.0 940.9 L284.9 944.6 L288.5 949.6 L289.6 952.5 L291.9 946.0 L295.1 953.5 L298.2 950.5 L301.2 950.9 L301.9 958.7 L304.0 955.7 L306.7 955.1 L308.1 955.6 L309.4 958.6 L311.9 962.4 L314.2 971.0 L314.3 965.8 L316.6 971.3 L318.9 975.6 L320.4 977.2 L321.1 974.8 L323.2 976.9 L325.3 980.1 L327.2 978.5 L329.2 976.7 L331.1 979.7 L332.9 980.0 L334.7 982.2 L336.4 983.5 L338.1 987.6 L338.8 989.5 L339.7 989.6 L341.3 989.3 L342.9 990.6 L344.4 991.8 L345.9 988.4 L347.4 989.4 L348.8 991.0 L350.2 991.3 L351.6 993.9 L353.0 992.2 L354.3 994.6 L355.6 995.6 L356.8 993.9 L358.1 996.7 L359.3 996.5 L360.5 998.6 L361.7 998.5 L362.9 999.4 L364.0 1000.6 L365.1 998.5 L366.2 1000.0 L366.5 1001.8 L367.3 1001.8 L368.4 999.6 L369.4 1000.3 L370.4 1002.5 L371.5 1000.7 L372.5 999.5 L373.5 1002.9 L374.4 1001.3 L375.4 1000.5 L376.3 1003.7 L377.3 1000.4 L378.2 1002.8 L379.1 1001.8 L380.0 1002.8 L380.9 1002.4 L381.7 1002.7 L382.6 1001.1 L383.5 1004.1 L384.3 1005.3 L385.1 1004.1 L385.9 1004.0 L386.7 1004.0 L387.5 1005.3 L388.3 1006.1 L389.1 1006.0 L389.9 1006.3 L390.6 1006.2 L391.4 1005.3 L392.1 1004.7 L392.9 1003.3 L393.6 1005.3 L394.3 1003.6 L395.0 1007.3 L395.7 1004.4 L396.4 1007.1 L397.1 1007.1 L397.3 1007.9 L397.8 1007.9 L398.5 1007.6 L399.2 1004.5 L399.8 1005.4 L400.5 1008.4 L401.1 1007.7 L401.8 1005.0 L402.4 1006.9 L403.1 1007.6 L403.7 1008.3 L404.3 1008.2 L404.9 1008.5 L405.5 1008.9 L406.1 1008.9 L406.7 1007.8 L407.3 1009.0 L407.9 1007.2 L408.5 1008.2 L409.1 1009.9 L409.6 1008.1 L410.2 1010.0 L410.8 1007.6 L411.3 1007.7 L411.9 1009.2 L412.4 1010.1 L413.0 1010.1 L413.5 1009.0 L414.0 1008.5 L414.6 1008.1 L415.1 1009.2 L415.6 1007.9 L416.1 1009.1 L416.7 1010.0 L417.2 1008.0 L417.7 1010.7 L418.2 1009.5 L418.7 1010.5 L419.2 1011.2 L419.7 1008.5 L420.2 1011.5 L420.6 1011.7 L421.1 1011.9 L421.6 1011.7 L422.1 1009.4 L422.5 1011.9 L423.0 1009.4 L423.5 1011.5 L423.9 1010.3 L424.4 1009.3 L424.8 1012.4 L425.0 1012.5 L425.3 1012.5 L425.7 1011.9 L426.2 1012.5 L426.6 1011.5 L427.1 1011.2 L427.5 1012.3 L428.0 1012.5 L428.4 1010.6 L428.8 1011.7 L428.8 1049.3 L428.4 1048.0 L428.0 1048.2 L427.5 1049.4 L427.1 1048.1 L426.6 1049.8 L426.2 1049.7 L425.7 1048.1 L425.3 1051.2 L425.0 1048.0 L424.8 1050.9 L424.4 1048.2 L423.9 1048.1 L423.5 1048.3 L423.0 1048.6 L422.5 1049.8 L422.1 1048.6 L421.6 1049.3 L421.1 1048.4 L420.6 1051.5 L420.2 1049.4 L419.7 1051.3 L419.2 1051.0 L418.7 1049.3 L418.2 1050.9 L417.7 1051.5 L417.2 1050.2 L416.7 1052.1 L416.1 1050.8 L415.6 1049.4 L415.1 1049.4 L414.6 1049.6 L414.0 1050.3 L413.5 1051.7 L413.0 1049.2 L412.4 1050.5 L411.9 1049.4 L411.3 1049.9 L410.8 1050.5 L410.2 1051.3 L409.6 1051.9 L409.1 1052.2 L409.0 1049.6 L408.5 1050.9 L407.9 1050.8 L407.3 1052.6 L406.7 1052.9 L406.1 1050.3 L405.5 1050.4 L404.9 1052.8 L404.3 1050.6 L403.7 1052.6 L403.1 1050.8 L402.4 1052.7 L401.8 1051.3 L401.1 1051.2 L400.5 1053.8 L399.8 1052.1 L399.2 1051.8 L398.5 1054.3 L397.8 1051.9 L397.1 1053.8 L396.4 1055.3 L395.7 1055.5 L395.0 1053.9 L394.3 1053.2 L393.6 1052.7 L393.0 1052.8 L392.9 1055.0 L392.1 1055.4 L391.4 1056.4 L390.6 1053.3 L389.9 1055.5 L389.1 1057.3 L388.3 1055.1 L387.5 1055.7 L386.7 1054.3 L385.9 1055.4 L385.1 1054.6 L384.3 1055.1 L383.5 1057.2 L382.6 1054.9 L381.7 1056.4 L380.9 1058.7 L380.0 1055.5 L379.1 1057.6 L378.2 1059.0 L377.3 1057.0 L377.0 1056.0 L376.3 1055.5 L375.4 1056.4 L374.4 1055.3 L373.5 1055.7 L372.5 1053.6 L371.5 1051.7 L370.4 1053.3 L369.4 1050.4 L369.0 1049.6 L368.4 1051.0 L367.3 1050.3 L366.2 1050.7 L365.1 1052.1 L364.0 1051.7 L362.9 1052.9 L361.7 1052.6 L361.0 1052.8 L360.5 1053.2 L359.3 1055.3 L358.1 1055.5 L356.8 1057.5 L355.6 1058.4 L354.3 1055.1 L353.0 1054.4 L353.0 1057.2 L351.6 1061.4 L350.2 1062.2 L349.8 1062.4 L348.8 1058.3 L348.2 1052.8 L347.4 1053.1 L345.9 1054.3 L344.4 1054.3 L342.9 1055.4 L341.8 1054.4 L341.3 1054.6 L339.7 1057.1 L338.1 1055.7 L336.4 1060.7 L335.4 1056.0 L334.7 1060.1 L332.9 1066.3 L331.1 1072.7 L330.6 1073.6 L329.2 1070.3 L327.2 1063.7 L325.8 1059.2 L325.3 1063.3 L323.2 1080.0 L322.6 1083.2 L321.1 1079.1 L319.4 1065.6 L318.9 1070.3 L316.6 1067.3 L314.6 1064.0 L314.3 1064.9 L311.9 1067.7 L311.4 1067.2 L309.4 1079.5 L306.7 1096.5 L306.6 1094.4 L304.0 1078.0 L303.4 1070.4 L301.2 1077.1 L300.2 1075.2 L298.2 1069.5 L297.0 1065.6 L295.1 1068.2 L293.8 1068.8 L291.9 1098.8 L290.6 1105.6 L288.5 1113.2 L284.9 1114.3 L283.4 1105.6 L281.0 1085.2 L281.0 1084.8 L277.0 1100.6 L275.4 1105.6 L272.7 1112.9 L268.1 1109.1 L265.0 1105.6 L263.2 1104.5 L260.2 1086.4 L258.3 1105.6 L257.8 1105.6 L252.0 1106.6 L245.7 1106.8 L238.6 1105.7 L151.4 1105.6 L140.2 1064.0 L125.8 1105.6 L108.2 1105.6 Z" fill="#d9d1e8"/>
<path d="M109.3 724.8 L151.2 724.8 L154.2 743.3 L175.8 844.8 L188.1 857.2 L212.7 921.8 L243.5 946.4 L263.2 967.7 L268.1 971.5 L272.7 978.2 L277.0 981.8 L277.3 983.3 L281.0 984.9 L284.9 984.9 L288.5 987.9 L291.9 988.3 L295.1 990.9 L298.2 992.2 L301.2 992.9 L304.0 993.1 L306.7 995.9 L309.4 995.7 L311.9 996.4 L314.3 998.8 L316.6 999.9 L318.9 1000.5 L320.4 1001.8 L321.1 1000.6 L323.2 1001.2 L325.3 1002.3 L327.2 1003.2 L329.2 1003.9 L331.1 1003.7 L332.9 1004.1 L334.7 1003.9 L336.4 1005.7 L338.1 1006.4 L339.7 1006.9 L341.3 1007.3 L342.9 1006.7 L344.4 1007.7 L345.9 1007.2 L347.4 1007.5 L348.8 1009.1 L350.2 1009.4 L351.6 1009.9 L353.0 1009.5 L354.3 1010.7 L355.6 1010.2 L356.8 1010.4 L358.1 1011.6 L359.3 1010.8 L360.5 1012.4 L361.7 1012.8 L362.9 1013.0 L364.0 1012.6 L365.1 1013.6 L366.2 1014.0 L366.5 1014.1 L367.3 1014.1 L368.4 1013.1 L369.4 1013.6 L370.4 1014.3 L371.5 1014.8 L372.5 1014.2 L373.5 1014.5 L374.4 1014.7 L375.4 1015.0 L376.3 1015.1 L377.3 1014.9 L378.2 1015.4 L379.1 1014.9 L380.0 1014.9 L380.9 1015.1 L381.7 1016.4 L382.6 1016.4 L383.5 1016.3 L384.3 1016.4 L385.1 1016.8 L385.9 1017.1 L386.7 1016.7 L387.5 1016.7 L388.3 1016.3 L389.1 1017.6 L389.9 1017.8 L390.6 1017.1 L391.4 1017.7 L392.1 1018.0 L392.9 1018.0 L393.6 1018.3 L394.3 1018.3 L395.0 1018.6 L395.7 1018.7 L396.4 1018.3 L397.1 1018.9 L397.8 1017.9 L398.5 1018.4 L399.2 1019.2 L399.8 1019.3 L400.5 1019.2 L401.1 1019.5 L401.8 1018.9 L402.4 1019.6 L403.1 1019.5 L403.7 1018.9 L404.3 1020.0 L404.9 1019.1 L405.5 1019.4 L406.1 1019.8 L406.7 1020.4 L407.3 1019.9 L407.9 1020.2 L408.5 1020.2 L409.1 1019.9 L409.6 1020.3 L410.2 1020.9 L410.8 1020.1 L411.3 1021.1 L411.9 1021.2 L412.4 1021.3 L413.0 1020.6 L413.5 1020.7 L414.0 1021.4 L414.6 1021.6 L415.1 1021.7 L415.6 1021.1 L416.1 1021.6 L416.7 1021.8 L417.2 1021.0 L417.7 1021.6 L418.2 1021.8 L418.7 1021.9 L419.2 1021.6 L419.7 1022.2 L420.2 1022.2 L420.6 1021.8 L421.1 1021.7 L421.6 1022.8 L422.1 1022.8 L422.5 1022.8 L423.0 1022.3 L423.5 1023.0 L423.9 1022.3 L424.4 1022.5 L424.8 1023.3 L425.0 1023.3 L425.3 1023.3 L425.7 1023.2 L426.2 1022.9 L426.6 1022.4 L427.1 1023.3 L427.5 1023.3 L428.0 1023.1 L428.4 1023.3 L428.8 1022.8 L428.8 1035.6 L428.4 1036.7 L428.0 1035.9 L427.5 1036.3 L427.1 1035.6 L426.6 1035.8 L426.2 1035.6 L425.7 1036.4 L425.3 1036.6 L425.0 1035.6 L424.8 1035.6 L424.4 1036.2 L423.9 1036.1 L423.5 1036.6 L423.0 1036.4 L422.5 1035.6 L422.1 1036.2 L421.6 1035.7 L421.1 1035.5 L420.6 1035.8 L420.2 1035.8 L419.7 1035.5 L419.2 1036.1 L418.7 1036.1 L418.2 1035.6 L417.7 1036.0 L417.2 1035.9 L416.7 1036.3 L416.1 1035.6 L415.6 1035.8 L415.1 1035.4 L414.6 1036.0 L414.0 1035.4 L413.5 1035.7 L413.0 1035.4 L412.4 1035.5 L411.9 1036.4 L411.3 1035.4 L410.8 1036.2 L410.2 1035.5 L409.6 1035.7 L409.1 1035.6 L408.5 1035.2 L407.9 1035.3 L407.3 1036.3 L406.7 1036.2 L406.1 1035.2 L405.5 1035.5 L404.9 1035.5 L404.3 1036.2 L403.7 1035.2 L403.1 1035.1 L402.4 1035.5 L401.8 1035.3 L401.1 1035.1 L400.5 1035.5 L399.8 1035.8 L399.2 1035.0 L398.5 1035.1 L397.8 1035.0 L397.1 1034.9 L396.4 1035.2 L395.7 1035.4 L395.0 1035.4 L394.3 1035.6 L393.6 1034.9 L392.9 1035.4 L392.1 1035.0 L391.4 1035.1 L390.6 1035.0 L389.9 1035.2 L389.1 1035.0 L388.3 1035.1 L387.5 1034.6 L386.7 1034.6 L385.9 1034.9 L385.1 1035.0 L384.3 1035.0 L383.5 1034.6 L382.6 1034.7 L381.7 1034.5 L380.9 1034.5 L380.0 1034.5 L379.1 1034.4 L378.2 1034.5 L377.3 1035.5 L376.3 1034.4 L375.4 1035.4 L374.4 1035.3 L373.5 1034.4 L372.5 1034.6 L371.5 1034.4 L370.4 1034.7 L369.4 1034.3 L368.4 1034.3 L367.3 1034.1 L366.5 1034.1 L366.2 1034.1 L365.1 1034.6 L364.0 1035.2 L362.9 1034.1 L361.7 1034.1 L360.5 1034.9 L359.3 1034.0 L358.1 1033.9 L356.8 1033.8 L355.6 1034.1 L354.3 1034.0 L353.0 1034.8 L351.6 1033.6 L350.2 1034.7 L348.8 1034.1 L347.4 1033.9 L345.9 1034.0 L344.4 1033.9 L342.9 1034.4 L341.3 1034.2 L339.7 1033.7 L338.1 1033.3 L336.4 1033.8 L334.7 1033.4 L332.9 1034.6 L331.1 1032.9 L329.2 1034.5 L327.2 1033.8 L325.3 1033.8 L323.2 1032.8 L321.1 1034.0 L320.4 1032.5 L318.9 1033.2 L316.6 1032.2 L314.3 1032.0 L311.9 1032.3 L309.4 1032.1 L306.7 1031.3 L304.0 1031.0 L301.2 1031.3 L298.2 1030.4 L295.1 1030.7 L291.9 1031.8 L288.5 1030.4 L284.9 1030.5 L281.0 1028.6 L277.0 1028.4 L274.2 1027.9 L272.7 1029.2 L268.1 1027.3 L263.2 1026.8 L243.5 1020.2 L215.8 998.7 L197.3 983.3 L175.8 974.1 L141.9 878.7 L109.3 817.2 Z" fill="#b394c4"/>
<path d="M109.3 712.5 L127.2 732.8 L150.8 816.2 L173.6 899.6 L212.7 961.8 L249.6 992.5 L289.6 1009.5 L335.8 1018.7 L381.9 1023.3 L425.0 1027.9" fill="none" stroke="#8e5298" stroke-width="7.4" stroke-linejoin="round"/>
<line x1="109.20" y1="1031.58" x2="422.55" y2="1031.58" stroke="#000" stroke-width="2.6" stroke-dasharray="8.1 3.8"/>
<line x1="115.2" y1="768.5" x2="163.5" y2="768.5" stroke="#000" stroke-width="2.7"/>
<line x1="139.5" y1="744.8" x2="139.5" y2="791.6" stroke="#000" stroke-width="2.7"/>
<circle cx="139.5" cy="768.5" r="6.2"/>
<line x1="163.5" y1="905.8" x2="215.2" y2="905.8" stroke="#000" stroke-width="2.7"/>
<line x1="189.6" y1="887.9" x2="189.6" y2="923.3" stroke="#000" stroke-width="2.7"/>
<circle cx="189.6" cy="905.8" r="6.2"/>
<line x1="215.2" y1="911.6" x2="265.6" y2="911.6" stroke="#000" stroke-width="2.7"/>
<line x1="240.4" y1="852.5" x2="240.4" y2="970.4" stroke="#000" stroke-width="2.7"/>
<circle cx="240.4" cy="911.6" r="6.2"/>
<line x1="265.6" y1="1039.6" x2="315.8" y2="1039.6" stroke="#000" stroke-width="2.7"/>
<line x1="290.5" y1="973.2" x2="290.5" y2="1115.6" stroke="#000" stroke-width="2.7"/>
<circle cx="290.5" cy="1039.6" r="6.2"/>
<line x1="315.8" y1="1021.2" x2="417.3" y2="1021.2" stroke="#000" stroke-width="2.7"/>
<line x1="365.9" y1="1002.4" x2="365.9" y2="1040.2" stroke="#000" stroke-width="2.7"/>
<circle cx="365.9" cy="1021.2" r="6.2"/>
</g>
<path d="M149.21 733.80 V742.30 M149.21 1100.30 V1091.80 M176.24 733.80 V742.30 M176.24 1100.30 V1091.80 M195.42 733.80 V742.30 M195.42 1100.30 V1091.80 M210.29 733.80 V742.30 M210.29 1100.30 V1091.80 M222.45 733.80 V742.30 M222.45 1100.30 V1091.80 M232.72 733.80 V742.30 M232.72 1100.30 V1091.80 M241.62 733.80 V742.30 M241.62 1100.30 V1091.80 M249.48 733.80 V742.30 M249.48 1100.30 V1091.80 M256.50 733.80 V749.30 M256.50 1100.30 V1084.80 M302.71 733.80 V742.30 M302.71 1100.30 V1091.80 M329.74 733.80 V742.30 M329.74 1100.30 V1091.80 M348.92 733.80 V742.30 M348.92 1100.30 V1091.80 M363.79 733.80 V742.30 M363.79 1100.30 V1091.80 M375.95 733.80 V742.30 M375.95 1100.30 V1091.80 M386.22 733.80 V742.30 M386.22 1100.30 V1091.80 M395.12 733.80 V742.30 M395.12 1100.30 V1091.80 M402.98 733.80 V742.30 M402.98 1100.30 V1091.80 M410.00 733.80 V749.30 M410.00 1100.30 V1084.80 M109.20 1031.58 H124.70 M422.55 1031.58 H407.05 M109.20 939.96 H124.70 M422.55 939.96 H407.05 M109.20 848.33 H124.70 M422.55 848.33 H407.05 M109.20 756.71 H124.70 M422.55 756.71 H407.05 M109.20 1077.39 H117.70 M422.55 1077.39 H414.05 M109.20 985.77 H117.70 M422.55 985.77 H414.05 M109.20 894.14 H117.70 M422.55 894.14 H414.05 M109.20 802.52 H117.70 M422.55 802.52 H414.05" stroke="#000" stroke-width="2.40" fill="none"/>
<rect x="109.20" y="733.80" width="313.35" height="366.50" fill="none" stroke="#000" stroke-width="2.50"/>
<text x="101" y="1032.58" font-size="39" text-anchor="end" dominant-baseline="central">0</text>
<text x="101" y="940.96" font-size="39" text-anchor="end" dominant-baseline="central">2</text>
<text x="101" y="849.33" font-size="39" text-anchor="end" dominant-baseline="central">4</text>
<text x="101" y="757.71" font-size="39" text-anchor="end" dominant-baseline="central">6</text>
<text x="256.50" y="1136.30" font-size="38" text-anchor="middle">10<tspan font-size="27" dy="-14">−1</tspan></text>
<text x="410.00" y="1136.30" font-size="38" text-anchor="middle">10<tspan font-size="27" dy="-14">0</tspan></text>
<text x="274.20" y="798.80" font-size="39">r</text>
<g clip-path="url(#c13)">
<path d="M422.6 724.8 L510.3 724.8 L519.5 780.2 L527.2 792.5 L534.9 807.9 L542.6 829.5 L547.2 869.5 L551.8 869.5 L552.0 862.7 L558.0 897.2 L559.0 891.9 L565.4 892.9 L568.8 897.2 L571.2 885.2 L573.4 883.3 L576.5 901.0 L578.0 918.7 L581.4 911.7 L584.2 914.1 L586.0 913.1 L588.8 918.7 L590.3 924.2 L594.4 931.6 L594.9 940.2 L598.2 945.4 L601.8 950.7 L602.6 952.5 L605.2 953.2 L608.5 952.2 L611.6 957.0 L614.5 956.8 L614.9 958.7 L617.4 957.1 L620.1 957.0 L621.1 957.2 L622.7 958.7 L625.2 958.6 L627.7 966.0 L630.0 962.9 L632.3 971.8 L633.4 974.1 L634.4 968.3 L636.6 972.1 L638.6 977.3 L640.6 976.1 L642.5 979.2 L644.4 980.3 L646.2 977.3 L648.0 982.5 L649.7 982.1 L651.4 986.1 L651.8 986.4 L653.1 984.3 L654.7 985.1 L656.3 987.8 L657.8 987.1 L659.3 985.7 L660.7 989.9 L662.2 988.6 L663.6 990.3 L665.0 990.9 L666.3 991.8 L667.6 992.0 L668.9 993.5 L670.2 994.2 L671.4 993.9 L672.7 994.6 L673.9 996.1 L675.0 996.3 L676.2 997.1 L677.3 997.4 L678.5 995.8 L679.5 998.7 L679.6 998.7 L680.6 997.7 L681.7 998.6 L682.8 998.8 L683.8 999.9 L684.8 1000.1 L685.8 996.8 L686.8 1000.4 L687.8 997.5 L688.7 1001.1 L689.7 1001.5 L690.6 999.6 L691.5 1001.7 L692.4 1000.6 L693.3 1002.5 L694.2 1003.0 L695.1 1002.1 L696.0 1000.7 L696.8 1003.6 L697.6 1000.9 L698.5 1002.5 L699.3 1001.1 L700.1 1004.7 L700.9 1004.3 L701.7 1005.2 L702.5 1004.2 L703.2 1005.1 L704.0 1004.4 L704.7 1004.8 L705.5 1006.5 L706.2 1005.2 L707.0 1006.9 L707.7 1006.8 L708.4 1003.6 L709.1 1004.8 L709.8 1005.3 L710.3 1007.9 L710.5 1007.9 L711.2 1005.2 L711.8 1007.9 L712.5 1007.2 L713.2 1006.5 L713.8 1008.5 L714.5 1006.9 L715.1 1008.0 L715.8 1006.5 L716.4 1008.9 L717.0 1008.9 L717.6 1009.1 L718.3 1008.7 L718.9 1007.1 L719.5 1007.9 L720.1 1006.9 L720.7 1008.6 L721.3 1008.0 L721.8 1008.4 L722.4 1009.2 L723.0 1006.5 L723.5 1009.3 L724.1 1008.1 L724.7 1008.7 L725.2 1010.1 L725.8 1010.2 L726.3 1010.6 L726.9 1010.7 L727.4 1009.1 L727.9 1008.9 L728.4 1009.4 L729.0 1010.6 L729.5 1010.4 L730.0 1010.6 L730.5 1010.4 L731.0 1010.4 L731.5 1011.4 L732.0 1011.3 L732.5 1008.9 L733.0 1011.0 L733.5 1008.9 L734.0 1011.1 L734.5 1011.9 L734.9 1009.1 L735.4 1009.7 L735.9 1009.3 L736.4 1011.4 L736.8 1012.3 L737.3 1012.2 L737.7 1012.4 L738.0 1012.5 L738.2 1012.5 L738.7 1009.5 L739.1 1012.5 L739.5 1011.4 L740.0 1011.2 L740.4 1010.6 L740.9 1010.7 L741.3 1012.5 L741.7 1011.6 L742.2 1011.0 L742.2 1048.0 L741.7 1048.1 L741.3 1050.6 L740.9 1051.1 L740.4 1049.0 L740.0 1049.1 L739.5 1050.0 L739.1 1050.7 L738.7 1049.0 L738.2 1050.1 L738.0 1048.0 L737.7 1048.1 L737.3 1049.1 L736.8 1048.7 L736.4 1048.4 L735.9 1049.4 L735.4 1048.3 L734.9 1049.0 L734.5 1050.6 L734.0 1050.8 L733.5 1049.5 L733.0 1049.7 L732.5 1048.7 L732.0 1048.6 L731.5 1051.9 L731.0 1050.0 L730.5 1050.5 L730.0 1050.6 L729.5 1049.0 L729.0 1049.5 L728.4 1051.1 L727.9 1051.8 L727.4 1049.1 L726.9 1049.4 L726.3 1049.2 L725.8 1052.3 L725.2 1051.4 L724.7 1051.5 L724.1 1049.4 L723.5 1051.0 L723.0 1049.6 L722.4 1052.5 L722.0 1049.6 L721.8 1051.2 L721.3 1050.4 L720.7 1050.7 L720.1 1052.5 L719.5 1051.3 L718.9 1052.5 L718.3 1052.5 L717.6 1050.4 L717.0 1053.0 L716.4 1051.2 L715.8 1052.4 L715.1 1050.3 L714.5 1050.9 L713.8 1054.0 L713.2 1051.6 L712.5 1054.2 L711.8 1051.1 L711.2 1050.9 L710.5 1053.5 L709.8 1051.7 L709.1 1051.4 L708.4 1054.0 L707.7 1052.5 L707.0 1054.2 L706.2 1052.5 L706.0 1051.2 L705.5 1051.6 L704.7 1051.3 L704.0 1053.9 L703.2 1052.1 L702.5 1053.5 L701.7 1055.2 L700.9 1052.6 L700.1 1055.7 L699.3 1053.0 L698.5 1053.0 L697.6 1052.1 L696.8 1052.2 L696.0 1055.5 L695.1 1052.3 L694.2 1053.5 L693.3 1054.5 L692.4 1052.6 L691.5 1055.6 L690.6 1052.9 L690.0 1052.8 L689.7 1053.1 L688.7 1053.2 L687.8 1053.1 L686.8 1054.8 L685.8 1055.7 L684.8 1056.3 L683.8 1055.3 L682.8 1054.2 L681.7 1054.9 L680.6 1052.9 L680.4 1052.8 L679.6 1055.7 L678.5 1057.4 L677.3 1057.5 L676.2 1055.0 L675.0 1056.3 L674.0 1054.4 L673.9 1054.4 L672.7 1054.8 L671.4 1055.2 L670.2 1055.5 L668.9 1059.4 L667.6 1057.9 L667.6 1056.0 L666.3 1057.6 L665.0 1060.5 L663.6 1061.0 L662.8 1061.6 L662.2 1058.8 L661.2 1054.4 L660.7 1058.5 L659.3 1059.7 L657.8 1056.4 L656.3 1060.0 L654.8 1057.6 L654.7 1059.9 L653.1 1060.6 L651.4 1062.9 L649.7 1061.0 L648.4 1060.8 L648.0 1062.2 L646.2 1065.2 L644.4 1069.1 L643.6 1070.4 L642.5 1071.2 L640.6 1065.3 L639.6 1060.8 L638.6 1071.8 L636.6 1080.8 L636.4 1081.6 L634.4 1076.7 L632.4 1070.4 L632.3 1072.1 L630.0 1072.8 L627.7 1070.8 L627.6 1067.2 L625.2 1075.5 L622.8 1070.4 L622.7 1073.3 L620.1 1087.7 L618.8 1089.6 L617.4 1085.9 L616.4 1073.6 L614.5 1081.1 L612.4 1089.6 L611.6 1082.7 L610.0 1065.6 L608.5 1071.2 L605.2 1090.3 L605.2 1083.2 L602.0 1105.6 L601.8 1110.9 L598.2 1108.5 L598.0 1105.6 L595.6 1083.2 L594.4 1089.7 L590.3 1101.0 L588.4 1105.6 L586.0 1108.0 L581.4 1107.0 L578.0 1105.6 L576.5 1099.8 L575.6 1088.0 L571.6 1105.6 L571.2 1112.9 L565.4 1107.1 L559.0 1105.6 L552.0 1107.2 L464.4 1105.6 L454.0 1066.4 L442.0 1105.6 L421.2 1105.6 Z" fill="#d9d1e8"/>
<path d="M422.6 724.8 L464.2 724.8 L467.2 743.3 L488.8 838.7 L501.1 854.1 L525.7 921.8 L556.5 946.4 L576.5 968.8 L581.4 974.2 L586.0 980.1 L590.3 986.4 L590.3 984.4 L594.4 988.1 L598.2 989.7 L601.8 991.3 L605.2 992.0 L608.5 993.6 L611.6 994.9 L614.5 995.8 L617.4 996.3 L620.1 998.8 L622.7 1000.3 L625.2 1000.7 L627.7 1002.3 L630.0 1002.1 L632.3 1003.1 L633.4 1004.8 L634.4 1004.8 L636.6 1004.1 L638.6 1006.1 L640.6 1005.4 L642.5 1006.9 L644.4 1006.2 L646.2 1007.7 L648.0 1008.0 L649.7 1008.0 L651.4 1007.6 L653.1 1008.2 L654.7 1009.5 L656.3 1009.8 L657.8 1009.4 L659.3 1010.2 L660.7 1010.2 L662.2 1011.4 L663.6 1011.4 L665.0 1010.8 L666.3 1012.5 L667.6 1012.5 L668.9 1012.5 L670.2 1012.5 L671.4 1013.6 L672.7 1013.3 L673.9 1013.5 L675.0 1014.5 L676.2 1014.8 L677.3 1015.0 L678.5 1014.5 L679.5 1015.6 L679.6 1015.1 L680.6 1015.8 L681.7 1015.5 L682.8 1015.2 L683.8 1014.9 L684.8 1015.4 L685.8 1016.3 L686.8 1015.6 L687.8 1016.0 L688.7 1016.8 L689.7 1016.2 L690.6 1017.0 L691.5 1017.0 L692.4 1016.3 L693.3 1017.4 L694.2 1017.5 L695.1 1017.7 L696.0 1017.8 L696.8 1017.8 L697.6 1017.6 L698.5 1017.1 L699.3 1017.5 L700.1 1017.5 L700.9 1018.4 L701.7 1017.5 L702.5 1018.5 L703.2 1017.6 L704.0 1018.8 L704.7 1018.8 L705.5 1018.5 L706.2 1018.8 L707.0 1018.6 L707.7 1018.9 L708.4 1019.4 L709.1 1019.2 L709.8 1019.6 L710.5 1019.2 L711.2 1019.3 L711.8 1018.9 L712.5 1018.8 L713.2 1019.9 L713.8 1020.0 L714.5 1019.1 L715.1 1020.3 L715.8 1019.2 L716.4 1020.4 L717.0 1019.8 L717.6 1020.6 L718.3 1020.6 L718.9 1020.7 L719.5 1020.4 L720.1 1020.6 L720.7 1021.0 L721.3 1020.5 L721.8 1020.6 L722.4 1020.4 L723.0 1021.3 L723.5 1021.2 L724.1 1021.5 L724.7 1020.5 L725.2 1021.3 L725.8 1021.6 L726.3 1021.3 L726.9 1021.8 L727.4 1020.9 L727.9 1020.9 L728.4 1022.0 L729.0 1022.1 L729.5 1022.1 L730.0 1021.3 L730.5 1022.3 L731.0 1022.4 L731.5 1021.8 L732.0 1021.8 L732.5 1021.6 L733.0 1022.1 L733.5 1022.2 L734.0 1022.8 L734.5 1022.0 L734.9 1022.7 L735.4 1022.9 L735.9 1023.0 L736.4 1023.1 L736.8 1022.6 L737.3 1023.2 L737.7 1022.2 L738.0 1023.3 L738.2 1023.2 L738.7 1023.2 L739.1 1023.0 L739.5 1023.3 L740.0 1023.3 L740.4 1022.8 L740.9 1023.3 L741.3 1023.3 L741.7 1023.2 L742.2 1023.2 L742.2 1035.1 L741.7 1035.8 L741.3 1035.5 L740.9 1035.1 L740.4 1035.5 L740.0 1035.2 L739.5 1035.8 L739.1 1035.2 L738.7 1035.1 L738.2 1035.2 L738.0 1035.0 L737.7 1035.1 L737.3 1035.5 L736.8 1035.3 L736.4 1035.4 L735.9 1035.0 L735.4 1034.9 L734.9 1036.0 L734.5 1035.5 L734.0 1035.1 L733.5 1034.9 L733.0 1035.0 L732.5 1035.4 L732.0 1035.6 L731.5 1035.3 L731.0 1034.9 L730.5 1035.3 L730.0 1035.6 L729.5 1035.1 L729.0 1034.9 L728.4 1034.9 L727.9 1034.8 L727.4 1035.4 L726.9 1034.7 L726.3 1034.7 L725.8 1034.8 L725.2 1034.7 L724.7 1035.2 L724.1 1035.1 L723.5 1034.8 L723.0 1035.3 L722.4 1035.3 L721.8 1034.7 L721.3 1034.7 L720.7 1034.7 L720.1 1034.8 L719.5 1035.1 L718.9 1034.9 L718.3 1035.0 L717.6 1035.5 L717.0 1034.5 L716.4 1034.6 L715.8 1034.4 L715.1 1034.6 L714.5 1034.5 L713.8 1034.4 L713.2 1035.3 L712.5 1035.5 L711.8 1034.5 L711.2 1034.9 L710.5 1035.4 L709.8 1034.8 L709.1 1034.5 L708.4 1034.4 L707.7 1034.2 L707.0 1035.1 L706.2 1034.4 L705.5 1034.4 L704.7 1034.7 L704.0 1034.2 L703.2 1035.0 L702.5 1034.8 L701.7 1034.7 L700.9 1034.0 L700.1 1034.1 L699.3 1034.0 L698.5 1034.4 L697.6 1034.0 L696.8 1034.3 L696.0 1035.0 L695.1 1034.3 L694.2 1034.7 L693.3 1035.0 L692.4 1034.1 L691.5 1035.0 L690.6 1034.7 L689.7 1033.8 L688.7 1034.0 L687.8 1034.9 L686.8 1033.7 L685.8 1034.7 L684.8 1034.4 L683.8 1034.1 L682.8 1033.6 L681.7 1033.6 L680.6 1033.5 L679.6 1033.5 L679.5 1033.5 L678.5 1033.8 L677.3 1034.4 L676.2 1033.4 L675.0 1033.3 L673.9 1033.8 L672.7 1034.1 L671.4 1033.5 L670.2 1033.6 L668.9 1033.4 L667.6 1033.1 L666.3 1034.1 L665.0 1033.1 L663.6 1033.0 L662.2 1033.8 L660.7 1033.0 L659.3 1033.3 L657.8 1032.7 L656.3 1033.4 L654.7 1033.2 L653.1 1032.6 L651.4 1032.7 L649.7 1032.5 L648.0 1032.8 L646.2 1032.9 L644.4 1032.4 L642.5 1032.5 L640.6 1032.4 L638.6 1032.2 L636.6 1032.1 L634.4 1033.0 L633.4 1031.9 L632.3 1032.1 L630.0 1031.8 L627.7 1032.2 L625.2 1031.0 L622.7 1032.1 L620.1 1031.3 L617.4 1030.2 L614.5 1031.2 L611.6 1029.4 L608.5 1029.5 L605.2 1029.4 L601.8 1028.6 L598.2 1028.0 L594.4 1029.2 L590.3 1027.1 L587.2 1026.4 L586.0 1027.3 L581.4 1027.1 L576.5 1026.2 L550.3 1020.2 L528.8 1001.8 L510.3 983.3 L488.8 974.1 L454.9 878.7 L422.6 807.9 Z" fill="#b394c4"/>
<path d="M422.6 712.5 L442.6 731.0 L454.9 792.5 L488.8 897.2 L525.7 958.7 L562.6 991.0 L602.6 1007.9 L648.8 1018.7 L694.9 1024.8 L738.0 1027.9" fill="none" stroke="#8e5298" stroke-width="7.4" stroke-linejoin="round"/>
<line x1="422.55" y1="1031.58" x2="735.90" y2="1031.58" stroke="#000" stroke-width="2.6" stroke-dasharray="8.1 3.8"/>
<line x1="428.2" y1="837.2" x2="477.1" y2="837.2" stroke="#000" stroke-width="2.7"/>
<line x1="452.8" y1="804.2" x2="452.8" y2="869.5" stroke="#000" stroke-width="2.7"/>
<circle cx="452.8" cy="837.2" r="6.2"/>
<line x1="477.1" y1="887.9" x2="528.8" y2="887.9" stroke="#000" stroke-width="2.7"/>
<line x1="502.9" y1="871.0" x2="502.9" y2="904.8" stroke="#000" stroke-width="2.7"/>
<circle cx="502.9" cy="887.9" r="6.2"/>
<line x1="528.8" y1="960.5" x2="578.6" y2="960.5" stroke="#000" stroke-width="2.7"/>
<line x1="553.7" y1="914.1" x2="553.7" y2="1007.0" stroke="#000" stroke-width="2.7"/>
<circle cx="553.7" cy="960.5" r="6.2"/>
<line x1="578.6" y1="970.4" x2="628.8" y2="970.4" stroke="#000" stroke-width="2.7"/>
<line x1="604.2" y1="932.5" x2="604.2" y2="1008.8" stroke="#000" stroke-width="2.7"/>
<circle cx="604.2" cy="970.4" r="6.2"/>
<line x1="628.8" y1="1032.5" x2="730.3" y2="1032.5" stroke="#000" stroke-width="2.7"/>
<line x1="679.5" y1="1011.0" x2="679.5" y2="1054.1" stroke="#000" stroke-width="2.7"/>
<circle cx="679.5" cy="1032.5" r="6.2"/>
</g>
<path d="M462.56 733.80 V742.30 M462.56 1100.30 V1091.80 M489.59 733.80 V742.30 M489.59 1100.30 V1091.80 M508.77 733.80 V742.30 M508.77 1100.30 V1091.80 M523.64 733.80 V742.30 M523.64 1100.30 V1091.80 M535.80 733.80 V742.30 M535.80 1100.30 V1091.80 M546.07 733.80 V742.30 M546.07 1100.30 V1091.80 M554.97 733.80 V742.30 M554.97 1100.30 V1091.80 M562.83 733.80 V742.30 M562.83 1100.30 V1091.80 M569.85 733.80 V749.30 M569.85 1100.30 V1084.80 M616.06 733.80 V742.30 M616.06 1100.30 V1091.80 M643.09 733.80 V742.30 M643.09 1100.30 V1091.80 M662.27 733.80 V742.30 M662.27 1100.30 V1091.80 M677.14 733.80 V742.30 M677.14 1100.30 V1091.80 M689.30 733.80 V742.30 M689.30 1100.30 V1091.80 M699.57 733.80 V742.30 M699.57 1100.30 V1091.80 M708.47 733.80 V742.30 M708.47 1100.30 V1091.80 M716.33 733.80 V742.30 M716.33 1100.30 V1091.80 M723.35 733.80 V749.30 M723.35 1100.30 V1084.80 M422.55 1031.58 H438.05 M735.90 1031.58 H720.40 M422.55 939.96 H438.05 M735.90 939.96 H720.40 M422.55 848.33 H438.05 M735.90 848.33 H720.40 M422.55 756.71 H438.05 M735.90 756.71 H720.40 M422.55 1077.39 H431.05 M735.90 1077.39 H727.40 M422.55 985.77 H431.05 M735.90 985.77 H727.40 M422.55 894.14 H431.05 M735.90 894.14 H727.40 M422.55 802.52 H431.05 M735.90 802.52 H727.40" stroke="#000" stroke-width="2.40" fill="none"/>
<rect x="422.55" y="733.80" width="313.35" height="366.50" fill="none" stroke="#000" stroke-width="2.50"/>
<text x="569.85" y="1136.30" font-size="38" text-anchor="middle">10<tspan font-size="27" dy="-14">−1</tspan></text>
<text x="723.35" y="1136.30" font-size="38" text-anchor="middle">10<tspan font-size="27" dy="-14">0</tspan></text>
<text x="587.55" y="798.80" font-size="39">R</text>
<g clip-path="url(#c14)">
<path d="M735.9 724.8 L823.3 724.8 L835.6 761.8 L847.9 798.7 L855.6 823.3 L860.2 860.2 L864.8 866.4 L865.3 865.5 L871.0 884.8 L872.4 885.9 L878.7 893.7 L881.8 897.2 L884.5 880.8 L886.4 872.5 L889.9 887.2 L891.0 903.3 L894.8 899.8 L897.2 903.3 L899.4 913.3 L901.8 927.9 L903.7 929.4 L907.7 939.3 L907.9 940.2 L911.6 937.3 L915.2 940.0 L915.6 943.3 L918.6 945.4 L921.8 941.5 L924.9 945.2 L927.9 947.9 L927.9 952.5 L930.7 950.6 L933.4 942.7 L934.1 949.5 L936.1 955.2 L938.6 964.4 L940.2 971.0 L941.0 967.5 L943.3 973.7 L945.6 970.3 L946.4 977.2 L947.8 977.8 L949.9 978.4 L952.0 977.4 L953.9 980.1 L955.9 980.7 L957.8 982.8 L959.6 977.9 L961.4 980.9 L963.1 981.2 L964.8 986.2 L964.8 986.4 L966.4 985.0 L968.0 986.3 L969.6 987.9 L971.1 988.3 L972.6 987.5 L974.1 989.4 L975.5 989.9 L976.9 987.6 L978.3 987.9 L979.7 987.3 L981.0 987.6 L982.3 992.1 L983.5 992.4 L984.8 988.6 L986.0 991.7 L987.2 992.9 L988.4 991.9 L989.6 991.2 L990.7 990.0 L991.8 993.3 L992.5 995.6 L992.9 993.4 L994.0 996.1 L995.1 993.7 L996.1 996.3 L997.1 997.0 L998.2 995.7 L999.2 997.0 L1000.2 996.0 L1001.1 998.2 L1002.1 997.6 L1003.0 997.4 L1004.0 999.0 L1004.9 998.8 L1005.8 998.2 L1006.7 999.7 L1007.6 998.9 L1008.4 998.5 L1009.3 1000.6 L1010.2 1000.8 L1011.0 999.8 L1011.8 1000.6 L1012.6 999.4 L1013.4 1001.6 L1014.2 1002.1 L1015.0 1000.9 L1015.8 1002.6 L1016.6 1000.4 L1017.3 1003.0 L1018.1 1002.3 L1018.8 1002.8 L1019.6 1003.7 L1020.3 1003.9 L1021.0 1004.1 L1021.7 1004.1 L1022.4 1004.0 L1023.1 1004.7 L1023.3 1004.8 L1023.8 1004.8 L1024.5 1003.0 L1025.2 1003.5 L1025.9 1004.7 L1026.5 1003.4 L1027.2 1005.3 L1027.8 1005.4 L1028.5 1005.6 L1029.1 1003.5 L1029.8 1004.1 L1030.4 1005.8 L1031.0 1004.2 L1031.6 1005.7 L1032.2 1002.9 L1032.8 1005.6 L1033.4 1005.2 L1034.0 1006.6 L1034.6 1005.6 L1035.2 1006.6 L1035.8 1003.4 L1036.3 1003.5 L1036.9 1003.8 L1037.5 1007.1 L1038.0 1007.2 L1038.6 1005.8 L1039.1 1007.5 L1039.7 1005.2 L1040.2 1007.1 L1040.7 1005.0 L1041.3 1005.0 L1041.8 1006.0 L1042.3 1005.4 L1042.8 1005.1 L1043.4 1006.5 L1043.9 1006.0 L1044.4 1007.2 L1044.9 1008.1 L1045.4 1006.0 L1045.9 1005.3 L1046.4 1007.2 L1046.9 1006.7 L1047.3 1008.8 L1047.8 1008.3 L1048.3 1008.4 L1048.8 1007.5 L1049.2 1008.9 L1049.7 1009.2 L1050.2 1009.0 L1050.6 1009.4 L1051.0 1009.5 L1051.1 1008.5 L1051.5 1008.3 L1052.0 1006.0 L1052.4 1007.1 L1052.9 1009.4 L1053.3 1007.9 L1053.8 1006.5 L1054.2 1009.3 L1054.7 1006.0 L1055.1 1009.1 L1055.5 1006.5 L1055.5 1049.2 L1055.1 1049.0 L1054.7 1050.1 L1054.2 1049.7 L1053.8 1049.0 L1053.3 1048.1 L1052.9 1048.8 L1052.4 1048.2 L1052.0 1050.0 L1051.5 1048.5 L1051.1 1048.3 L1051.0 1048.0 L1050.6 1049.9 L1050.2 1048.8 L1049.7 1049.4 L1049.2 1048.2 L1048.8 1048.6 L1048.3 1050.7 L1047.8 1051.7 L1047.3 1048.6 L1046.9 1050.8 L1046.4 1051.2 L1045.9 1049.2 L1045.4 1050.9 L1044.9 1051.3 L1044.4 1048.7 L1043.9 1048.8 L1043.4 1050.6 L1042.8 1052.4 L1042.3 1051.0 L1041.8 1052.4 L1041.3 1049.4 L1040.7 1050.7 L1040.2 1049.1 L1039.7 1049.6 L1039.1 1049.8 L1038.6 1049.3 L1038.0 1049.7 L1037.5 1049.6 L1036.9 1052.6 L1036.3 1051.0 L1035.8 1052.4 L1035.2 1049.7 L1035.0 1049.6 L1034.6 1049.9 L1034.0 1050.0 L1033.4 1049.8 L1032.8 1049.9 L1032.2 1051.6 L1031.6 1050.2 L1031.0 1050.1 L1030.4 1051.3 L1029.8 1051.1 L1029.1 1053.3 L1028.5 1050.4 L1027.8 1050.6 L1027.2 1050.4 L1026.5 1053.7 L1025.9 1052.6 L1025.2 1052.3 L1024.5 1050.7 L1023.8 1051.3 L1023.1 1050.8 L1022.4 1050.9 L1021.7 1051.7 L1021.0 1053.8 L1020.3 1053.4 L1019.6 1051.7 L1019.0 1051.2 L1018.8 1051.2 L1018.1 1051.4 L1017.3 1054.0 L1016.6 1055.5 L1015.8 1053.9 L1015.0 1052.4 L1014.2 1052.2 L1013.4 1054.0 L1012.6 1055.8 L1011.8 1056.7 L1011.0 1056.3 L1010.2 1053.9 L1009.3 1053.7 L1008.4 1053.4 L1007.6 1055.5 L1006.7 1053.7 L1005.8 1054.4 L1004.9 1054.1 L1004.0 1058.5 L1003.0 1057.4 L1003.0 1054.4 L1002.1 1055.3 L1001.1 1055.9 L1000.2 1056.5 L999.2 1055.6 L998.2 1059.6 L997.1 1055.9 L996.6 1056.0 L996.1 1058.0 L995.1 1064.7 L994.0 1066.1 L993.4 1064.0 L992.9 1067.0 L991.8 1066.0 L990.7 1060.8 L989.6 1059.4 L988.4 1060.9 L987.2 1056.3 L987.0 1056.0 L986.0 1060.6 L984.8 1060.2 L983.5 1061.0 L982.3 1063.0 L981.0 1060.5 L980.6 1060.8 L979.7 1061.0 L978.3 1059.9 L976.9 1059.1 L975.5 1058.4 L974.2 1057.6 L974.1 1058.2 L972.6 1060.1 L971.1 1058.7 L969.6 1060.4 L968.0 1059.2 L967.8 1059.2 L966.4 1060.1 L964.8 1062.2 L963.1 1066.7 L961.4 1062.4 L961.4 1064.9 L959.6 1070.3 L957.8 1070.2 L955.9 1074.4 L955.0 1075.2 L953.9 1073.0 L952.0 1067.5 L951.8 1064.0 L949.9 1073.1 L947.8 1081.4 L947.0 1080.0 L945.6 1076.6 L943.8 1072.0 L943.3 1075.0 L941.0 1074.3 L939.0 1068.8 L938.6 1071.6 L936.1 1079.7 L935.8 1080.0 L933.4 1092.2 L932.6 1096.0 L930.7 1082.5 L929.4 1072.0 L927.9 1080.4 L926.2 1089.6 L924.9 1082.6 L923.0 1070.4 L921.8 1076.3 L918.6 1086.9 L918.2 1086.4 L915.2 1113.2 L915.0 1105.6 L911.6 1109.7 L910.2 1105.6 L907.7 1094.7 L907.0 1091.2 L903.7 1104.5 L903.0 1105.6 L899.4 1105.6 L894.8 1109.9 L891.0 1105.6 L889.9 1098.2 L889.1 1090.4 L887.0 1105.6 L884.5 1113.6 L878.7 1113.2 L872.4 1107.0 L865.3 1106.5 L771.8 1105.6 L768.6 1096.0 L765.4 1105.6 L734.2 1105.6 Z" fill="#d9d1e8"/>
<path d="M735.9 724.8 L780.2 724.8 L783.3 743.3 L801.8 823.3 L814.1 838.7 L838.7 915.6 L869.5 952.5 L889.9 971.0 L894.8 974.8 L899.4 978.4 L903.3 983.3 L903.7 983.4 L907.7 983.0 L911.6 986.5 L915.2 988.4 L918.6 989.5 L921.8 989.2 L924.9 992.5 L927.9 993.7 L930.7 994.9 L933.4 994.9 L936.1 997.1 L938.6 997.1 L941.0 998.6 L943.3 999.3 L945.6 1000.9 L946.4 1001.8 L947.8 1002.1 L949.9 1001.9 L952.0 1003.0 L953.9 1002.3 L955.9 1003.1 L957.8 1003.8 L959.6 1004.5 L961.4 1004.5 L963.1 1005.4 L964.8 1004.8 L966.4 1006.4 L968.0 1006.7 L969.6 1006.9 L971.1 1006.5 L972.6 1007.1 L974.1 1008.2 L975.5 1007.7 L976.9 1008.8 L978.3 1008.9 L979.7 1008.4 L981.0 1008.6 L982.3 1010.1 L983.5 1010.4 L984.8 1009.5 L986.0 1011.0 L987.2 1011.3 L988.4 1011.4 L989.6 1010.9 L990.7 1010.9 L991.8 1011.8 L992.5 1012.5 L992.9 1011.3 L994.0 1012.2 L995.1 1012.2 L996.1 1012.9 L997.1 1012.9 L998.2 1013.1 L999.2 1013.2 L1000.2 1012.7 L1001.1 1012.7 L1002.1 1014.2 L1003.0 1013.7 L1004.0 1014.4 L1004.9 1013.5 L1005.8 1014.8 L1006.7 1013.8 L1007.6 1014.4 L1008.4 1014.8 L1009.3 1015.1 L1010.2 1015.3 L1011.0 1015.7 L1011.8 1015.9 L1012.6 1015.0 L1013.4 1014.9 L1014.2 1015.4 L1015.0 1016.4 L1015.8 1016.3 L1016.6 1015.7 L1017.3 1016.7 L1018.1 1017.0 L1018.8 1017.1 L1019.6 1016.2 L1020.3 1016.9 L1021.0 1016.7 L1021.7 1017.6 L1022.4 1017.4 L1023.1 1017.8 L1023.8 1016.8 L1024.5 1018.1 L1025.2 1017.3 L1025.9 1017.8 L1026.5 1018.2 L1027.2 1018.5 L1027.8 1017.7 L1028.5 1018.4 L1029.1 1018.6 L1029.8 1018.8 L1030.4 1018.7 L1031.0 1018.9 L1031.6 1019.3 L1032.2 1019.3 L1032.8 1019.4 L1033.4 1019.6 L1034.0 1019.2 L1034.6 1019.7 L1035.2 1019.9 L1035.8 1019.4 L1036.3 1019.0 L1036.9 1020.1 L1037.5 1020.0 L1038.0 1020.2 L1038.6 1020.1 L1039.1 1020.6 L1039.7 1020.7 L1040.2 1020.6 L1040.7 1020.8 L1041.3 1021.0 L1041.8 1020.3 L1042.3 1021.2 L1042.8 1021.2 L1043.4 1020.9 L1043.9 1021.4 L1044.4 1021.5 L1044.9 1020.9 L1045.4 1021.4 L1045.9 1021.3 L1046.4 1021.7 L1046.9 1022.0 L1047.3 1022.0 L1047.8 1021.0 L1048.3 1021.8 L1048.8 1021.5 L1049.2 1022.2 L1049.7 1022.4 L1050.2 1022.5 L1050.6 1021.6 L1051.0 1022.7 L1051.1 1022.7 L1051.5 1022.7 L1052.0 1022.1 L1052.4 1022.4 L1052.9 1021.7 L1053.3 1022.6 L1053.8 1022.4 L1054.2 1021.7 L1054.7 1022.4 L1055.1 1022.7 L1055.5 1022.3 L1055.5 1036.1 L1055.1 1036.0 L1054.7 1035.7 L1054.2 1036.0 L1053.8 1035.8 L1053.3 1036.5 L1052.9 1036.1 L1052.4 1035.7 L1052.0 1035.8 L1051.5 1035.9 L1051.1 1036.2 L1051.0 1035.6 L1050.6 1036.4 L1050.2 1035.6 L1049.7 1036.5 L1049.2 1036.0 L1048.8 1036.0 L1048.3 1036.1 L1047.8 1035.7 L1047.3 1036.1 L1046.9 1035.8 L1046.4 1036.1 L1045.9 1035.5 L1045.4 1035.5 L1044.9 1035.8 L1044.4 1035.6 L1043.9 1035.6 L1043.4 1035.9 L1042.8 1035.4 L1042.3 1036.5 L1041.8 1035.4 L1041.3 1035.4 L1040.7 1035.4 L1040.2 1035.4 L1039.7 1035.3 L1039.1 1035.7 L1038.6 1035.3 L1038.0 1035.7 L1037.5 1035.7 L1036.9 1035.3 L1036.3 1036.3 L1035.8 1035.9 L1035.2 1035.3 L1034.6 1035.3 L1034.0 1036.0 L1033.4 1035.7 L1032.8 1035.5 L1032.2 1035.1 L1031.6 1035.2 L1031.0 1035.9 L1030.4 1035.3 L1029.8 1035.6 L1029.1 1035.2 L1028.5 1035.7 L1027.8 1035.0 L1027.2 1035.6 L1026.5 1035.0 L1025.9 1035.6 L1025.2 1035.7 L1024.5 1035.2 L1023.8 1035.0 L1023.1 1036.0 L1022.4 1035.9 L1021.7 1035.8 L1021.0 1034.8 L1020.3 1035.6 L1019.6 1034.9 L1018.8 1035.3 L1018.1 1035.4 L1017.3 1034.7 L1016.6 1034.8 L1015.8 1034.7 L1015.0 1034.8 L1014.2 1035.6 L1013.4 1035.7 L1012.6 1035.3 L1011.8 1034.8 L1011.0 1035.1 L1010.2 1034.5 L1009.3 1034.5 L1008.4 1034.8 L1007.6 1035.0 L1006.7 1035.6 L1005.8 1035.0 L1004.9 1034.4 L1004.0 1034.5 L1003.0 1034.7 L1002.1 1034.6 L1001.1 1034.8 L1000.2 1035.0 L999.2 1034.3 L998.2 1035.2 L997.1 1034.7 L996.1 1034.2 L995.1 1035.3 L994.0 1034.2 L992.9 1034.1 L992.5 1034.1 L991.8 1034.0 L990.7 1034.4 L989.6 1034.1 L988.4 1033.8 L987.2 1033.8 L986.0 1034.6 L984.8 1034.7 L983.5 1034.4 L982.3 1033.6 L981.0 1033.7 L979.7 1033.7 L978.3 1033.2 L976.9 1033.1 L975.5 1033.0 L974.1 1033.0 L972.6 1032.8 L971.1 1032.9 L969.6 1032.8 L968.0 1032.5 L966.4 1032.5 L964.8 1033.7 L963.1 1033.1 L961.4 1033.4 L959.6 1033.4 L957.8 1032.9 L955.9 1033.3 L953.9 1031.9 L952.0 1033.0 L949.9 1032.1 L947.8 1031.2 L946.4 1031.0 L945.6 1032.6 L943.3 1031.2 L941.0 1031.1 L938.6 1030.2 L936.1 1031.8 L933.4 1031.5 L930.7 1031.4 L927.9 1029.2 L924.9 1028.9 L921.8 1030.0 L918.6 1030.3 L915.2 1028.0 L911.6 1028.7 L907.7 1027.9 L903.7 1028.4 L900.2 1026.4 L899.4 1028.5 L894.8 1025.9 L889.9 1026.6 L863.3 1020.2 L832.5 998.7 L823.3 977.2 L801.8 967.9 L767.9 863.3 L735.9 786.4 Z" fill="#b394c4"/>
<path d="M735.9 712.5 L758.7 731.0 L767.9 771.0 L801.8 887.9 L838.7 952.5 L875.6 986.4 L915.6 1004.8 L961.8 1017.2 L1007.9 1023.3 L1051.0 1027.9" fill="none" stroke="#8e5298" stroke-width="7.4" stroke-linejoin="round"/>
<line x1="735.90" y1="1031.58" x2="1049.25" y2="1031.58" stroke="#000" stroke-width="2.6" stroke-dasharray="8.1 3.8"/>
<line x1="742.4" y1="771.0" x2="790.4" y2="771.0" stroke="#000" stroke-width="2.7"/>
<line x1="766.4" y1="746.4" x2="766.4" y2="796.2" stroke="#000" stroke-width="2.7"/>
<circle cx="766.4" cy="771.0" r="6.2"/>
<line x1="790.4" y1="864.8" x2="841.8" y2="864.8" stroke="#000" stroke-width="2.7"/>
<line x1="816.5" y1="850.1" x2="816.5" y2="879.6" stroke="#000" stroke-width="2.7"/>
<circle cx="816.5" cy="864.8" r="6.2"/>
<line x1="841.8" y1="914.7" x2="892.5" y2="914.7" stroke="#000" stroke-width="2.7"/>
<line x1="867.3" y1="896.5" x2="867.3" y2="933.2" stroke="#000" stroke-width="2.7"/>
<circle cx="867.3" cy="914.7" r="6.2"/>
<line x1="892.5" y1="1014.7" x2="1043.3" y2="1014.7" stroke="#000" stroke-width="2.7"/>
<line x1="967.9" y1="997.2" x2="967.9" y2="1031.0" stroke="#000" stroke-width="2.7"/>
<circle cx="967.9" cy="1014.7" r="6.2"/>
</g>
<path d="M775.91 733.80 V742.30 M775.91 1100.30 V1091.80 M802.94 733.80 V742.30 M802.94 1100.30 V1091.80 M822.12 733.80 V742.30 M822.12 1100.30 V1091.80 M836.99 733.80 V742.30 M836.99 1100.30 V1091.80 M849.15 733.80 V742.30 M849.15 1100.30 V1091.80 M859.42 733.80 V742.30 M859.42 1100.30 V1091.80 M868.32 733.80 V742.30 M868.32 1100.30 V1091.80 M876.18 733.80 V742.30 M876.18 1100.30 V1091.80 M883.20 733.80 V749.30 M883.20 1100.30 V1084.80 M929.41 733.80 V742.30 M929.41 1100.30 V1091.80 M956.44 733.80 V742.30 M956.44 1100.30 V1091.80 M975.62 733.80 V742.30 M975.62 1100.30 V1091.80 M990.49 733.80 V742.30 M990.49 1100.30 V1091.80 M1002.65 733.80 V742.30 M1002.65 1100.30 V1091.80 M1012.92 733.80 V742.30 M1012.92 1100.30 V1091.80 M1021.82 733.80 V742.30 M1021.82 1100.30 V1091.80 M1029.68 733.80 V742.30 M1029.68 1100.30 V1091.80 M1036.70 733.80 V749.30 M1036.70 1100.30 V1084.80 M735.90 1031.58 H751.40 M1049.25 1031.58 H1033.75 M735.90 939.96 H751.40 M1049.25 939.96 H1033.75 M735.90 848.33 H751.40 M1049.25 848.33 H1033.75 M735.90 756.71 H751.40 M1049.25 756.71 H1033.75 M735.90 1077.39 H744.40 M1049.25 1077.39 H1040.75 M735.90 985.77 H744.40 M1049.25 985.77 H1040.75 M735.90 894.14 H744.40 M1049.25 894.14 H1040.75 M735.90 802.52 H744.40 M1049.25 802.52 H1040.75" stroke="#000" stroke-width="2.40" fill="none"/>
<rect x="735.90" y="733.80" width="313.35" height="366.50" fill="none" stroke="#000" stroke-width="2.50"/>
<text x="883.20" y="1136.30" font-size="38" text-anchor="middle">10<tspan font-size="27" dy="-14">−1</tspan></text>
<text x="1036.70" y="1136.30" font-size="38" text-anchor="middle">10<tspan font-size="27" dy="-14">0</tspan></text>
<text x="900.90" y="798.80" font-size="39">i</text>
<g clip-path="url(#c15)">
<path d="M1049.2 724.8 L1142.5 724.8 L1148.6 749.5 L1160.9 792.5 L1168.6 817.2 L1173.2 844.8 L1178.7 863.9 L1179.4 866.4 L1184.0 884.8 L1185.7 884.0 L1192.1 877.0 L1194.8 884.8 L1197.9 875.5 L1199.4 874.1 L1203.2 893.6 L1204.0 903.3 L1208.1 895.0 L1210.2 898.7 L1212.7 906.7 L1214.8 915.6 L1217.0 920.7 L1220.9 934.1 L1221.1 930.3 L1224.9 938.0 L1228.5 938.3 L1228.6 943.3 L1231.9 942.3 L1235.2 948.2 L1238.3 943.2 L1240.9 952.5 L1241.2 952.3 L1244.1 949.4 L1246.8 947.4 L1247.1 949.5 L1249.4 955.0 L1251.9 963.2 L1253.2 967.9 L1254.4 966.6 L1256.7 972.7 L1259.0 976.1 L1259.4 977.2 L1261.1 978.0 L1263.3 976.6 L1265.3 974.5 L1267.3 978.8 L1269.2 982.0 L1271.1 981.9 L1272.9 981.8 L1274.7 980.5 L1276.4 983.7 L1277.8 986.4 L1278.1 985.8 L1279.8 986.8 L1281.4 982.6 L1283.0 988.0 L1284.5 988.4 L1286.0 987.6 L1287.4 988.1 L1288.9 989.2 L1290.3 990.5 L1291.7 990.7 L1293.0 991.1 L1294.3 988.5 L1295.6 989.2 L1296.9 988.3 L1298.1 993.1 L1299.4 993.3 L1300.6 992.8 L1301.7 992.7 L1302.9 992.9 L1304.0 995.0 L1305.2 991.6 L1305.5 995.6 L1306.3 994.5 L1307.3 996.2 L1308.4 993.9 L1309.5 995.9 L1310.5 994.0 L1311.5 992.7 L1312.5 997.2 L1313.5 997.9 L1314.5 996.4 L1315.4 996.0 L1316.4 998.0 L1317.3 997.5 L1318.2 999.3 L1319.1 996.2 L1320.0 999.8 L1320.9 997.6 L1321.8 1000.5 L1322.7 1000.3 L1323.5 999.1 L1324.3 1001.1 L1325.2 997.5 L1326.0 1001.6 L1326.8 1002.0 L1327.6 998.9 L1328.4 1002.4 L1329.2 1000.9 L1329.9 1001.5 L1330.7 1002.7 L1331.4 1002.6 L1332.2 1002.6 L1332.9 1003.5 L1333.7 1004.0 L1334.4 1002.9 L1335.1 1004.1 L1335.8 1003.6 L1336.3 1004.8 L1336.5 1002.7 L1337.2 1005.0 L1337.9 1005.1 L1338.5 1005.3 L1339.2 1004.5 L1339.9 1004.1 L1340.5 1004.4 L1341.2 1005.7 L1341.8 1005.0 L1342.5 1004.9 L1343.1 1003.1 L1343.7 1005.6 L1344.3 1006.6 L1345.0 1005.4 L1345.6 1003.7 L1346.2 1005.1 L1346.8 1004.2 L1347.4 1007.2 L1348.0 1006.9 L1348.5 1006.9 L1349.1 1007.3 L1349.7 1007.6 L1350.2 1006.2 L1350.8 1005.3 L1351.4 1008.0 L1351.9 1006.8 L1352.5 1007.1 L1353.0 1006.4 L1353.6 1006.9 L1354.1 1006.8 L1354.6 1007.5 L1355.1 1009.0 L1355.7 1008.1 L1356.2 1009.0 L1356.7 1008.9 L1357.2 1009.2 L1357.7 1009.3 L1358.2 1008.1 L1358.7 1009.7 L1359.2 1009.9 L1359.7 1010.0 L1360.2 1010.1 L1360.7 1008.4 L1361.2 1010.1 L1361.6 1007.7 L1362.1 1010.4 L1362.6 1010.0 L1363.1 1009.0 L1363.5 1007.7 L1364.0 1010.6 L1364.0 1011.0 L1364.4 1009.8 L1364.9 1010.9 L1365.4 1010.2 L1365.8 1007.8 L1366.2 1008.2 L1366.7 1008.5 L1367.1 1010.6 L1367.6 1007.7 L1368.0 1008.2 L1368.4 1010.0 L1368.9 1009.6 L1368.9 1050.7 L1368.4 1050.7 L1368.0 1051.2 L1367.6 1048.4 L1367.1 1050.0 L1366.7 1050.5 L1366.2 1048.3 L1365.8 1048.6 L1365.4 1048.4 L1364.9 1048.2 L1364.4 1048.0 L1364.0 1048.0 L1364.0 1049.2 L1363.5 1048.2 L1363.1 1050.2 L1362.6 1049.1 L1362.1 1051.1 L1361.6 1049.6 L1361.2 1048.7 L1360.7 1048.3 L1360.2 1048.9 L1359.7 1050.4 L1359.2 1049.5 L1358.7 1050.5 L1358.2 1049.3 L1357.7 1048.9 L1357.2 1051.2 L1356.7 1049.1 L1356.2 1050.9 L1355.7 1052.3 L1355.1 1049.2 L1354.6 1050.8 L1354.1 1049.5 L1353.6 1052.2 L1353.0 1050.3 L1352.5 1049.2 L1351.9 1050.5 L1351.4 1050.4 L1350.8 1049.7 L1350.2 1050.4 L1349.7 1050.8 L1349.1 1050.6 L1348.5 1053.3 L1348.0 1049.6 L1348.0 1049.6 L1347.4 1051.8 L1346.8 1052.3 L1346.2 1053.1 L1345.6 1051.9 L1345.0 1053.0 L1344.3 1050.6 L1343.7 1050.5 L1343.1 1050.1 L1342.5 1052.2 L1341.8 1051.3 L1341.2 1052.6 L1340.5 1050.7 L1339.9 1050.9 L1339.2 1050.6 L1338.5 1050.5 L1337.9 1051.3 L1337.2 1050.7 L1336.5 1053.1 L1335.8 1051.9 L1335.1 1052.8 L1334.4 1052.7 L1333.7 1054.9 L1332.9 1053.4 L1332.2 1051.2 L1332.0 1051.2 L1331.4 1054.0 L1330.7 1054.5 L1329.9 1053.7 L1329.2 1051.8 L1328.4 1053.0 L1327.6 1054.9 L1326.8 1053.1 L1326.0 1052.9 L1325.2 1056.2 L1324.3 1055.7 L1323.5 1054.1 L1322.7 1053.3 L1321.8 1055.2 L1320.9 1053.6 L1320.0 1053.6 L1319.1 1056.9 L1318.2 1054.2 L1317.3 1056.5 L1316.4 1055.4 L1316.0 1054.4 L1315.4 1055.3 L1314.5 1055.7 L1313.5 1056.8 L1312.5 1059.2 L1311.5 1061.4 L1310.5 1059.4 L1309.5 1061.4 L1308.4 1062.9 L1307.3 1062.5 L1306.4 1060.8 L1306.3 1061.9 L1305.2 1061.3 L1304.0 1059.5 L1302.9 1058.6 L1301.7 1060.0 L1300.6 1056.5 L1300.0 1056.0 L1299.4 1059.5 L1298.1 1058.7 L1296.9 1059.5 L1295.6 1061.7 L1294.3 1061.8 L1293.6 1060.8 L1293.0 1065.0 L1291.7 1063.8 L1290.4 1065.6 L1290.3 1065.4 L1288.9 1064.9 L1287.4 1060.8 L1287.2 1059.2 L1286.0 1059.6 L1284.5 1064.3 L1283.0 1060.7 L1281.4 1061.4 L1280.8 1060.8 L1279.8 1061.4 L1278.1 1067.7 L1276.4 1063.2 L1274.7 1064.9 L1274.4 1064.0 L1272.9 1068.9 L1271.1 1071.9 L1269.2 1071.9 L1268.0 1073.6 L1267.3 1072.6 L1265.3 1073.3 L1264.8 1067.2 L1263.3 1073.5 L1261.1 1076.9 L1260.0 1078.4 L1259.0 1077.4 L1256.7 1073.3 L1255.2 1068.8 L1254.4 1072.3 L1251.9 1077.4 L1250.4 1076.8 L1249.4 1087.4 L1246.8 1093.3 L1245.6 1094.4 L1244.1 1085.3 L1242.4 1073.6 L1241.2 1079.5 L1239.2 1089.6 L1238.3 1087.8 L1236.0 1070.4 L1235.2 1072.9 L1234.4 1075.2 L1231.9 1095.9 L1229.6 1105.6 L1228.5 1108.8 L1224.9 1110.2 L1222.4 1105.6 L1221.1 1101.6 L1220.8 1091.2 L1219.2 1105.6 L1217.0 1107.2 L1212.7 1109.4 L1208.1 1105.7 L1205.6 1105.6 L1204.0 1094.4 L1203.2 1103.6 L1202.4 1105.6 L1197.9 1105.8 L1192.1 1114.2 L1185.7 1109.3 L1178.7 1110.4 L1047.2 1105.6 Z" fill="#d9d1e8"/>
<path d="M1049.2 724.8 L1096.3 724.8 L1099.4 743.3 L1116.3 817.2 L1127.1 832.5 L1154.8 912.5 L1182.5 940.2 L1203.2 961.3 L1208.1 966.8 L1212.7 973.0 L1216.3 977.2 L1217.0 977.5 L1221.1 978.7 L1224.9 978.5 L1228.5 982.0 L1231.9 983.2 L1235.2 984.7 L1238.3 986.3 L1241.2 987.7 L1244.1 988.5 L1246.8 989.9 L1249.4 990.9 L1251.9 992.4 L1254.4 993.4 L1256.7 993.7 L1259.0 995.4 L1259.4 995.6 L1261.1 995.7 L1263.3 995.6 L1265.3 997.2 L1267.3 996.0 L1269.2 997.8 L1271.1 998.5 L1272.9 999.2 L1274.7 999.6 L1276.4 998.6 L1278.1 1000.4 L1279.8 1000.1 L1281.4 1001.0 L1283.0 1001.6 L1284.5 1002.3 L1286.0 1001.2 L1287.4 1003.1 L1288.9 1003.5 L1290.3 1003.6 L1291.7 1003.8 L1293.0 1004.5 L1294.3 1004.8 L1295.6 1005.2 L1296.9 1005.6 L1298.1 1005.9 L1299.4 1006.3 L1300.6 1006.1 L1301.7 1006.2 L1302.9 1007.1 L1304.0 1007.5 L1305.2 1007.8 L1305.5 1007.9 L1306.3 1006.5 L1307.3 1007.7 L1308.4 1007.4 L1309.5 1008.6 L1310.5 1007.8 L1311.5 1008.4 L1312.5 1008.5 L1313.5 1009.3 L1314.5 1010.0 L1315.4 1010.2 L1316.4 1010.4 L1317.3 1010.7 L1318.2 1009.6 L1319.1 1010.6 L1320.0 1010.2 L1320.9 1011.5 L1321.8 1011.1 L1322.7 1011.0 L1323.5 1011.9 L1324.3 1011.5 L1325.2 1011.1 L1326.0 1012.6 L1326.8 1012.8 L1327.6 1013.1 L1328.4 1013.0 L1329.2 1012.5 L1329.9 1013.6 L1330.7 1013.9 L1331.4 1012.8 L1332.2 1013.0 L1332.9 1014.3 L1333.7 1014.5 L1334.4 1014.5 L1335.1 1014.9 L1335.8 1014.6 L1336.5 1014.4 L1337.2 1014.8 L1337.9 1014.9 L1338.5 1014.6 L1339.2 1015.8 L1339.9 1015.7 L1340.5 1015.7 L1341.2 1015.8 L1341.8 1015.4 L1342.5 1015.8 L1343.1 1016.0 L1343.7 1016.9 L1344.3 1016.1 L1345.0 1016.9 L1345.6 1017.3 L1346.2 1016.2 L1346.8 1017.5 L1347.4 1017.7 L1348.0 1016.9 L1348.5 1018.1 L1349.1 1017.6 L1349.7 1017.9 L1350.2 1018.5 L1350.8 1017.8 L1351.4 1018.6 L1351.9 1018.8 L1352.5 1018.1 L1353.0 1018.6 L1353.6 1018.9 L1354.1 1018.5 L1354.6 1019.3 L1355.1 1018.8 L1355.7 1019.0 L1356.2 1019.9 L1356.7 1020.0 L1357.2 1019.7 L1357.7 1020.3 L1358.2 1019.9 L1358.7 1020.4 L1359.2 1020.3 L1359.7 1020.1 L1360.2 1020.3 L1360.7 1020.6 L1361.2 1021.1 L1361.6 1021.1 L1362.1 1021.3 L1362.6 1021.4 L1363.1 1020.6 L1363.5 1021.2 L1364.0 1021.7 L1364.0 1021.8 L1364.4 1020.7 L1364.9 1020.9 L1365.4 1021.7 L1365.8 1021.5 L1366.2 1021.2 L1366.7 1021.2 L1367.1 1021.7 L1367.6 1021.8 L1368.0 1021.2 L1368.4 1021.0 L1368.9 1021.8 L1368.9 1037.2 L1368.4 1037.8 L1368.0 1037.2 L1367.6 1037.3 L1367.1 1037.8 L1366.7 1038.1 L1366.2 1037.4 L1365.8 1037.4 L1365.4 1037.7 L1364.9 1037.2 L1364.4 1037.6 L1364.0 1037.2 L1364.0 1038.1 L1363.5 1037.1 L1363.1 1037.1 L1362.6 1038.3 L1362.1 1037.1 L1361.6 1038.2 L1361.2 1037.5 L1360.7 1037.4 L1360.2 1037.8 L1359.7 1037.9 L1359.2 1036.9 L1358.7 1037.8 L1358.2 1037.6 L1357.7 1037.6 L1357.2 1037.2 L1356.7 1037.1 L1356.2 1036.9 L1355.7 1037.0 L1355.1 1036.7 L1354.6 1036.7 L1354.1 1036.8 L1353.6 1037.3 L1353.0 1036.6 L1352.5 1037.8 L1351.9 1037.4 L1351.4 1037.2 L1350.8 1036.7 L1350.2 1037.5 L1349.7 1036.4 L1349.1 1036.4 L1348.5 1036.4 L1348.0 1036.4 L1347.4 1037.1 L1346.8 1036.8 L1346.2 1036.5 L1345.6 1036.4 L1345.0 1036.5 L1344.3 1036.1 L1343.7 1036.1 L1343.1 1036.2 L1342.5 1036.1 L1341.8 1036.7 L1341.2 1036.6 L1340.5 1035.9 L1339.9 1036.8 L1339.2 1035.9 L1338.5 1035.8 L1337.9 1036.0 L1337.2 1036.2 L1336.5 1037.0 L1335.8 1036.1 L1335.1 1035.6 L1334.4 1037.0 L1333.7 1035.9 L1332.9 1036.1 L1332.2 1036.5 L1331.4 1035.5 L1330.7 1035.4 L1329.9 1035.8 L1329.2 1036.3 L1328.4 1035.6 L1327.6 1036.0 L1326.8 1035.8 L1326.0 1035.2 L1325.2 1035.8 L1324.3 1035.9 L1323.5 1036.4 L1322.7 1035.3 L1321.8 1035.0 L1320.9 1036.0 L1320.0 1035.1 L1319.1 1036.1 L1318.2 1034.7 L1317.3 1035.1 L1316.4 1034.9 L1315.4 1036.0 L1314.5 1035.6 L1313.5 1035.1 L1312.5 1034.4 L1311.5 1034.8 L1310.5 1035.4 L1309.5 1034.9 L1308.4 1034.9 L1307.3 1034.2 L1306.3 1035.0 L1305.5 1034.1 L1305.2 1034.4 L1304.0 1035.0 L1302.9 1034.6 L1301.7 1033.8 L1300.6 1033.8 L1299.4 1034.5 L1298.1 1033.9 L1296.9 1033.6 L1295.6 1034.0 L1294.3 1034.4 L1293.0 1033.8 L1291.7 1033.2 L1290.3 1033.2 L1288.9 1033.1 L1287.4 1032.9 L1286.0 1033.0 L1284.5 1034.3 L1283.0 1034.2 L1281.4 1032.5 L1279.8 1032.5 L1278.1 1033.3 L1276.4 1033.3 L1274.7 1032.0 L1272.9 1032.0 L1271.1 1032.0 L1269.2 1032.1 L1267.3 1031.5 L1265.3 1032.7 L1263.3 1032.1 L1261.1 1031.5 L1259.4 1031.0 L1259.0 1032.8 L1256.7 1031.6 L1254.4 1031.8 L1251.9 1031.8 L1249.4 1032.0 L1246.8 1030.5 L1244.1 1029.5 L1241.2 1031.0 L1238.3 1030.0 L1235.2 1029.4 L1231.9 1028.6 L1228.5 1028.0 L1224.9 1027.6 L1221.1 1027.5 L1217.0 1026.8 L1213.2 1026.4 L1212.7 1026.3 L1208.1 1025.7 L1203.2 1025.0 L1176.3 1017.2 L1145.5 995.6 L1136.3 977.2 L1114.8 964.8 L1080.9 854.1 L1049.2 777.2 Z" fill="#b394c4"/>
<path d="M1071.7 712.5 L1076.9 732.8 L1082.2 753.8 L1098.8 816.2 L1113.5 868.2 L1138.5 919.9 L1169.5 961.8 L1188.6 983.3 L1228.6 1001.8 L1274.8 1014.1 L1320.9 1021.8 L1364.0 1027.9" fill="none" stroke="#8e5298" stroke-width="7.4" stroke-linejoin="round"/>
<line x1="1049.25" y1="1031.58" x2="1362.60" y2="1031.58" stroke="#000" stroke-width="2.6" stroke-dasharray="8.1 3.8"/>
<line x1="1055.4" y1="776.5" x2="1104.0" y2="776.5" stroke="#000" stroke-width="2.7"/>
<line x1="1080.0" y1="745.8" x2="1080.0" y2="806.4" stroke="#000" stroke-width="2.7"/>
<circle cx="1080.0" cy="776.5" r="6.2"/>
<line x1="1104.0" y1="887.3" x2="1155.4" y2="887.3" stroke="#000" stroke-width="2.7"/>
<line x1="1130.2" y1="868.8" x2="1130.2" y2="905.8" stroke="#000" stroke-width="2.7"/>
<circle cx="1130.2" cy="887.3" r="6.2"/>
<line x1="1155.4" y1="1012.5" x2="1205.5" y2="1012.5" stroke="#000" stroke-width="2.7"/>
<line x1="1180.9" y1="872.5" x2="1180.9" y2="1115.6" stroke="#000" stroke-width="2.7"/>
<circle cx="1180.9" cy="1012.5" r="6.2"/>
<line x1="1205.5" y1="1017.2" x2="1356.3" y2="1017.2" stroke="#000" stroke-width="2.7"/>
<line x1="1281.5" y1="1005.8" x2="1281.5" y2="1028.5" stroke="#000" stroke-width="2.7"/>
<circle cx="1281.5" cy="1017.2" r="6.2"/>
</g>
<path d="M1089.26 733.80 V742.30 M1089.26 1100.30 V1091.80 M1116.29 733.80 V742.30 M1116.29 1100.30 V1091.80 M1135.47 733.80 V742.30 M1135.47 1100.30 V1091.80 M1150.34 733.80 V742.30 M1150.34 1100.30 V1091.80 M1162.50 733.80 V742.30 M1162.50 1100.30 V1091.80 M1172.77 733.80 V742.30 M1172.77 1100.30 V1091.80 M1181.67 733.80 V742.30 M1181.67 1100.30 V1091.80 M1189.53 733.80 V742.30 M1189.53 1100.30 V1091.80 M1196.55 733.80 V749.30 M1196.55 1100.30 V1084.80 M1242.76 733.80 V742.30 M1242.76 1100.30 V1091.80 M1269.79 733.80 V742.30 M1269.79 1100.30 V1091.80 M1288.97 733.80 V742.30 M1288.97 1100.30 V1091.80 M1303.84 733.80 V742.30 M1303.84 1100.30 V1091.80 M1316.00 733.80 V742.30 M1316.00 1100.30 V1091.80 M1326.27 733.80 V742.30 M1326.27 1100.30 V1091.80 M1335.17 733.80 V742.30 M1335.17 1100.30 V1091.80 M1343.03 733.80 V742.30 M1343.03 1100.30 V1091.80 M1350.05 733.80 V749.30 M1350.05 1100.30 V1084.80 M1049.25 1031.58 H1064.75 M1362.60 1031.58 H1347.10 M1049.25 939.96 H1064.75 M1362.60 939.96 H1347.10 M1049.25 848.33 H1064.75 M1362.60 848.33 H1347.10 M1049.25 756.71 H1064.75 M1362.60 756.71 H1347.10 M1049.25 1077.39 H1057.75 M1362.60 1077.39 H1354.10 M1049.25 985.77 H1057.75 M1362.60 985.77 H1354.10 M1049.25 894.14 H1057.75 M1362.60 894.14 H1354.10 M1049.25 802.52 H1057.75 M1362.60 802.52 H1354.10" stroke="#000" stroke-width="2.40" fill="none"/>
<rect x="1049.25" y="733.80" width="313.35" height="366.50" fill="none" stroke="#000" stroke-width="2.50"/>
<text x="1196.55" y="1136.30" font-size="38" text-anchor="middle">10<tspan font-size="27" dy="-14">−1</tspan></text>
<text x="1350.05" y="1136.30" font-size="38" text-anchor="middle">10<tspan font-size="27" dy="-14">0</tspan></text>
<text x="1214.25" y="798.80" font-size="39">I</text>
<g clip-path="url(#c16)">
<path d="M1362.5 724.8 L1463.2 724.8 L1473.9 786.4 L1481.6 804.8 L1486.2 832.5 L1492.0 857.5 L1492.4 860.2 L1497.0 878.7 L1499.1 877.3 L1505.4 877.6 L1507.8 878.7 L1511.2 871.3 L1512.4 872.5 L1516.6 888.3 L1517.0 894.1 L1521.5 889.1 L1523.2 892.5 L1526.1 904.2 L1527.8 912.5 L1530.4 918.2 L1533.9 931.0 L1534.4 929.4 L1538.3 927.0 L1541.6 937.2 L1541.9 935.3 L1545.3 937.6 L1548.5 939.0 L1551.6 941.7 L1553.9 946.4 L1554.6 945.8 L1557.4 941.5 L1560.1 943.3 L1560.1 942.6 L1562.8 950.2 L1565.3 952.5 L1566.2 961.8 L1567.7 963.9 L1570.0 968.8 L1572.3 971.2 L1572.4 974.1 L1574.5 970.2 L1576.6 972.3 L1578.7 974.4 L1580.6 978.0 L1582.6 978.8 L1584.5 977.8 L1586.3 980.3 L1588.1 978.3 L1589.8 982.7 L1590.8 983.3 L1591.5 982.9 L1593.1 980.4 L1594.7 984.2 L1596.3 981.4 L1597.8 984.7 L1599.3 983.1 L1600.8 985.8 L1602.2 985.0 L1603.6 988.8 L1605.0 987.7 L1606.4 990.2 L1607.7 990.8 L1609.0 986.4 L1610.2 991.1 L1611.5 991.1 L1612.7 992.0 L1613.9 993.4 L1615.1 993.9 L1616.3 994.5 L1617.4 992.2 L1618.5 995.6 L1618.5 995.6 L1619.6 991.7 L1620.7 995.5 L1621.8 991.7 L1622.8 995.7 L1623.8 994.0 L1624.9 997.5 L1625.9 996.7 L1626.9 995.0 L1627.8 994.3 L1628.8 997.6 L1629.7 994.8 L1630.7 999.2 L1631.6 998.7 L1632.5 999.4 L1633.4 999.2 L1634.3 998.0 L1635.1 1000.5 L1636.0 1000.8 L1636.9 997.9 L1637.7 1000.4 L1638.5 1000.5 L1639.3 1001.7 L1640.1 1001.7 L1640.9 1002.0 L1641.7 998.4 L1642.5 1001.8 L1643.3 1000.6 L1644.0 1002.3 L1644.8 1003.4 L1645.5 1002.6 L1646.3 1002.4 L1647.0 1002.4 L1647.7 1001.6 L1648.4 1002.9 L1649.1 1004.8 L1649.3 1004.8 L1649.8 1005.0 L1650.5 1003.3 L1651.2 1004.6 L1651.9 1003.7 L1652.6 1004.0 L1653.2 1004.3 L1653.9 1006.0 L1654.5 1003.9 L1655.2 1004.9 L1655.8 1003.6 L1656.5 1006.8 L1657.1 1004.5 L1657.7 1005.5 L1658.3 1007.1 L1658.9 1004.6 L1659.5 1007.3 L1660.1 1006.7 L1660.7 1004.8 L1661.3 1007.7 L1661.9 1008.2 L1662.5 1008.4 L1663.0 1007.2 L1663.6 1008.8 L1664.2 1009.0 L1664.7 1008.5 L1665.3 1008.7 L1665.8 1007.1 L1666.4 1008.1 L1666.9 1008.8 L1667.4 1008.9 L1668.0 1009.6 L1668.5 1008.9 L1669.0 1010.3 L1669.5 1007.6 L1670.1 1009.8 L1670.6 1008.3 L1671.1 1010.9 L1671.6 1009.1 L1672.1 1011.2 L1672.6 1009.1 L1673.1 1011.4 L1673.6 1010.7 L1674.0 1011.0 L1674.5 1010.1 L1675.0 1011.6 L1675.5 1012.1 L1675.9 1012.2 L1676.4 1009.3 L1676.9 1012.2 L1677.0 1012.5 L1677.3 1012.5 L1677.8 1011.5 L1678.2 1012.0 L1678.7 1010.2 L1679.1 1011.3 L1679.6 1012.5 L1680.0 1012.4 L1680.5 1010.5 L1680.9 1011.8 L1681.4 1012.3 L1681.8 1010.4 L1682.2 1011.2 L1682.2 1051.1 L1681.8 1052.6 L1681.4 1051.6 L1680.9 1049.8 L1680.5 1049.8 L1680.0 1050.1 L1679.6 1050.1 L1679.1 1051.0 L1678.7 1052.2 L1678.2 1050.5 L1677.8 1050.0 L1677.3 1053.0 L1677.0 1049.6 L1676.9 1051.1 L1676.4 1052.3 L1675.9 1052.5 L1675.5 1051.1 L1675.0 1051.2 L1674.5 1049.8 L1674.0 1052.1 L1673.6 1051.6 L1673.1 1050.5 L1672.6 1050.4 L1672.1 1051.1 L1671.6 1051.3 L1671.1 1050.2 L1670.6 1051.8 L1670.1 1050.3 L1669.5 1052.3 L1669.0 1053.2 L1668.5 1052.6 L1668.0 1051.5 L1667.4 1050.6 L1666.9 1051.4 L1666.4 1053.9 L1665.8 1051.2 L1665.3 1050.8 L1664.7 1051.0 L1664.2 1051.5 L1663.6 1052.9 L1663.0 1053.1 L1662.5 1051.2 L1661.9 1053.4 L1661.3 1054.0 L1661.0 1051.2 L1660.7 1052.9 L1660.1 1052.2 L1659.5 1053.6 L1658.9 1052.4 L1658.3 1051.8 L1657.7 1052.5 L1657.1 1052.0 L1656.5 1053.4 L1655.8 1052.4 L1655.2 1054.7 L1654.5 1053.7 L1653.9 1052.7 L1653.2 1055.1 L1652.6 1054.8 L1651.9 1055.9 L1651.2 1056.9 L1650.5 1053.4 L1649.8 1057.1 L1649.1 1054.5 L1648.4 1054.0 L1647.7 1054.4 L1647.0 1055.1 L1646.3 1055.8 L1645.5 1054.3 L1645.0 1054.4 L1644.8 1054.5 L1644.0 1058.5 L1643.3 1058.8 L1642.5 1056.5 L1641.7 1055.1 L1640.9 1057.0 L1640.1 1055.4 L1639.3 1056.2 L1638.5 1060.0 L1637.7 1058.9 L1636.9 1057.8 L1636.0 1059.4 L1635.1 1057.0 L1634.3 1058.3 L1633.4 1057.3 L1632.5 1060.6 L1631.6 1061.3 L1630.7 1058.8 L1629.7 1057.8 L1629.0 1057.6 L1628.8 1059.3 L1627.8 1058.2 L1626.9 1058.7 L1625.9 1060.5 L1624.9 1061.2 L1623.8 1060.5 L1622.8 1062.2 L1621.8 1063.6 L1620.7 1065.2 L1619.6 1065.1 L1619.4 1062.4 L1618.5 1063.7 L1617.4 1063.1 L1616.3 1063.6 L1615.1 1060.3 L1613.9 1060.1 L1613.0 1059.2 L1612.7 1059.6 L1611.5 1063.6 L1610.2 1062.2 L1609.0 1065.3 L1607.7 1064.0 L1606.4 1066.3 L1605.0 1066.7 L1603.6 1067.8 L1603.4 1067.2 L1602.2 1067.5 L1600.8 1062.7 L1600.2 1060.8 L1599.3 1065.4 L1597.8 1063.9 L1596.3 1062.8 L1594.7 1065.2 L1593.8 1064.0 L1593.1 1064.1 L1591.5 1067.5 L1589.8 1064.0 L1588.1 1066.4 L1587.4 1064.0 L1586.3 1068.5 L1584.5 1074.6 L1584.2 1075.2 L1582.6 1074.7 L1580.6 1069.3 L1579.4 1067.2 L1578.7 1073.2 L1576.6 1079.9 L1574.6 1080.0 L1574.5 1082.5 L1572.3 1075.8 L1570.0 1073.8 L1569.8 1070.4 L1567.7 1073.2 L1565.3 1080.6 L1565.0 1076.8 L1562.8 1082.0 L1561.8 1081.6 L1560.1 1089.3 L1558.6 1096.0 L1557.4 1089.4 L1555.4 1076.8 L1554.6 1080.4 L1552.2 1089.6 L1551.6 1086.1 L1549.0 1068.8 L1548.5 1071.0 L1547.4 1073.6 L1545.3 1104.0 L1545.0 1105.6 L1541.9 1107.7 L1538.3 1105.6 L1536.2 1105.6 L1534.9 1092.8 L1534.4 1099.1 L1533.8 1105.6 L1531.4 1105.6 L1530.4 1099.6 L1529.8 1096.0 L1528.2 1105.6 L1526.1 1113.4 L1521.5 1109.8 L1516.6 1106.2 L1511.2 1112.5 L1505.4 1112.8 L1499.1 1107.4 L1492.0 1110.5 L1360.2 1105.6 Z" fill="#d9d1e8"/>
<path d="M1362.5 724.8 L1412.4 724.8 L1415.5 743.3 L1429.3 804.8 L1440.1 823.3 L1467.8 903.3 L1495.5 940.2 L1516.6 961.8 L1521.5 968.4 L1526.1 973.6 L1529.3 977.2 L1530.4 977.7 L1534.4 977.5 L1538.3 980.7 L1541.9 981.3 L1545.3 984.7 L1548.5 986.0 L1551.6 988.3 L1554.6 988.9 L1557.4 989.3 L1560.1 992.0 L1562.8 993.8 L1565.3 994.7 L1567.7 996.2 L1570.0 997.4 L1572.3 997.6 L1572.4 998.7 L1574.5 998.7 L1576.6 998.4 L1578.7 1000.3 L1580.6 1000.8 L1582.6 1000.7 L1584.5 1001.8 L1586.3 1001.2 L1588.1 1002.6 L1589.8 1003.2 L1591.5 1002.8 L1593.1 1004.0 L1594.7 1004.6 L1596.3 1004.7 L1597.8 1005.3 L1599.3 1005.3 L1600.8 1005.7 L1602.2 1006.7 L1603.6 1006.9 L1605.0 1006.8 L1606.4 1006.8 L1607.7 1008.0 L1609.0 1006.9 L1610.2 1008.8 L1611.5 1007.9 L1612.7 1008.8 L1613.9 1008.2 L1615.1 1009.7 L1616.3 1010.0 L1617.4 1009.9 L1618.5 1011.0 L1618.5 1011.0 L1619.6 1011.2 L1620.7 1010.6 L1621.8 1011.0 L1622.8 1011.6 L1623.8 1011.5 L1624.9 1012.1 L1625.9 1012.3 L1626.9 1012.3 L1627.8 1011.3 L1628.8 1012.7 L1629.7 1013.0 L1630.7 1012.0 L1631.6 1013.4 L1632.5 1013.6 L1633.4 1013.1 L1634.3 1013.4 L1635.1 1014.0 L1636.0 1013.8 L1636.9 1013.8 L1637.7 1014.5 L1638.5 1013.3 L1639.3 1014.8 L1640.1 1015.0 L1640.9 1015.1 L1641.7 1014.8 L1642.5 1015.4 L1643.3 1015.4 L1644.0 1015.3 L1644.8 1015.8 L1645.5 1014.7 L1646.3 1015.7 L1647.0 1015.7 L1647.7 1015.8 L1648.4 1016.4 L1649.1 1015.6 L1649.8 1016.8 L1650.5 1016.9 L1651.2 1016.9 L1651.9 1016.1 L1652.6 1017.3 L1653.2 1017.0 L1653.9 1017.5 L1654.5 1017.6 L1655.2 1017.5 L1655.8 1017.5 L1656.5 1017.9 L1657.1 1018.1 L1657.7 1017.4 L1658.3 1018.2 L1658.9 1018.2 L1659.5 1018.1 L1660.1 1018.2 L1660.7 1018.5 L1661.3 1018.9 L1661.9 1018.5 L1662.5 1019.1 L1663.0 1019.2 L1663.6 1018.4 L1664.2 1018.0 L1664.7 1019.5 L1665.3 1018.3 L1665.8 1019.5 L1666.4 1019.0 L1666.9 1019.5 L1667.4 1019.2 L1668.0 1019.7 L1668.5 1020.1 L1669.0 1019.3 L1669.5 1020.3 L1670.1 1020.3 L1670.6 1020.5 L1671.1 1020.7 L1671.6 1020.2 L1672.1 1020.8 L1672.6 1020.1 L1673.1 1020.0 L1673.6 1020.2 L1674.0 1021.0 L1674.5 1021.0 L1675.0 1021.3 L1675.5 1021.0 L1675.9 1021.2 L1676.4 1021.0 L1676.9 1021.7 L1677.0 1021.8 L1677.3 1021.7 L1677.8 1021.8 L1678.2 1021.8 L1678.7 1021.7 L1679.1 1021.8 L1679.6 1021.7 L1680.0 1020.9 L1680.5 1020.7 L1680.9 1020.5 L1681.4 1021.7 L1681.8 1021.7 L1682.2 1020.6 L1682.2 1040.7 L1681.8 1040.6 L1681.4 1040.3 L1680.9 1040.4 L1680.5 1040.4 L1680.0 1041.1 L1679.6 1041.2 L1679.1 1040.3 L1678.7 1040.2 L1678.2 1040.5 L1677.8 1040.6 L1677.3 1040.3 L1677.0 1040.2 L1676.9 1040.3 L1676.4 1040.4 L1675.9 1040.3 L1675.5 1040.6 L1675.0 1040.5 L1674.5 1041.0 L1674.0 1040.8 L1673.6 1040.8 L1673.1 1040.4 L1672.6 1039.9 L1672.1 1040.7 L1671.6 1039.9 L1671.1 1039.9 L1670.6 1040.7 L1670.1 1040.5 L1669.5 1039.6 L1669.0 1040.7 L1668.5 1039.6 L1668.0 1040.0 L1667.4 1039.6 L1666.9 1040.1 L1666.4 1040.6 L1665.8 1039.4 L1665.3 1040.1 L1664.7 1039.8 L1664.2 1039.5 L1663.6 1039.6 L1663.0 1040.3 L1662.5 1040.0 L1661.9 1039.3 L1661.3 1039.0 L1660.7 1039.2 L1660.1 1038.9 L1659.5 1039.6 L1658.9 1038.9 L1658.3 1038.8 L1657.7 1039.6 L1657.1 1039.4 L1656.5 1038.9 L1655.8 1039.1 L1655.2 1038.7 L1654.5 1038.5 L1653.9 1038.4 L1653.2 1038.8 L1652.6 1039.7 L1651.9 1038.5 L1651.2 1038.6 L1650.5 1038.8 L1649.8 1038.6 L1649.1 1038.0 L1648.4 1038.1 L1647.7 1038.1 L1647.0 1038.1 L1646.3 1038.4 L1645.5 1038.3 L1644.8 1037.9 L1644.0 1037.6 L1643.3 1037.6 L1642.5 1037.6 L1641.7 1037.5 L1640.9 1037.6 L1640.1 1037.4 L1639.3 1037.6 L1638.5 1037.7 L1637.7 1038.0 L1636.9 1037.2 L1636.0 1037.1 L1635.1 1037.0 L1634.3 1037.2 L1633.4 1037.1 L1632.5 1036.9 L1631.6 1037.1 L1630.7 1036.6 L1629.7 1037.4 L1628.8 1037.5 L1627.8 1036.6 L1626.9 1036.4 L1625.9 1036.5 L1624.9 1036.2 L1623.8 1036.5 L1622.8 1036.1 L1621.8 1036.1 L1620.7 1035.8 L1619.6 1036.8 L1618.5 1035.6 L1618.5 1036.9 L1617.4 1035.8 L1616.3 1036.2 L1615.1 1035.5 L1613.9 1035.2 L1612.7 1035.1 L1611.5 1034.9 L1610.2 1035.4 L1609.0 1034.9 L1607.7 1034.8 L1606.4 1035.3 L1605.0 1034.7 L1603.6 1034.5 L1602.2 1034.1 L1600.8 1034.3 L1599.3 1033.7 L1597.8 1033.6 L1596.3 1034.6 L1594.7 1033.8 L1593.1 1033.1 L1591.5 1032.9 L1589.8 1032.8 L1588.1 1033.2 L1586.3 1033.4 L1584.5 1032.5 L1582.6 1033.6 L1580.6 1033.3 L1578.7 1033.3 L1576.6 1032.4 L1574.5 1032.4 L1572.4 1031.0 L1572.3 1031.8 L1570.0 1031.2 L1567.7 1030.5 L1565.3 1030.9 L1562.8 1031.8 L1560.1 1031.7 L1557.4 1031.3 L1554.6 1029.2 L1551.6 1029.7 L1548.5 1028.6 L1545.3 1029.5 L1541.9 1028.0 L1538.3 1028.9 L1534.4 1027.7 L1530.4 1028.7 L1526.2 1026.4 L1526.1 1026.5 L1521.5 1025.5 L1516.6 1024.5 L1489.3 1018.7 L1458.5 995.6 L1449.3 974.1 L1427.8 961.8 L1393.9 835.6 L1362.5 758.7 Z" fill="#b394c4"/>
<path d="M1362.5 712.5 L1390.8 731.0 L1393.9 743.3 L1427.8 875.6 L1453.3 919.9 L1486.5 961.8 L1503.2 982.4 L1541.6 1001.8 L1587.8 1014.1 L1633.9 1023.3 L1677.0 1027.9" fill="none" stroke="#8e5298" stroke-width="7.4" stroke-linejoin="round"/>
<line x1="1362.60" y1="1031.58" x2="1675.95" y2="1031.58" stroke="#000" stroke-width="2.6" stroke-dasharray="8.1 3.8"/>
<line x1="1368.7" y1="804.2" x2="1417.6" y2="804.2" stroke="#000" stroke-width="2.7"/>
<line x1="1393.3" y1="774.1" x2="1393.3" y2="833.5" stroke="#000" stroke-width="2.7"/>
<circle cx="1393.3" cy="804.2" r="6.2"/>
<line x1="1417.6" y1="845.5" x2="1468.4" y2="845.5" stroke="#000" stroke-width="2.7"/>
<line x1="1443.2" y1="829.5" x2="1443.2" y2="860.2" stroke="#000" stroke-width="2.7"/>
<circle cx="1443.2" cy="845.5" r="6.2"/>
<line x1="1468.4" y1="890.1" x2="1519.2" y2="890.1" stroke="#000" stroke-width="2.7"/>
<line x1="1493.9" y1="867.3" x2="1493.9" y2="912.5" stroke="#000" stroke-width="2.7"/>
<circle cx="1493.9" cy="890.1" r="6.2"/>
<line x1="1519.2" y1="1036.2" x2="1569.3" y2="1036.2" stroke="#000" stroke-width="2.7"/>
<line x1="1544.1" y1="967.9" x2="1544.1" y2="1115.6" stroke="#000" stroke-width="2.7"/>
<circle cx="1544.1" cy="1036.2" r="6.2"/>
<line x1="1569.3" y1="1033.2" x2="1669.3" y2="1033.2" stroke="#000" stroke-width="2.7"/>
<line x1="1620.1" y1="1025.8" x2="1620.1" y2="1040.2" stroke="#000" stroke-width="2.7"/>
<circle cx="1620.1" cy="1033.2" r="6.2"/>
</g>
<path d="M1402.61 733.80 V742.30 M1402.61 1100.30 V1091.80 M1429.64 733.80 V742.30 M1429.64 1100.30 V1091.80 M1448.82 733.80 V742.30 M1448.82 1100.30 V1091.80 M1463.69 733.80 V742.30 M1463.69 1100.30 V1091.80 M1475.85 733.80 V742.30 M1475.85 1100.30 V1091.80 M1486.12 733.80 V742.30 M1486.12 1100.30 V1091.80 M1495.02 733.80 V742.30 M1495.02 1100.30 V1091.80 M1502.88 733.80 V742.30 M1502.88 1100.30 V1091.80 M1509.90 733.80 V749.30 M1509.90 1100.30 V1084.80 M1556.11 733.80 V742.30 M1556.11 1100.30 V1091.80 M1583.14 733.80 V742.30 M1583.14 1100.30 V1091.80 M1602.32 733.80 V742.30 M1602.32 1100.30 V1091.80 M1617.19 733.80 V742.30 M1617.19 1100.30 V1091.80 M1629.35 733.80 V742.30 M1629.35 1100.30 V1091.80 M1639.62 733.80 V742.30 M1639.62 1100.30 V1091.80 M1648.52 733.80 V742.30 M1648.52 1100.30 V1091.80 M1656.38 733.80 V742.30 M1656.38 1100.30 V1091.80 M1663.40 733.80 V749.30 M1663.40 1100.30 V1084.80 M1362.60 1031.58 H1378.10 M1675.95 1031.58 H1660.45 M1362.60 939.96 H1378.10 M1675.95 939.96 H1660.45 M1362.60 848.33 H1378.10 M1675.95 848.33 H1660.45 M1362.60 756.71 H1378.10 M1675.95 756.71 H1660.45 M1362.60 1077.39 H1371.10 M1675.95 1077.39 H1667.45 M1362.60 985.77 H1371.10 M1675.95 985.77 H1667.45 M1362.60 894.14 H1371.10 M1675.95 894.14 H1667.45 M1362.60 802.52 H1371.10 M1675.95 802.52 H1667.45" stroke="#000" stroke-width="2.40" fill="none"/>
<rect x="1362.60" y="733.80" width="313.35" height="366.50" fill="none" stroke="#000" stroke-width="2.50"/>
<text x="1509.90" y="1136.30" font-size="38" text-anchor="middle">10<tspan font-size="27" dy="-14">−1</tspan></text>
<text x="1663.40" y="1136.30" font-size="38" text-anchor="middle">10<tspan font-size="27" dy="-14">0</tspan></text>
<text x="1527.60" y="798.80" font-size="39">z</text>
<text x="899" y="1193" font-size="40" font-style="italic">f</text>
<text x="935" y="1193" font-size="40">[</text>
<text x="944" y="1193" font-size="40">days</text>
<text x="1017" y="1176" font-size="28">−1</text>
<text x="1051" y="1193" font-size="40">]</text>
<text transform="translate(31,641.0) rotate(-90)" font-size="47" font-style="italic">T</text>
<text transform="translate(36,615.5) rotate(-90)" font-size="28">lag</text>
<text transform="translate(31,566) rotate(-90)" font-size="40">[</text>
<text transform="translate(31,555.5) rotate(-90)" font-size="40">days</text>
<text transform="translate(31,485) rotate(-90)" font-size="40">]</text>
</svg></body></html>
